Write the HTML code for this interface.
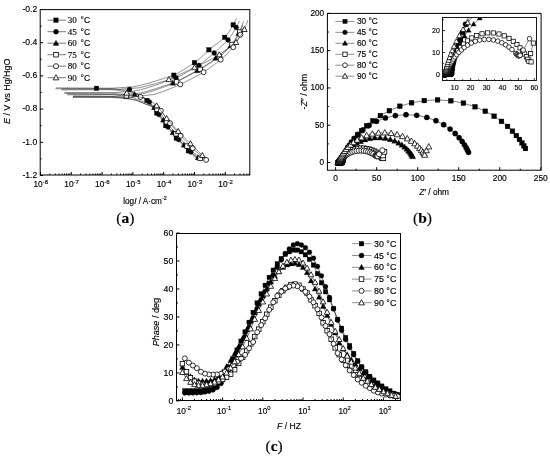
<!DOCTYPE html>
<html><head><meta charset="utf-8"><style>
html,body{margin:0;padding:0;background:#fff;}
svg{display:block;filter:blur(0.35px);} text{stroke:#000;stroke-width:0.15px;}
</style></head><body>
<svg width="550" height="457" viewBox="0 0 550 457">
<defs><clipPath id="clipA"><rect x="41" y="10" width="209" height="165"/></clipPath><clipPath id="clipI"><rect x="443" y="18" width="93" height="62"/></clipPath></defs>
<rect width="550" height="457" fill="#fff"/>
<rect x="40.2" y="9.6" width="209.6" height="165.4" fill="none" stroke="#000" stroke-width="1"/>
<line x1="40.2" y1="9.5" x2="43.2" y2="9.5" stroke="#000" stroke-width="1"/>
<text x="37.2" y="11.8" font-size="8.6" text-anchor="end" font-family='"Liberation Sans", Arial, sans-serif' >-0.2</text>
<line x1="40.2" y1="26.1" x2="41.7" y2="26.1" stroke="#000" stroke-width="1"/>
<line x1="40.2" y1="42.7" x2="43.2" y2="42.7" stroke="#000" stroke-width="1"/>
<text x="37.2" y="45" font-size="8.6" text-anchor="end" font-family='"Liberation Sans", Arial, sans-serif' >-0.4</text>
<line x1="40.2" y1="59.3" x2="41.7" y2="59.3" stroke="#000" stroke-width="1"/>
<line x1="40.2" y1="75.9" x2="43.2" y2="75.9" stroke="#000" stroke-width="1"/>
<text x="37.2" y="78.2" font-size="8.6" text-anchor="end" font-family='"Liberation Sans", Arial, sans-serif' >-0.6</text>
<line x1="40.2" y1="92.5" x2="41.7" y2="92.5" stroke="#000" stroke-width="1"/>
<line x1="40.2" y1="109.1" x2="43.2" y2="109.1" stroke="#000" stroke-width="1"/>
<text x="37.2" y="111.4" font-size="8.6" text-anchor="end" font-family='"Liberation Sans", Arial, sans-serif' >-0.8</text>
<line x1="40.2" y1="125.7" x2="41.7" y2="125.7" stroke="#000" stroke-width="1"/>
<line x1="40.2" y1="142.3" x2="43.2" y2="142.3" stroke="#000" stroke-width="1"/>
<text x="37.2" y="144.6" font-size="8.6" text-anchor="end" font-family='"Liberation Sans", Arial, sans-serif' >-1.0</text>
<line x1="40.2" y1="158.9" x2="41.7" y2="158.9" stroke="#000" stroke-width="1"/>
<line x1="40.2" y1="175.5" x2="43.2" y2="175.5" stroke="#000" stroke-width="1"/>
<text x="37.2" y="177.8" font-size="8.6" text-anchor="end" font-family='"Liberation Sans", Arial, sans-serif' >-1.2</text>
<line x1="40.5" y1="175" x2="40.5" y2="172" stroke="#000" stroke-width="1"/>
<text x="40.8" y="187.4" font-size="8.3" text-anchor="middle" font-family='"Liberation Sans", Arial, sans-serif' >10<tspan dy="-3.6" font-size="6">-8</tspan></text>
<line x1="49.77" y1="175" x2="49.77" y2="173.5" stroke="#000" stroke-width="1"/>
<line x1="55.2" y1="175" x2="55.2" y2="173.5" stroke="#000" stroke-width="1"/>
<line x1="59.04" y1="175" x2="59.04" y2="173.5" stroke="#000" stroke-width="1"/>
<line x1="62.03" y1="175" x2="62.03" y2="173.5" stroke="#000" stroke-width="1"/>
<line x1="64.47" y1="175" x2="64.47" y2="173.5" stroke="#000" stroke-width="1"/>
<line x1="66.53" y1="175" x2="66.53" y2="173.5" stroke="#000" stroke-width="1"/>
<line x1="68.32" y1="175" x2="68.32" y2="173.5" stroke="#000" stroke-width="1"/>
<line x1="69.89" y1="175" x2="69.89" y2="173.5" stroke="#000" stroke-width="1"/>
<line x1="71.3" y1="175" x2="71.3" y2="172" stroke="#000" stroke-width="1"/>
<text x="71.6" y="187.4" font-size="8.3" text-anchor="middle" font-family='"Liberation Sans", Arial, sans-serif' >10<tspan dy="-3.6" font-size="6">-7</tspan></text>
<line x1="80.57" y1="175" x2="80.57" y2="173.5" stroke="#000" stroke-width="1"/>
<line x1="86" y1="175" x2="86" y2="173.5" stroke="#000" stroke-width="1"/>
<line x1="89.84" y1="175" x2="89.84" y2="173.5" stroke="#000" stroke-width="1"/>
<line x1="92.83" y1="175" x2="92.83" y2="173.5" stroke="#000" stroke-width="1"/>
<line x1="95.27" y1="175" x2="95.27" y2="173.5" stroke="#000" stroke-width="1"/>
<line x1="97.33" y1="175" x2="97.33" y2="173.5" stroke="#000" stroke-width="1"/>
<line x1="99.12" y1="175" x2="99.12" y2="173.5" stroke="#000" stroke-width="1"/>
<line x1="100.69" y1="175" x2="100.69" y2="173.5" stroke="#000" stroke-width="1"/>
<line x1="102.1" y1="175" x2="102.1" y2="172" stroke="#000" stroke-width="1"/>
<text x="102.4" y="187.4" font-size="8.3" text-anchor="middle" font-family='"Liberation Sans", Arial, sans-serif' >10<tspan dy="-3.6" font-size="6">-6</tspan></text>
<line x1="111.37" y1="175" x2="111.37" y2="173.5" stroke="#000" stroke-width="1"/>
<line x1="116.8" y1="175" x2="116.8" y2="173.5" stroke="#000" stroke-width="1"/>
<line x1="120.64" y1="175" x2="120.64" y2="173.5" stroke="#000" stroke-width="1"/>
<line x1="123.63" y1="175" x2="123.63" y2="173.5" stroke="#000" stroke-width="1"/>
<line x1="126.07" y1="175" x2="126.07" y2="173.5" stroke="#000" stroke-width="1"/>
<line x1="128.13" y1="175" x2="128.13" y2="173.5" stroke="#000" stroke-width="1"/>
<line x1="129.92" y1="175" x2="129.92" y2="173.5" stroke="#000" stroke-width="1"/>
<line x1="131.49" y1="175" x2="131.49" y2="173.5" stroke="#000" stroke-width="1"/>
<line x1="132.9" y1="175" x2="132.9" y2="172" stroke="#000" stroke-width="1"/>
<text x="133.2" y="187.4" font-size="8.3" text-anchor="middle" font-family='"Liberation Sans", Arial, sans-serif' >10<tspan dy="-3.6" font-size="6">-5</tspan></text>
<line x1="142.17" y1="175" x2="142.17" y2="173.5" stroke="#000" stroke-width="1"/>
<line x1="147.6" y1="175" x2="147.6" y2="173.5" stroke="#000" stroke-width="1"/>
<line x1="151.44" y1="175" x2="151.44" y2="173.5" stroke="#000" stroke-width="1"/>
<line x1="154.43" y1="175" x2="154.43" y2="173.5" stroke="#000" stroke-width="1"/>
<line x1="156.87" y1="175" x2="156.87" y2="173.5" stroke="#000" stroke-width="1"/>
<line x1="158.93" y1="175" x2="158.93" y2="173.5" stroke="#000" stroke-width="1"/>
<line x1="160.72" y1="175" x2="160.72" y2="173.5" stroke="#000" stroke-width="1"/>
<line x1="162.29" y1="175" x2="162.29" y2="173.5" stroke="#000" stroke-width="1"/>
<line x1="163.7" y1="175" x2="163.7" y2="172" stroke="#000" stroke-width="1"/>
<text x="164" y="187.4" font-size="8.3" text-anchor="middle" font-family='"Liberation Sans", Arial, sans-serif' >10<tspan dy="-3.6" font-size="6">-4</tspan></text>
<line x1="172.97" y1="175" x2="172.97" y2="173.5" stroke="#000" stroke-width="1"/>
<line x1="178.4" y1="175" x2="178.4" y2="173.5" stroke="#000" stroke-width="1"/>
<line x1="182.24" y1="175" x2="182.24" y2="173.5" stroke="#000" stroke-width="1"/>
<line x1="185.23" y1="175" x2="185.23" y2="173.5" stroke="#000" stroke-width="1"/>
<line x1="187.67" y1="175" x2="187.67" y2="173.5" stroke="#000" stroke-width="1"/>
<line x1="189.73" y1="175" x2="189.73" y2="173.5" stroke="#000" stroke-width="1"/>
<line x1="191.52" y1="175" x2="191.52" y2="173.5" stroke="#000" stroke-width="1"/>
<line x1="193.09" y1="175" x2="193.09" y2="173.5" stroke="#000" stroke-width="1"/>
<line x1="194.5" y1="175" x2="194.5" y2="172" stroke="#000" stroke-width="1"/>
<text x="194.8" y="187.4" font-size="8.3" text-anchor="middle" font-family='"Liberation Sans", Arial, sans-serif' >10<tspan dy="-3.6" font-size="6">-3</tspan></text>
<line x1="203.77" y1="175" x2="203.77" y2="173.5" stroke="#000" stroke-width="1"/>
<line x1="209.2" y1="175" x2="209.2" y2="173.5" stroke="#000" stroke-width="1"/>
<line x1="213.04" y1="175" x2="213.04" y2="173.5" stroke="#000" stroke-width="1"/>
<line x1="216.03" y1="175" x2="216.03" y2="173.5" stroke="#000" stroke-width="1"/>
<line x1="218.47" y1="175" x2="218.47" y2="173.5" stroke="#000" stroke-width="1"/>
<line x1="220.53" y1="175" x2="220.53" y2="173.5" stroke="#000" stroke-width="1"/>
<line x1="222.32" y1="175" x2="222.32" y2="173.5" stroke="#000" stroke-width="1"/>
<line x1="223.89" y1="175" x2="223.89" y2="173.5" stroke="#000" stroke-width="1"/>
<line x1="225.3" y1="175" x2="225.3" y2="172" stroke="#000" stroke-width="1"/>
<text x="225.6" y="187.4" font-size="8.3" text-anchor="middle" font-family='"Liberation Sans", Arial, sans-serif' >10<tspan dy="-3.6" font-size="6">-2</tspan></text>
<line x1="234.57" y1="175" x2="234.57" y2="173.5" stroke="#000" stroke-width="1"/>
<line x1="240" y1="175" x2="240" y2="173.5" stroke="#000" stroke-width="1"/>
<line x1="243.84" y1="175" x2="243.84" y2="173.5" stroke="#000" stroke-width="1"/>
<line x1="246.83" y1="175" x2="246.83" y2="173.5" stroke="#000" stroke-width="1"/>
<line x1="249.27" y1="175" x2="249.27" y2="173.5" stroke="#000" stroke-width="1"/>
<text transform="translate(10.2,91.3) rotate(-90) scale(1.09,1)" font-size="8.2" text-anchor="middle" font-family='"Liberation Sans", Arial, sans-serif'><tspan font-style="italic">E</tspan> / V vs Hg/HgO</text>
<text x="145" y="203.5" font-size="8.2" text-anchor="middle" font-family='"Liberation Sans", Arial, sans-serif' >log<tspan font-style="italic">I</tspan> / A·cm<tspan dy="-3.2" font-size="5.4">-2</tspan></text>
<text x="125.4" y="223.2" font-size="15.5" text-anchor="middle" font-family='"Liberation Serif", "Times New Roman", serif' >(<tspan font-weight="bold">a</tspan>)</text>
<g clip-path="url(#clipA)">
<polyline fill="none" stroke="#222" stroke-width="0.5" points="196.15,157.8 194.15,156.03 192.16,154.25 190.18,152.48 188.24,150.7 186.39,148.93 184.59,147.15 182.84,145.38 181.16,143.61 179.53,141.83 177.94,140.06 176.37,138.28 174.82,136.51 173.3,134.73 171.8,132.96 170.32,131.18 168.84,129.41 167.38,127.64 165.96,125.86 164.62,124.09 163.35,122.31 162.12,120.54 160.9,118.76 159.63,116.99 158.36,115.22 157.07,113.44 155.76,111.67 154.42,109.89 153.02,108.12 151.58,106.34 150.16,104.57 148.86,102.79 147.47,101.02 145.67,99.25 143.32,97.47 140.5,95.7 137.29,93.92 133.41,92.15 127.73,90.37 112,88.6 55.8,88.75 56.1,87.85 112,88.2 133.89,86.77 140.25,85.35 146.09,83.92 151.04,82.49 155.53,81.07 159.87,79.64 164.6,78.21 169.37,76.79 173.42,75.36 176.47,73.93 179.07,72.51 181.4,71.08 183.63,69.66 185.93,68.23 188.23,66.8 190.47,65.38 192.61,63.95 194.6,62.52 196.47,61.1 198.22,59.67 199.9,58.24 201.53,56.82 203.1,55.39 204.56,53.96 205.98,52.54 207.45,51.11 209.04,49.68 210.8,48.26 212.7,46.83 214.63,45.4 216.52,43.98 218.35,42.55 220.22,41.12 222.04,39.7 223.7,38.27 225.13,36.84 226.38,35.42 227.52,33.99 228.56,32.57 229.54,31.14 230.45,29.71 231.29,28.29 232.09,26.86 232.86,25.43 233.63,24.01 234.38,22.58 235.11,21.15 235.81,19.73 236.5,18.3"/>
<rect x="171.55" y="72.95" width="4.5" height="4.5" fill="#000" stroke="#000" stroke-width="0.3"/>
<rect x="192.25" y="60.35" width="4.5" height="4.5" fill="#000" stroke="#000" stroke-width="0.3"/>
<rect x="206.65" y="47.55" width="4.5" height="4.5" fill="#000" stroke="#000" stroke-width="0.3"/>
<rect x="222.45" y="35.05" width="4.5" height="4.5" fill="#000" stroke="#000" stroke-width="0.3"/>
<rect x="230.95" y="22.55" width="4.5" height="4.5" fill="#000" stroke="#000" stroke-width="0.3"/>
<rect x="144.65" y="98.15" width="4.5" height="4.5" fill="#000" stroke="#000" stroke-width="0.3"/>
<rect x="154.5" y="110.75" width="4.5" height="4.5" fill="#000" stroke="#000" stroke-width="0.3"/>
<rect x="163.51" y="123.35" width="4.5" height="4.5" fill="#000" stroke="#000" stroke-width="0.3"/>
<rect x="174.05" y="135.95" width="4.5" height="4.5" fill="#000" stroke="#000" stroke-width="0.3"/>
<rect x="186.1" y="148.55" width="4.5" height="4.5" fill="#000" stroke="#000" stroke-width="0.3"/>
<rect x="94.25" y="86.05" width="4.5" height="4.5" fill="#000" stroke="#000" stroke-width="0.3"/>
<polyline fill="none" stroke="#222" stroke-width="0.5" points="197.91,158.3 195.92,156.54 193.94,154.78 191.97,153.02 190.03,151.26 188.15,149.51 186.35,147.75 184.59,145.99 182.9,144.23 181.25,142.47 179.66,140.71 178.09,138.95 176.55,137.19 175.03,135.43 173.53,133.67 172.04,131.92 170.57,130.16 169.1,128.4 167.67,126.64 166.3,124.88 165.01,123.12 163.77,121.36 162.55,119.6 161.32,117.84 160.05,116.08 158.77,114.33 157.48,112.57 156.16,110.81 154.8,109.05 153.39,107.29 151.96,105.53 150.62,103.77 149.36,102.01 147.79,100.25 145.31,98.49 141.85,96.74 138.12,94.98 134.21,93.22 128.11,91.46 112,89.7 61.6,89.85 61.9,88.95 118,89.3 138.38,87.9 144.32,86.51 150.03,85.11 155.26,83.72 160.12,82.32 165.15,80.92 170.63,79.53 175.38,78.13 178.71,76.74 181.44,75.34 183.84,73.94 186.16,72.55 188.64,71.15 191.26,69.76 193.88,68.36 196.38,66.97 198.65,65.57 200.63,64.17 202.43,62.78 204.13,61.38 205.8,59.99 207.51,58.59 209.26,57.19 211,55.8 212.7,54.4 214.3,53.01 215.81,51.61 217.24,50.21 218.64,48.82 220.05,47.42 221.5,46.03 223.05,44.63 224.63,43.23 226.15,41.84 227.52,40.44 228.7,39.05 229.74,37.65 230.7,36.26 231.62,34.86 232.52,33.46 233.44,32.07 234.33,30.67 235.18,29.28 235.99,27.88 236.74,26.48 237.47,25.09 238.15,23.69 238.8,22.3 239.4,20.9"/>
<circle cx="176" cy="77.9" r="2.48" fill="#000" stroke="#000" stroke-width="0.3"/>
<circle cx="198.9" cy="65.4" r="2.48" fill="#000" stroke="#000" stroke-width="0.3"/>
<circle cx="214.2" cy="53.1" r="2.48" fill="#000" stroke="#000" stroke-width="0.3"/>
<circle cx="228" cy="39.9" r="2.48" fill="#000" stroke="#000" stroke-width="0.3"/>
<circle cx="236.2" cy="27.5" r="2.48" fill="#000" stroke="#000" stroke-width="0.3"/>
<circle cx="149.35" cy="102" r="2.48" fill="#000" stroke="#000" stroke-width="0.3"/>
<circle cx="158.9" cy="114.5" r="2.48" fill="#000" stroke="#000" stroke-width="0.3"/>
<circle cx="167.96" cy="127" r="2.48" fill="#000" stroke="#000" stroke-width="0.3"/>
<circle cx="178.58" cy="139.5" r="2.48" fill="#000" stroke="#000" stroke-width="0.3"/>
<circle cx="190.83" cy="152" r="2.48" fill="#000" stroke="#000" stroke-width="0.3"/>
<circle cx="129.5" cy="89.4" r="2.48" fill="#000" stroke="#000" stroke-width="0.3"/>
<polyline fill="none" stroke="#222" stroke-width="0.5" points="199,159 197.78,157.35 195.4,155.7 193.44,154.05 191.61,152.41 189.8,150.76 188.07,149.11 186.39,147.46 184.76,145.81 183.18,144.16 181.65,142.51 180.16,140.86 178.69,139.22 177.24,137.57 175.82,135.92 174.41,134.27 173.02,132.62 171.64,130.97 170.26,129.32 168.91,127.67 167.59,126.03 166.33,124.38 165.15,122.73 164,121.08 162.86,119.43 161.7,117.78 160.52,116.13 159.33,114.48 158.13,112.84 156.9,111.19 155.66,109.54 154.56,107.89 153.31,106.24 151.39,104.59 147.26,102.94 142.05,101.29 137.75,99.65 134.01,98 127.76,96.35 112,94.7 67.5,94.85 67.8,93.95 118,94.7 139.12,93.21 145.38,91.71 150.61,90.22 155.46,88.72 159.94,87.23 164.41,85.74 169.1,84.24 173.55,82.75 177.26,81.26 180.42,79.76 183.27,78.27 185.95,76.77 188.59,75.28 191.31,73.79 194.04,72.29 196.74,70.8 199.36,69.3 201.89,67.81 204.29,66.32 206.56,64.82 208.74,63.33 210.85,61.83 212.89,60.34 214.89,58.85 216.84,57.35 218.73,55.86 220.56,54.37 222.36,52.87 224.15,51.38 225.99,49.88 227.84,48.39 229.54,46.9 230.94,45.4 232.11,43.91 233.15,42.41 234.11,40.92 235.05,39.43 235.97,37.93 236.85,36.44 237.69,34.94 238.47,33.45 239.21,31.96 239.91,30.46 240.57,28.97 241.21,27.48 241.83,25.98 242.42,24.49 242.97,22.99 243.5,21.5"/>
<polygon points="172.84,80.08 175.65,85.14 170.03,85.14" fill="#000" stroke="#000" stroke-width="0.3" stroke-linejoin="miter"/>
<polygon points="197.09,67.67 199.9,72.74 194.28,72.74" fill="#000" stroke="#000" stroke-width="0.3" stroke-linejoin="miter"/>
<polygon points="215.74,55.28 218.55,60.34 212.93,60.34" fill="#000" stroke="#000" stroke-width="0.3" stroke-linejoin="miter"/>
<polygon points="230.6,42.88 233.41,47.94 227.79,47.94" fill="#000" stroke="#000" stroke-width="0.3" stroke-linejoin="miter"/>
<polygon points="238.5,30.47 241.31,35.54 235.69,35.54" fill="#000" stroke="#000" stroke-width="0.3" stroke-linejoin="miter"/>
<polygon points="154.3,104.58 157.11,109.64 151.49,109.64" fill="#000" stroke="#000" stroke-width="0.3" stroke-linejoin="miter"/>
<polygon points="163.25,117.08 166.07,122.14 160.44,122.14" fill="#000" stroke="#000" stroke-width="0.3" stroke-linejoin="miter"/>
<polygon points="172.92,129.57 175.73,134.64 170.11,134.64" fill="#000" stroke="#000" stroke-width="0.3" stroke-linejoin="miter"/>
<polygon points="183.98,142.07 186.79,147.14 181.17,147.14" fill="#000" stroke="#000" stroke-width="0.3" stroke-linejoin="miter"/>
<polygon points="197.97,154.57 200.78,159.64 195.15,159.64" fill="#000" stroke="#000" stroke-width="0.3" stroke-linejoin="miter"/>
<polygon points="134.5,91.48 137.31,96.54 131.69,96.54" fill="#000" stroke="#000" stroke-width="0.3" stroke-linejoin="miter"/>
<polyline fill="none" stroke="#222" stroke-width="0.5" points="201.25,159.2 199.37,157.6 197.6,155.99 195.82,154.39 194.03,152.79 192.27,151.19 190.57,149.58 188.92,147.98 187.32,146.38 185.76,144.78 184.26,143.17 182.79,141.57 181.36,139.97 179.94,138.37 178.55,136.76 177.17,135.16 175.81,133.56 174.46,131.96 173.12,130.35 171.79,128.75 170.48,127.15 169.22,125.55 168.02,123.94 166.87,122.34 165.76,120.74 164.65,119.14 163.52,117.53 162.46,115.93 161.47,114.33 160.41,112.73 159.12,111.12 157.42,109.52 154.75,107.92 151.25,106.32 147.28,104.71 143.23,103.11 139.51,101.51 135.51,99.91 128.21,98.3 112,96.7 73.3,96.85 73.6,95.95 115,96.5 136.74,95.03 143.45,93.56 149,92.09 153.73,90.62 157.9,89.15 162.05,87.68 166.23,86.21 170.18,84.74 173.65,83.28 176.77,81.81 179.67,80.34 182.46,78.87 185.24,77.4 188.07,75.93 190.9,74.46 193.69,72.99 196.41,71.52 199.04,70.05 201.56,68.58 203.99,67.11 206.35,65.64 208.65,64.17 210.92,62.7 213.18,61.23 215.46,59.77 217.65,58.3 219.62,56.83 221.38,55.36 223.02,53.89 224.56,52.42 226.05,50.95 227.5,49.48 228.9,48.01 230.24,46.54 231.52,45.07 232.74,43.6 233.92,42.13 235.04,40.66 236.06,39.19 236.96,37.72 237.77,36.26 238.52,34.79 239.23,33.32 239.92,31.85 240.59,30.38 241.23,28.91 241.85,27.44 242.44,25.97 243,24.5"/>
<rect x="174.32" y="79.65" width="4.5" height="4.5" fill="#fff" stroke="#000" stroke-width="0.8"/>
<rect x="197.92" y="67.15" width="4.5" height="4.5" fill="#fff" stroke="#000" stroke-width="0.8"/>
<rect x="217.15" y="54.75" width="4.5" height="4.5" fill="#fff" stroke="#000" stroke-width="0.8"/>
<rect x="229.75" y="42.25" width="4.5" height="4.5" fill="#fff" stroke="#000" stroke-width="0.8"/>
<rect x="237.55" y="29.85" width="4.5" height="4.5" fill="#fff" stroke="#000" stroke-width="0.8"/>
<rect x="154.86" y="107.05" width="4.5" height="4.5" fill="#fff" stroke="#000" stroke-width="0.8"/>
<rect x="164.25" y="119.55" width="4.5" height="4.5" fill="#fff" stroke="#000" stroke-width="0.8"/>
<rect x="173.76" y="131.55" width="4.5" height="4.5" fill="#fff" stroke="#000" stroke-width="0.8"/>
<rect x="184.8" y="143.85" width="4.5" height="4.5" fill="#fff" stroke="#000" stroke-width="0.8"/>
<rect x="197.92" y="156.05" width="4.5" height="4.5" fill="#fff" stroke="#000" stroke-width="0.8"/>
<rect x="124.15" y="94.15" width="4.5" height="4.5" fill="#fff" stroke="#000" stroke-width="0.8"/>
<polyline fill="none" stroke="#222" stroke-width="0.5" points="206.29,160 204.26,158.39 202.38,156.78 200.54,155.18 198.69,153.57 196.84,151.96 195.03,150.35 193.29,148.75 191.6,147.14 189.96,145.53 188.36,143.92 186.8,142.32 185.29,140.71 183.8,139.1 182.32,137.49 180.87,135.88 179.43,134.28 178.02,132.67 176.61,131.06 175.2,129.45 173.81,127.85 172.46,126.24 171.16,124.63 169.93,123.02 168.74,121.42 167.57,119.81 166.38,118.2 165.2,116.59 164.15,114.98 163.09,113.38 161.85,111.77 160.24,110.16 157.7,108.55 153.93,106.95 149.48,105.34 144.94,103.73 140.94,102.12 136.84,100.52 128.76,98.91 112,97.3 73,97.45 73.3,96.55 132,97.4 138.92,95.97 153.81,94.55 158.24,93.12 162.4,91.69 166.27,90.27 169.9,88.84 173.41,87.41 176.77,85.99 179.95,84.56 182.96,83.13 185.82,81.71 188.59,80.28 191.32,78.86 194.06,77.43 196.81,76 199.5,74.58 202.03,73.15 204.35,71.72 206.45,70.3 208.42,68.87 210.33,67.44 212.25,66.02 214.2,64.59 216.14,63.16 218.03,61.74 219.84,60.31 221.54,58.88 223.15,57.46 224.7,56.03 226.18,54.6 227.63,53.18 229.08,51.75 230.49,50.32 231.81,48.9 233,47.47 234.01,46.04 234.92,44.62 235.76,43.19 236.56,41.77 237.38,40.34 238.19,38.91 238.97,37.49 239.72,36.06 240.43,34.63 241.1,33.21 241.75,31.78 242.37,30.35 242.95,28.93 243.5,27.5"/>
<circle cx="180.3" cy="84.4" r="2.48" fill="#fff" stroke="#000" stroke-width="0.8"/>
<circle cx="203.6" cy="72.2" r="2.48" fill="#fff" stroke="#000" stroke-width="0.8"/>
<circle cx="220.7" cy="59.6" r="2.48" fill="#fff" stroke="#000" stroke-width="0.8"/>
<circle cx="233.2" cy="47.2" r="2.48" fill="#fff" stroke="#000" stroke-width="0.8"/>
<circle cx="240.4" cy="34.7" r="2.48" fill="#fff" stroke="#000" stroke-width="0.8"/>
<circle cx="160.83" cy="110.7" r="2.48" fill="#fff" stroke="#000" stroke-width="0.8"/>
<circle cx="170.06" cy="123.2" r="2.48" fill="#fff" stroke="#000" stroke-width="0.8"/>
<circle cx="180.7" cy="135.7" r="2.48" fill="#fff" stroke="#000" stroke-width="0.8"/>
<circle cx="192.71" cy="148.2" r="2.48" fill="#fff" stroke="#000" stroke-width="0.8"/>
<circle cx="206.16" cy="159.9" r="2.48" fill="#fff" stroke="#000" stroke-width="0.8"/>
<circle cx="140.5" cy="97" r="2.48" fill="#fff" stroke="#000" stroke-width="0.8"/>
<polyline fill="none" stroke="#222" stroke-width="0.5" points="204.5,158.2 203.29,156.54 201.88,154.87 200.27,153.21 198.56,151.54 196.88,149.88 195.19,148.22 193.48,146.55 191.79,144.89 190.09,143.22 188.39,141.56 186.71,139.89 185.03,138.23 183.36,136.57 181.7,134.9 180.05,133.24 178.45,131.57 176.92,129.91 175.44,128.25 173.97,126.58 172.47,124.92 170.9,123.25 169.33,121.59 167.85,119.93 166.53,118.26 165.32,116.6 164.16,114.93 162.97,113.27 161.69,111.61 160.4,109.94 159.05,108.28 157.54,106.61 155.78,104.95 153.8,103.28 151.43,101.62 148.45,99.96 144.17,98.29 137.83,96.63 130.63,94.96 112,93.3 64.5,93.45 64.8,92.55 115,92.6 133.84,91.12 140.68,89.64 146.23,88.17 151,86.69 155.57,85.21 159.66,83.73 163.12,82.26 166.21,80.78 169.33,79.3 172.57,77.82 175.82,76.35 179.05,74.87 182.23,73.39 185.35,71.91 188.42,70.44 191.48,68.96 194.54,67.48 197.66,66 200.81,64.53 203.92,63.05 206.9,61.57 209.71,60.09 212.43,58.62 215.06,57.14 217.57,55.66 219.95,54.18 222.17,52.71 224.21,51.23 226.17,49.75 228.13,48.27 230.22,46.8 232.41,45.32 234.43,43.84 236.02,42.36 237.26,40.89 238.32,39.41 239.28,37.93 240.21,36.45 241.16,34.98 242.11,33.5 243.02,32.02 243.84,30.54 244.55,29.07 245.2,27.59 245.81,26.11 246.37,24.63 246.88,23.16 247.33,21.68 247.7,20.2"/>
<polygon points="168.9,76.58 171.71,81.64 166.09,81.64" fill="#fff" stroke="#000" stroke-width="0.8" stroke-linejoin="miter"/>
<polygon points="194.5,64.58 197.31,69.64 191.69,69.64" fill="#fff" stroke="#000" stroke-width="0.8" stroke-linejoin="miter"/>
<polygon points="219.3,51.68 222.11,56.74 216.49,56.74" fill="#fff" stroke="#000" stroke-width="0.8" stroke-linejoin="miter"/>
<polygon points="235.99,39.48 238.8,44.54 233.17,44.54" fill="#fff" stroke="#000" stroke-width="0.8" stroke-linejoin="miter"/>
<polygon points="244.4,26.47 247.21,31.54 241.59,31.54" fill="#fff" stroke="#000" stroke-width="0.8" stroke-linejoin="miter"/>
<polygon points="156.61,102.78 159.42,107.84 153.8,107.84" fill="#fff" stroke="#000" stroke-width="0.8" stroke-linejoin="miter"/>
<polygon points="166.71,115.58 169.52,120.64 163.9,120.64" fill="#fff" stroke="#000" stroke-width="0.8" stroke-linejoin="miter"/>
<polygon points="178.19,128.38 181.01,133.44 175.38,133.44" fill="#fff" stroke="#000" stroke-width="0.8" stroke-linejoin="miter"/>
<polygon points="190.47,140.67 193.29,145.74 187.66,145.74" fill="#fff" stroke="#000" stroke-width="0.8" stroke-linejoin="miter"/>
<polygon points="202.36,152.47 205.17,157.54 199.55,157.54" fill="#fff" stroke="#000" stroke-width="0.8" stroke-linejoin="miter"/>
<polygon points="126.8,90.08 129.61,95.14 123.99,95.14" fill="#fff" stroke="#000" stroke-width="0.8" stroke-linejoin="miter"/>
</g>
<line x1="47.5" y1="20.2" x2="66" y2="20.2" stroke="#222" stroke-width="0.6"/>
<rect x="53.7" y="17.9" width="4.6" height="4.6" fill="#000" stroke="#000" stroke-width="0.3"/>
<text x="67.8" y="23.2" font-size="9" text-anchor="start" font-family='"Liberation Serif", "Times New Roman", serif' >30</text>
<text x="80.6" y="23.2" font-size="8.6" text-anchor="start" font-family='"Liberation Sans", Arial, sans-serif' >°C</text>
<line x1="47.5" y1="31.7" x2="66" y2="31.7" stroke="#222" stroke-width="0.6"/>
<circle cx="56" cy="31.7" r="2.53" fill="#000" stroke="#000" stroke-width="0.3"/>
<text x="67.8" y="34.7" font-size="9" text-anchor="start" font-family='"Liberation Serif", "Times New Roman", serif' >45</text>
<text x="80.6" y="34.7" font-size="8.6" text-anchor="start" font-family='"Liberation Sans", Arial, sans-serif' >°C</text>
<line x1="47.5" y1="43.2" x2="66" y2="43.2" stroke="#222" stroke-width="0.6"/>
<polygon points="56,40.21 58.88,45.39 53.12,45.39" fill="#000" stroke="#000" stroke-width="0.3" stroke-linejoin="miter"/>
<text x="67.8" y="46.2" font-size="9" text-anchor="start" font-family='"Liberation Serif", "Times New Roman", serif' >60</text>
<text x="80.6" y="46.2" font-size="8.6" text-anchor="start" font-family='"Liberation Sans", Arial, sans-serif' >°C</text>
<line x1="47.5" y1="54.7" x2="66" y2="54.7" stroke="#222" stroke-width="0.6"/>
<rect x="53.7" y="52.4" width="4.6" height="4.6" fill="#fff" stroke="#000" stroke-width="0.8"/>
<text x="67.8" y="57.7" font-size="9" text-anchor="start" font-family='"Liberation Serif", "Times New Roman", serif' >75</text>
<text x="80.6" y="57.7" font-size="8.6" text-anchor="start" font-family='"Liberation Sans", Arial, sans-serif' >°C</text>
<line x1="47.5" y1="66.2" x2="66" y2="66.2" stroke="#222" stroke-width="0.6"/>
<circle cx="56" cy="66.2" r="2.53" fill="#fff" stroke="#000" stroke-width="0.8"/>
<text x="67.8" y="69.2" font-size="9" text-anchor="start" font-family='"Liberation Serif", "Times New Roman", serif' >80</text>
<text x="80.6" y="69.2" font-size="8.6" text-anchor="start" font-family='"Liberation Sans", Arial, sans-serif' >°C</text>
<line x1="47.5" y1="77.7" x2="66" y2="77.7" stroke="#222" stroke-width="0.6"/>
<polygon points="56,74.71 58.88,79.89 53.12,79.89" fill="#fff" stroke="#000" stroke-width="0.8" stroke-linejoin="miter"/>
<text x="67.8" y="80.7" font-size="9" text-anchor="start" font-family='"Liberation Serif", "Times New Roman", serif' >90</text>
<text x="80.6" y="80.7" font-size="8.6" text-anchor="start" font-family='"Liberation Sans", Arial, sans-serif' >°C</text>
<rect x="327.4" y="13.4" width="213.7" height="156.8" fill="none" stroke="#000" stroke-width="1"/>
<line x1="335.6" y1="170.2" x2="335.6" y2="167.2" stroke="#000" stroke-width="1"/>
<text x="335.6" y="181.3" font-size="8.4" text-anchor="middle" font-family='"Liberation Sans", Arial, sans-serif' >0</text>
<line x1="356.12" y1="170.2" x2="356.12" y2="168.7" stroke="#000" stroke-width="1"/>
<line x1="376.64" y1="170.2" x2="376.64" y2="167.2" stroke="#000" stroke-width="1"/>
<text x="376.64" y="181.3" font-size="8.4" text-anchor="middle" font-family='"Liberation Sans", Arial, sans-serif' >50</text>
<line x1="397.16" y1="170.2" x2="397.16" y2="168.7" stroke="#000" stroke-width="1"/>
<line x1="417.68" y1="170.2" x2="417.68" y2="167.2" stroke="#000" stroke-width="1"/>
<text x="417.68" y="181.3" font-size="8.4" text-anchor="middle" font-family='"Liberation Sans", Arial, sans-serif' >100</text>
<line x1="438.2" y1="170.2" x2="438.2" y2="168.7" stroke="#000" stroke-width="1"/>
<line x1="458.72" y1="170.2" x2="458.72" y2="167.2" stroke="#000" stroke-width="1"/>
<text x="458.72" y="181.3" font-size="8.4" text-anchor="middle" font-family='"Liberation Sans", Arial, sans-serif' >150</text>
<line x1="479.24" y1="170.2" x2="479.24" y2="168.7" stroke="#000" stroke-width="1"/>
<line x1="499.76" y1="170.2" x2="499.76" y2="167.2" stroke="#000" stroke-width="1"/>
<text x="499.76" y="181.3" font-size="8.4" text-anchor="middle" font-family='"Liberation Sans", Arial, sans-serif' >200</text>
<line x1="520.28" y1="170.2" x2="520.28" y2="168.7" stroke="#000" stroke-width="1"/>
<line x1="540.8" y1="170.2" x2="540.8" y2="167.2" stroke="#000" stroke-width="1"/>
<text x="540.8" y="181.3" font-size="8.4" text-anchor="middle" font-family='"Liberation Sans", Arial, sans-serif' >250</text>
<line x1="327.4" y1="162.5" x2="330.4" y2="162.5" stroke="#000" stroke-width="1"/>
<text x="324.1" y="164.8" font-size="8.2" text-anchor="end" font-family='"Liberation Sans", Arial, sans-serif' >0</text>
<line x1="327.4" y1="143.86" x2="328.9" y2="143.86" stroke="#000" stroke-width="1"/>
<line x1="327.4" y1="125.22" x2="330.4" y2="125.22" stroke="#000" stroke-width="1"/>
<text x="324.1" y="127.52" font-size="8.2" text-anchor="end" font-family='"Liberation Sans", Arial, sans-serif' >50</text>
<line x1="327.4" y1="106.59" x2="328.9" y2="106.59" stroke="#000" stroke-width="1"/>
<line x1="327.4" y1="87.95" x2="330.4" y2="87.95" stroke="#000" stroke-width="1"/>
<text x="324.1" y="90.25" font-size="8.2" text-anchor="end" font-family='"Liberation Sans", Arial, sans-serif' >100</text>
<line x1="327.4" y1="69.31" x2="328.9" y2="69.31" stroke="#000" stroke-width="1"/>
<line x1="327.4" y1="50.67" x2="330.4" y2="50.67" stroke="#000" stroke-width="1"/>
<text x="324.1" y="52.97" font-size="8.2" text-anchor="end" font-family='"Liberation Sans", Arial, sans-serif' >150</text>
<line x1="327.4" y1="32.04" x2="328.9" y2="32.04" stroke="#000" stroke-width="1"/>
<line x1="327.4" y1="13.4" x2="330.4" y2="13.4" stroke="#000" stroke-width="1"/>
<text x="324.1" y="15.7" font-size="8.2" text-anchor="end" font-family='"Liberation Sans", Arial, sans-serif' >200</text>
<text transform="translate(307,91.7) rotate(-90) scale(1.04,1)" font-size="8.4" text-anchor="middle" font-family='"Liberation Sans", Arial, sans-serif'>-<tspan font-style="italic">Z</tspan>″ / ohm</text>
<text x="434.2" y="194.5" font-size="8.3" text-anchor="middle" font-family='"Liberation Sans", Arial, sans-serif' ><tspan font-style="italic">Z</tspan>′ / ohm</text>
<text x="422.5" y="223" font-size="15.5" text-anchor="middle" font-family='"Liberation Serif", "Times New Roman", serif' >(<tspan font-weight="bold">b</tspan>)</text>
<polyline fill="none" stroke="#000" stroke-width="0.5" points="337.73,162.72 339.01,162.65 340.29,162.57 341.57,162.39 341.58,162.37 341.59,162.35 341.6,162.32 341.61,162.28 341.63,162.23 341.65,162.18 341.67,162.11 341.7,162.04 341.73,161.94 341.77,161.83 341.82,161.7 341.88,161.54 341.96,161.34 342.05,161.11 342.15,160.83 342.28,160.5 342.44,160.1 342.63,159.62 342.86,159.04 343.15,158.36 343.5,157.54 343.93,156.56 344.46,155.4 345.12,154.03 345.93,152.39 346.95,150.47 348.23,148.21 349.83,145.57 351.85,142.52 354.39,139.01 357.6,135.05 361.62,130.64 366.64,125.84 372.84,120.76 380.38,115.62 389.37,110.67 399.81,106.26 411.56,102.77 424.3,100.56 437.56,99.85 450.79,100.75 463.43,103.13 475.04,106.75 485.31,111.25 494.12,116.24 501.49,121.39 507.54,126.43 512.43,131.19 516.34,135.55 519.46,139.46 521.93,142.91 523.9,145.91 525.46,148.5"/>
<rect x="335.33" y="160.32" width="4.8" height="4.8" fill="#000" stroke="#000" stroke-width="0.3"/>
<rect x="336.61" y="160.25" width="4.8" height="4.8" fill="#000" stroke="#000" stroke-width="0.3"/>
<rect x="337.89" y="160.17" width="4.8" height="4.8" fill="#000" stroke="#000" stroke-width="0.3"/>
<rect x="339.17" y="159.99" width="4.8" height="4.8" fill="#000" stroke="#000" stroke-width="0.3"/>
<rect x="339.18" y="159.97" width="4.8" height="4.8" fill="#000" stroke="#000" stroke-width="0.3"/>
<rect x="339.19" y="159.95" width="4.8" height="4.8" fill="#000" stroke="#000" stroke-width="0.3"/>
<rect x="339.2" y="159.92" width="4.8" height="4.8" fill="#000" stroke="#000" stroke-width="0.3"/>
<rect x="339.21" y="159.88" width="4.8" height="4.8" fill="#000" stroke="#000" stroke-width="0.3"/>
<rect x="339.23" y="159.83" width="4.8" height="4.8" fill="#000" stroke="#000" stroke-width="0.3"/>
<rect x="339.25" y="159.78" width="4.8" height="4.8" fill="#000" stroke="#000" stroke-width="0.3"/>
<rect x="339.27" y="159.71" width="4.8" height="4.8" fill="#000" stroke="#000" stroke-width="0.3"/>
<rect x="339.3" y="159.64" width="4.8" height="4.8" fill="#000" stroke="#000" stroke-width="0.3"/>
<rect x="339.33" y="159.54" width="4.8" height="4.8" fill="#000" stroke="#000" stroke-width="0.3"/>
<rect x="339.37" y="159.43" width="4.8" height="4.8" fill="#000" stroke="#000" stroke-width="0.3"/>
<rect x="339.42" y="159.3" width="4.8" height="4.8" fill="#000" stroke="#000" stroke-width="0.3"/>
<rect x="339.48" y="159.14" width="4.8" height="4.8" fill="#000" stroke="#000" stroke-width="0.3"/>
<rect x="339.56" y="158.94" width="4.8" height="4.8" fill="#000" stroke="#000" stroke-width="0.3"/>
<rect x="339.65" y="158.71" width="4.8" height="4.8" fill="#000" stroke="#000" stroke-width="0.3"/>
<rect x="339.75" y="158.43" width="4.8" height="4.8" fill="#000" stroke="#000" stroke-width="0.3"/>
<rect x="339.88" y="158.1" width="4.8" height="4.8" fill="#000" stroke="#000" stroke-width="0.3"/>
<rect x="340.04" y="157.7" width="4.8" height="4.8" fill="#000" stroke="#000" stroke-width="0.3"/>
<rect x="340.23" y="157.22" width="4.8" height="4.8" fill="#000" stroke="#000" stroke-width="0.3"/>
<rect x="340.46" y="156.64" width="4.8" height="4.8" fill="#000" stroke="#000" stroke-width="0.3"/>
<rect x="340.75" y="155.96" width="4.8" height="4.8" fill="#000" stroke="#000" stroke-width="0.3"/>
<rect x="341.1" y="155.14" width="4.8" height="4.8" fill="#000" stroke="#000" stroke-width="0.3"/>
<rect x="341.53" y="154.16" width="4.8" height="4.8" fill="#000" stroke="#000" stroke-width="0.3"/>
<rect x="342.06" y="153" width="4.8" height="4.8" fill="#000" stroke="#000" stroke-width="0.3"/>
<rect x="342.72" y="151.63" width="4.8" height="4.8" fill="#000" stroke="#000" stroke-width="0.3"/>
<rect x="343.53" y="149.99" width="4.8" height="4.8" fill="#000" stroke="#000" stroke-width="0.3"/>
<rect x="344.55" y="148.07" width="4.8" height="4.8" fill="#000" stroke="#000" stroke-width="0.3"/>
<rect x="345.83" y="145.81" width="4.8" height="4.8" fill="#000" stroke="#000" stroke-width="0.3"/>
<rect x="347.43" y="143.17" width="4.8" height="4.8" fill="#000" stroke="#000" stroke-width="0.3"/>
<rect x="349.45" y="140.12" width="4.8" height="4.8" fill="#000" stroke="#000" stroke-width="0.3"/>
<rect x="351.99" y="136.61" width="4.8" height="4.8" fill="#000" stroke="#000" stroke-width="0.3"/>
<rect x="355.2" y="132.65" width="4.8" height="4.8" fill="#000" stroke="#000" stroke-width="0.3"/>
<rect x="359.22" y="128.24" width="4.8" height="4.8" fill="#000" stroke="#000" stroke-width="0.3"/>
<rect x="364.24" y="123.44" width="4.8" height="4.8" fill="#000" stroke="#000" stroke-width="0.3"/>
<rect x="370.44" y="118.36" width="4.8" height="4.8" fill="#000" stroke="#000" stroke-width="0.3"/>
<rect x="377.98" y="113.22" width="4.8" height="4.8" fill="#000" stroke="#000" stroke-width="0.3"/>
<rect x="386.97" y="108.27" width="4.8" height="4.8" fill="#000" stroke="#000" stroke-width="0.3"/>
<rect x="397.41" y="103.86" width="4.8" height="4.8" fill="#000" stroke="#000" stroke-width="0.3"/>
<rect x="409.16" y="100.37" width="4.8" height="4.8" fill="#000" stroke="#000" stroke-width="0.3"/>
<rect x="421.9" y="98.16" width="4.8" height="4.8" fill="#000" stroke="#000" stroke-width="0.3"/>
<rect x="435.16" y="97.45" width="4.8" height="4.8" fill="#000" stroke="#000" stroke-width="0.3"/>
<rect x="448.39" y="98.35" width="4.8" height="4.8" fill="#000" stroke="#000" stroke-width="0.3"/>
<rect x="461.03" y="100.73" width="4.8" height="4.8" fill="#000" stroke="#000" stroke-width="0.3"/>
<rect x="472.64" y="104.35" width="4.8" height="4.8" fill="#000" stroke="#000" stroke-width="0.3"/>
<rect x="482.91" y="108.85" width="4.8" height="4.8" fill="#000" stroke="#000" stroke-width="0.3"/>
<rect x="491.72" y="113.84" width="4.8" height="4.8" fill="#000" stroke="#000" stroke-width="0.3"/>
<rect x="499.09" y="118.99" width="4.8" height="4.8" fill="#000" stroke="#000" stroke-width="0.3"/>
<rect x="505.14" y="124.03" width="4.8" height="4.8" fill="#000" stroke="#000" stroke-width="0.3"/>
<rect x="510.03" y="128.79" width="4.8" height="4.8" fill="#000" stroke="#000" stroke-width="0.3"/>
<rect x="513.94" y="133.15" width="4.8" height="4.8" fill="#000" stroke="#000" stroke-width="0.3"/>
<rect x="517.06" y="137.06" width="4.8" height="4.8" fill="#000" stroke="#000" stroke-width="0.3"/>
<rect x="519.53" y="140.51" width="4.8" height="4.8" fill="#000" stroke="#000" stroke-width="0.3"/>
<rect x="521.5" y="143.51" width="4.8" height="4.8" fill="#000" stroke="#000" stroke-width="0.3"/>
<rect x="523.06" y="146.1" width="4.8" height="4.8" fill="#000" stroke="#000" stroke-width="0.3"/>
<polyline fill="none" stroke="#000" stroke-width="0.5" points="338.06,162.72 339.41,162.65 340.76,162.57 342.11,162.47 342.12,162.46 342.12,162.45 342.12,162.44 342.12,162.43 342.13,162.42 342.13,162.4 342.14,162.37 342.14,162.35 342.15,162.31 342.16,162.27 342.17,162.22 342.19,162.16 342.21,162.08 342.23,161.99 342.25,161.88 342.29,161.74 342.33,161.57 342.38,161.36 342.45,161.11 342.53,160.81 342.62,160.44 342.75,159.99 342.91,159.44 343.11,158.77 343.36,157.96 343.69,156.98 344.11,155.79 344.65,154.37 345.37,152.66 346.31,150.61 347.55,148.2 349.2,145.36 351.38,142.09 354.26,138.37 358.02,134.27 362.88,129.91 369.02,125.5 376.54,121.37 385.41,117.93 395.39,115.58 406.01,114.66 416.7,115.3 426.83,117.41 435.92,120.69 443.7,124.72 450.08,129.1 455.16,133.5 459.11,137.65 462.14,141.44 464.43,144.8 466.16,147.71 467.47,150.2 468.46,152.31"/>
<circle cx="338.06" cy="162.72" r="2.64" fill="#000" stroke="#000" stroke-width="0.3"/>
<circle cx="339.41" cy="162.65" r="2.64" fill="#000" stroke="#000" stroke-width="0.3"/>
<circle cx="340.76" cy="162.57" r="2.64" fill="#000" stroke="#000" stroke-width="0.3"/>
<circle cx="342.11" cy="162.47" r="2.64" fill="#000" stroke="#000" stroke-width="0.3"/>
<circle cx="342.12" cy="162.46" r="2.64" fill="#000" stroke="#000" stroke-width="0.3"/>
<circle cx="342.12" cy="162.45" r="2.64" fill="#000" stroke="#000" stroke-width="0.3"/>
<circle cx="342.12" cy="162.44" r="2.64" fill="#000" stroke="#000" stroke-width="0.3"/>
<circle cx="342.12" cy="162.43" r="2.64" fill="#000" stroke="#000" stroke-width="0.3"/>
<circle cx="342.13" cy="162.42" r="2.64" fill="#000" stroke="#000" stroke-width="0.3"/>
<circle cx="342.13" cy="162.4" r="2.64" fill="#000" stroke="#000" stroke-width="0.3"/>
<circle cx="342.14" cy="162.37" r="2.64" fill="#000" stroke="#000" stroke-width="0.3"/>
<circle cx="342.14" cy="162.35" r="2.64" fill="#000" stroke="#000" stroke-width="0.3"/>
<circle cx="342.15" cy="162.31" r="2.64" fill="#000" stroke="#000" stroke-width="0.3"/>
<circle cx="342.16" cy="162.27" r="2.64" fill="#000" stroke="#000" stroke-width="0.3"/>
<circle cx="342.17" cy="162.22" r="2.64" fill="#000" stroke="#000" stroke-width="0.3"/>
<circle cx="342.19" cy="162.16" r="2.64" fill="#000" stroke="#000" stroke-width="0.3"/>
<circle cx="342.21" cy="162.08" r="2.64" fill="#000" stroke="#000" stroke-width="0.3"/>
<circle cx="342.23" cy="161.99" r="2.64" fill="#000" stroke="#000" stroke-width="0.3"/>
<circle cx="342.25" cy="161.88" r="2.64" fill="#000" stroke="#000" stroke-width="0.3"/>
<circle cx="342.29" cy="161.74" r="2.64" fill="#000" stroke="#000" stroke-width="0.3"/>
<circle cx="342.33" cy="161.57" r="2.64" fill="#000" stroke="#000" stroke-width="0.3"/>
<circle cx="342.38" cy="161.36" r="2.64" fill="#000" stroke="#000" stroke-width="0.3"/>
<circle cx="342.45" cy="161.11" r="2.64" fill="#000" stroke="#000" stroke-width="0.3"/>
<circle cx="342.53" cy="160.81" r="2.64" fill="#000" stroke="#000" stroke-width="0.3"/>
<circle cx="342.62" cy="160.44" r="2.64" fill="#000" stroke="#000" stroke-width="0.3"/>
<circle cx="342.75" cy="159.99" r="2.64" fill="#000" stroke="#000" stroke-width="0.3"/>
<circle cx="342.91" cy="159.44" r="2.64" fill="#000" stroke="#000" stroke-width="0.3"/>
<circle cx="343.11" cy="158.77" r="2.64" fill="#000" stroke="#000" stroke-width="0.3"/>
<circle cx="343.36" cy="157.96" r="2.64" fill="#000" stroke="#000" stroke-width="0.3"/>
<circle cx="343.69" cy="156.98" r="2.64" fill="#000" stroke="#000" stroke-width="0.3"/>
<circle cx="344.11" cy="155.79" r="2.64" fill="#000" stroke="#000" stroke-width="0.3"/>
<circle cx="344.65" cy="154.37" r="2.64" fill="#000" stroke="#000" stroke-width="0.3"/>
<circle cx="345.37" cy="152.66" r="2.64" fill="#000" stroke="#000" stroke-width="0.3"/>
<circle cx="346.31" cy="150.61" r="2.64" fill="#000" stroke="#000" stroke-width="0.3"/>
<circle cx="347.55" cy="148.2" r="2.64" fill="#000" stroke="#000" stroke-width="0.3"/>
<circle cx="349.2" cy="145.36" r="2.64" fill="#000" stroke="#000" stroke-width="0.3"/>
<circle cx="351.38" cy="142.09" r="2.64" fill="#000" stroke="#000" stroke-width="0.3"/>
<circle cx="354.26" cy="138.37" r="2.64" fill="#000" stroke="#000" stroke-width="0.3"/>
<circle cx="358.02" cy="134.27" r="2.64" fill="#000" stroke="#000" stroke-width="0.3"/>
<circle cx="362.88" cy="129.91" r="2.64" fill="#000" stroke="#000" stroke-width="0.3"/>
<circle cx="369.02" cy="125.5" r="2.64" fill="#000" stroke="#000" stroke-width="0.3"/>
<circle cx="376.54" cy="121.37" r="2.64" fill="#000" stroke="#000" stroke-width="0.3"/>
<circle cx="385.41" cy="117.93" r="2.64" fill="#000" stroke="#000" stroke-width="0.3"/>
<circle cx="395.39" cy="115.58" r="2.64" fill="#000" stroke="#000" stroke-width="0.3"/>
<circle cx="406.01" cy="114.66" r="2.64" fill="#000" stroke="#000" stroke-width="0.3"/>
<circle cx="416.7" cy="115.3" r="2.64" fill="#000" stroke="#000" stroke-width="0.3"/>
<circle cx="426.83" cy="117.41" r="2.64" fill="#000" stroke="#000" stroke-width="0.3"/>
<circle cx="435.92" cy="120.69" r="2.64" fill="#000" stroke="#000" stroke-width="0.3"/>
<circle cx="443.7" cy="124.72" r="2.64" fill="#000" stroke="#000" stroke-width="0.3"/>
<circle cx="450.08" cy="129.1" r="2.64" fill="#000" stroke="#000" stroke-width="0.3"/>
<circle cx="455.16" cy="133.5" r="2.64" fill="#000" stroke="#000" stroke-width="0.3"/>
<circle cx="459.11" cy="137.65" r="2.64" fill="#000" stroke="#000" stroke-width="0.3"/>
<circle cx="462.14" cy="141.44" r="2.64" fill="#000" stroke="#000" stroke-width="0.3"/>
<circle cx="464.43" cy="144.8" r="2.64" fill="#000" stroke="#000" stroke-width="0.3"/>
<circle cx="466.16" cy="147.71" r="2.64" fill="#000" stroke="#000" stroke-width="0.3"/>
<circle cx="467.47" cy="150.2" r="2.64" fill="#000" stroke="#000" stroke-width="0.3"/>
<circle cx="468.46" cy="152.31" r="2.64" fill="#000" stroke="#000" stroke-width="0.3"/>
<polyline fill="none" stroke="#000" stroke-width="0.5" points="338.23,162.72 339.46,162.61 340.69,162.47 340.69,162.46 340.69,162.45 340.7,162.44 340.7,162.43 340.71,162.41 340.71,162.4 340.72,162.37 340.73,162.35 340.74,162.32 340.75,162.28 340.77,162.24 340.79,162.18 340.81,162.12 340.84,162.04 340.87,161.95 340.91,161.83 340.96,161.7 341.03,161.54 341.1,161.34 341.19,161.11 341.3,160.83 341.44,160.49 341.61,160.1 341.82,159.62 342.09,159.05 342.41,158.38 342.82,157.59 343.34,156.66 344,155.57 344.82,154.31 345.87,152.86 347.2,151.22 348.87,149.41 350.97,147.44 353.56,145.38 356.71,143.31 360.46,141.36 364.79,139.67 369.63,138.4 374.82,137.69 380.15,137.61 385.39,138.19 390.32,139.35 394.77,140.96 398.65,142.87 401.93,144.93 404.64,147 406.83,149 408.59,150.85 409.99,152.52 411.09,154.01 411.96,155.31 412.65,156.44"/>
<polygon points="338.23,159.6 341.23,165 335.23,165" fill="#000" stroke="#000" stroke-width="0.3" stroke-linejoin="miter"/>
<polygon points="339.46,159.49 342.46,164.89 336.46,164.89" fill="#000" stroke="#000" stroke-width="0.3" stroke-linejoin="miter"/>
<polygon points="340.69,159.35 343.69,164.75 337.69,164.75" fill="#000" stroke="#000" stroke-width="0.3" stroke-linejoin="miter"/>
<polygon points="340.69,159.34 343.69,164.74 337.69,164.74" fill="#000" stroke="#000" stroke-width="0.3" stroke-linejoin="miter"/>
<polygon points="340.69,159.33 343.69,164.73 337.69,164.73" fill="#000" stroke="#000" stroke-width="0.3" stroke-linejoin="miter"/>
<polygon points="340.7,159.32 343.7,164.72 337.7,164.72" fill="#000" stroke="#000" stroke-width="0.3" stroke-linejoin="miter"/>
<polygon points="340.7,159.31 343.7,164.71 337.7,164.71" fill="#000" stroke="#000" stroke-width="0.3" stroke-linejoin="miter"/>
<polygon points="340.71,159.29 343.71,164.69 337.71,164.69" fill="#000" stroke="#000" stroke-width="0.3" stroke-linejoin="miter"/>
<polygon points="340.71,159.28 343.71,164.68 337.71,164.68" fill="#000" stroke="#000" stroke-width="0.3" stroke-linejoin="miter"/>
<polygon points="340.72,159.25 343.72,164.65 337.72,164.65" fill="#000" stroke="#000" stroke-width="0.3" stroke-linejoin="miter"/>
<polygon points="340.73,159.23 343.73,164.63 337.73,164.63" fill="#000" stroke="#000" stroke-width="0.3" stroke-linejoin="miter"/>
<polygon points="340.74,159.2 343.74,164.6 337.74,164.6" fill="#000" stroke="#000" stroke-width="0.3" stroke-linejoin="miter"/>
<polygon points="340.75,159.16 343.75,164.56 337.75,164.56" fill="#000" stroke="#000" stroke-width="0.3" stroke-linejoin="miter"/>
<polygon points="340.77,159.12 343.77,164.52 337.77,164.52" fill="#000" stroke="#000" stroke-width="0.3" stroke-linejoin="miter"/>
<polygon points="340.79,159.06 343.79,164.46 337.79,164.46" fill="#000" stroke="#000" stroke-width="0.3" stroke-linejoin="miter"/>
<polygon points="340.81,159 343.81,164.4 337.81,164.4" fill="#000" stroke="#000" stroke-width="0.3" stroke-linejoin="miter"/>
<polygon points="340.84,158.92 343.84,164.32 337.84,164.32" fill="#000" stroke="#000" stroke-width="0.3" stroke-linejoin="miter"/>
<polygon points="340.87,158.83 343.87,164.23 337.87,164.23" fill="#000" stroke="#000" stroke-width="0.3" stroke-linejoin="miter"/>
<polygon points="340.91,158.71 343.91,164.11 337.91,164.11" fill="#000" stroke="#000" stroke-width="0.3" stroke-linejoin="miter"/>
<polygon points="340.96,158.58 343.96,163.98 337.96,163.98" fill="#000" stroke="#000" stroke-width="0.3" stroke-linejoin="miter"/>
<polygon points="341.03,158.42 344.03,163.82 338.03,163.82" fill="#000" stroke="#000" stroke-width="0.3" stroke-linejoin="miter"/>
<polygon points="341.1,158.22 344.1,163.62 338.1,163.62" fill="#000" stroke="#000" stroke-width="0.3" stroke-linejoin="miter"/>
<polygon points="341.19,157.99 344.19,163.39 338.19,163.39" fill="#000" stroke="#000" stroke-width="0.3" stroke-linejoin="miter"/>
<polygon points="341.3,157.71 344.3,163.11 338.3,163.11" fill="#000" stroke="#000" stroke-width="0.3" stroke-linejoin="miter"/>
<polygon points="341.44,157.37 344.44,162.77 338.44,162.77" fill="#000" stroke="#000" stroke-width="0.3" stroke-linejoin="miter"/>
<polygon points="341.61,156.98 344.61,162.38 338.61,162.38" fill="#000" stroke="#000" stroke-width="0.3" stroke-linejoin="miter"/>
<polygon points="341.82,156.5 344.82,161.9 338.82,161.9" fill="#000" stroke="#000" stroke-width="0.3" stroke-linejoin="miter"/>
<polygon points="342.09,155.93 345.09,161.33 339.09,161.33" fill="#000" stroke="#000" stroke-width="0.3" stroke-linejoin="miter"/>
<polygon points="342.41,155.26 345.41,160.66 339.41,160.66" fill="#000" stroke="#000" stroke-width="0.3" stroke-linejoin="miter"/>
<polygon points="342.82,154.47 345.82,159.87 339.82,159.87" fill="#000" stroke="#000" stroke-width="0.3" stroke-linejoin="miter"/>
<polygon points="343.34,153.54 346.34,158.94 340.34,158.94" fill="#000" stroke="#000" stroke-width="0.3" stroke-linejoin="miter"/>
<polygon points="344,152.45 347,157.85 341,157.85" fill="#000" stroke="#000" stroke-width="0.3" stroke-linejoin="miter"/>
<polygon points="344.82,151.19 347.82,156.59 341.82,156.59" fill="#000" stroke="#000" stroke-width="0.3" stroke-linejoin="miter"/>
<polygon points="345.87,149.74 348.87,155.14 342.87,155.14" fill="#000" stroke="#000" stroke-width="0.3" stroke-linejoin="miter"/>
<polygon points="347.2,148.1 350.2,153.5 344.2,153.5" fill="#000" stroke="#000" stroke-width="0.3" stroke-linejoin="miter"/>
<polygon points="348.87,146.29 351.87,151.69 345.87,151.69" fill="#000" stroke="#000" stroke-width="0.3" stroke-linejoin="miter"/>
<polygon points="350.97,144.32 353.97,149.72 347.97,149.72" fill="#000" stroke="#000" stroke-width="0.3" stroke-linejoin="miter"/>
<polygon points="353.56,142.26 356.56,147.66 350.56,147.66" fill="#000" stroke="#000" stroke-width="0.3" stroke-linejoin="miter"/>
<polygon points="356.71,140.19 359.71,145.59 353.71,145.59" fill="#000" stroke="#000" stroke-width="0.3" stroke-linejoin="miter"/>
<polygon points="360.46,138.24 363.46,143.64 357.46,143.64" fill="#000" stroke="#000" stroke-width="0.3" stroke-linejoin="miter"/>
<polygon points="364.79,136.55 367.79,141.95 361.79,141.95" fill="#000" stroke="#000" stroke-width="0.3" stroke-linejoin="miter"/>
<polygon points="369.63,135.28 372.63,140.68 366.63,140.68" fill="#000" stroke="#000" stroke-width="0.3" stroke-linejoin="miter"/>
<polygon points="374.82,134.57 377.82,139.97 371.82,139.97" fill="#000" stroke="#000" stroke-width="0.3" stroke-linejoin="miter"/>
<polygon points="380.15,134.49 383.15,139.89 377.15,139.89" fill="#000" stroke="#000" stroke-width="0.3" stroke-linejoin="miter"/>
<polygon points="385.39,135.07 388.39,140.47 382.39,140.47" fill="#000" stroke="#000" stroke-width="0.3" stroke-linejoin="miter"/>
<polygon points="390.32,136.23 393.32,141.63 387.32,141.63" fill="#000" stroke="#000" stroke-width="0.3" stroke-linejoin="miter"/>
<polygon points="394.77,137.84 397.77,143.24 391.77,143.24" fill="#000" stroke="#000" stroke-width="0.3" stroke-linejoin="miter"/>
<polygon points="398.65,139.75 401.65,145.15 395.65,145.15" fill="#000" stroke="#000" stroke-width="0.3" stroke-linejoin="miter"/>
<polygon points="401.93,141.81 404.93,147.21 398.93,147.21" fill="#000" stroke="#000" stroke-width="0.3" stroke-linejoin="miter"/>
<polygon points="404.64,143.88 407.64,149.28 401.64,149.28" fill="#000" stroke="#000" stroke-width="0.3" stroke-linejoin="miter"/>
<polygon points="406.83,145.88 409.83,151.28 403.83,151.28" fill="#000" stroke="#000" stroke-width="0.3" stroke-linejoin="miter"/>
<polygon points="408.59,147.73 411.59,153.13 405.59,153.13" fill="#000" stroke="#000" stroke-width="0.3" stroke-linejoin="miter"/>
<polygon points="409.99,149.4 412.99,154.8 406.99,154.8" fill="#000" stroke="#000" stroke-width="0.3" stroke-linejoin="miter"/>
<polygon points="411.09,150.89 414.09,156.29 408.09,156.29" fill="#000" stroke="#000" stroke-width="0.3" stroke-linejoin="miter"/>
<polygon points="411.96,152.19 414.96,157.59 408.96,157.59" fill="#000" stroke="#000" stroke-width="0.3" stroke-linejoin="miter"/>
<polygon points="412.65,153.32 415.65,158.72 409.65,158.72" fill="#000" stroke="#000" stroke-width="0.3" stroke-linejoin="miter"/>
<polyline fill="none" stroke="#000" stroke-width="0.5" points="338.47,162.72 339.54,162.48 339.54,162.47 339.54,162.47 339.54,162.46 339.55,162.45 339.55,162.44 339.56,162.43 339.56,162.42 339.57,162.4 339.58,162.38 339.59,162.36 339.6,162.33 339.61,162.29 339.63,162.25 339.65,162.21 339.67,162.15 339.7,162.08 339.74,162 339.78,161.91 339.83,161.79 339.9,161.66 339.97,161.5 340.06,161.31 340.18,161.08 340.31,160.82 340.48,160.51 340.68,160.14 340.94,159.71 341.25,159.21 341.63,158.63 342.11,157.96 342.7,157.2 343.44,156.34 344.34,155.39 345.46,154.37 346.82,153.28 348.45,152.17 350.38,151.08 352.62,150.09 355.14,149.26 357.89,148.67 360.8,148.38 363.75,148.4 366.63,148.75 369.35,149.38 371.83,150.24 374.02,151.25 375.91,152.34 377.49,153.45 378.81,154.53 379.89,155.55 380.77,156.48 381.48,157.32 382.05,158.07 383.21,158.25 382.96,155.42 384.36,151.84"/>
<rect x="336.07" y="160.32" width="4.8" height="4.8" fill="#fff" stroke="#000" stroke-width="0.8"/>
<rect x="337.14" y="160.08" width="4.8" height="4.8" fill="#fff" stroke="#000" stroke-width="0.8"/>
<rect x="337.14" y="160.07" width="4.8" height="4.8" fill="#fff" stroke="#000" stroke-width="0.8"/>
<rect x="337.14" y="160.07" width="4.8" height="4.8" fill="#fff" stroke="#000" stroke-width="0.8"/>
<rect x="337.14" y="160.06" width="4.8" height="4.8" fill="#fff" stroke="#000" stroke-width="0.8"/>
<rect x="337.15" y="160.05" width="4.8" height="4.8" fill="#fff" stroke="#000" stroke-width="0.8"/>
<rect x="337.15" y="160.04" width="4.8" height="4.8" fill="#fff" stroke="#000" stroke-width="0.8"/>
<rect x="337.16" y="160.03" width="4.8" height="4.8" fill="#fff" stroke="#000" stroke-width="0.8"/>
<rect x="337.16" y="160.02" width="4.8" height="4.8" fill="#fff" stroke="#000" stroke-width="0.8"/>
<rect x="337.17" y="160" width="4.8" height="4.8" fill="#fff" stroke="#000" stroke-width="0.8"/>
<rect x="337.18" y="159.98" width="4.8" height="4.8" fill="#fff" stroke="#000" stroke-width="0.8"/>
<rect x="337.19" y="159.96" width="4.8" height="4.8" fill="#fff" stroke="#000" stroke-width="0.8"/>
<rect x="337.2" y="159.93" width="4.8" height="4.8" fill="#fff" stroke="#000" stroke-width="0.8"/>
<rect x="337.21" y="159.89" width="4.8" height="4.8" fill="#fff" stroke="#000" stroke-width="0.8"/>
<rect x="337.23" y="159.85" width="4.8" height="4.8" fill="#fff" stroke="#000" stroke-width="0.8"/>
<rect x="337.25" y="159.81" width="4.8" height="4.8" fill="#fff" stroke="#000" stroke-width="0.8"/>
<rect x="337.27" y="159.75" width="4.8" height="4.8" fill="#fff" stroke="#000" stroke-width="0.8"/>
<rect x="337.3" y="159.68" width="4.8" height="4.8" fill="#fff" stroke="#000" stroke-width="0.8"/>
<rect x="337.34" y="159.6" width="4.8" height="4.8" fill="#fff" stroke="#000" stroke-width="0.8"/>
<rect x="337.38" y="159.51" width="4.8" height="4.8" fill="#fff" stroke="#000" stroke-width="0.8"/>
<rect x="337.43" y="159.39" width="4.8" height="4.8" fill="#fff" stroke="#000" stroke-width="0.8"/>
<rect x="337.5" y="159.26" width="4.8" height="4.8" fill="#fff" stroke="#000" stroke-width="0.8"/>
<rect x="337.57" y="159.1" width="4.8" height="4.8" fill="#fff" stroke="#000" stroke-width="0.8"/>
<rect x="337.66" y="158.91" width="4.8" height="4.8" fill="#fff" stroke="#000" stroke-width="0.8"/>
<rect x="337.78" y="158.68" width="4.8" height="4.8" fill="#fff" stroke="#000" stroke-width="0.8"/>
<rect x="337.91" y="158.42" width="4.8" height="4.8" fill="#fff" stroke="#000" stroke-width="0.8"/>
<rect x="338.08" y="158.11" width="4.8" height="4.8" fill="#fff" stroke="#000" stroke-width="0.8"/>
<rect x="338.28" y="157.74" width="4.8" height="4.8" fill="#fff" stroke="#000" stroke-width="0.8"/>
<rect x="338.54" y="157.31" width="4.8" height="4.8" fill="#fff" stroke="#000" stroke-width="0.8"/>
<rect x="338.85" y="156.81" width="4.8" height="4.8" fill="#fff" stroke="#000" stroke-width="0.8"/>
<rect x="339.23" y="156.23" width="4.8" height="4.8" fill="#fff" stroke="#000" stroke-width="0.8"/>
<rect x="339.71" y="155.56" width="4.8" height="4.8" fill="#fff" stroke="#000" stroke-width="0.8"/>
<rect x="340.3" y="154.8" width="4.8" height="4.8" fill="#fff" stroke="#000" stroke-width="0.8"/>
<rect x="341.04" y="153.94" width="4.8" height="4.8" fill="#fff" stroke="#000" stroke-width="0.8"/>
<rect x="341.94" y="152.99" width="4.8" height="4.8" fill="#fff" stroke="#000" stroke-width="0.8"/>
<rect x="343.06" y="151.97" width="4.8" height="4.8" fill="#fff" stroke="#000" stroke-width="0.8"/>
<rect x="344.42" y="150.88" width="4.8" height="4.8" fill="#fff" stroke="#000" stroke-width="0.8"/>
<rect x="346.05" y="149.77" width="4.8" height="4.8" fill="#fff" stroke="#000" stroke-width="0.8"/>
<rect x="347.98" y="148.68" width="4.8" height="4.8" fill="#fff" stroke="#000" stroke-width="0.8"/>
<rect x="350.22" y="147.69" width="4.8" height="4.8" fill="#fff" stroke="#000" stroke-width="0.8"/>
<rect x="352.74" y="146.86" width="4.8" height="4.8" fill="#fff" stroke="#000" stroke-width="0.8"/>
<rect x="355.49" y="146.27" width="4.8" height="4.8" fill="#fff" stroke="#000" stroke-width="0.8"/>
<rect x="358.4" y="145.98" width="4.8" height="4.8" fill="#fff" stroke="#000" stroke-width="0.8"/>
<rect x="361.35" y="146" width="4.8" height="4.8" fill="#fff" stroke="#000" stroke-width="0.8"/>
<rect x="364.23" y="146.35" width="4.8" height="4.8" fill="#fff" stroke="#000" stroke-width="0.8"/>
<rect x="366.95" y="146.98" width="4.8" height="4.8" fill="#fff" stroke="#000" stroke-width="0.8"/>
<rect x="369.43" y="147.84" width="4.8" height="4.8" fill="#fff" stroke="#000" stroke-width="0.8"/>
<rect x="371.62" y="148.85" width="4.8" height="4.8" fill="#fff" stroke="#000" stroke-width="0.8"/>
<rect x="373.51" y="149.94" width="4.8" height="4.8" fill="#fff" stroke="#000" stroke-width="0.8"/>
<rect x="375.09" y="151.05" width="4.8" height="4.8" fill="#fff" stroke="#000" stroke-width="0.8"/>
<rect x="376.41" y="152.13" width="4.8" height="4.8" fill="#fff" stroke="#000" stroke-width="0.8"/>
<rect x="377.49" y="153.15" width="4.8" height="4.8" fill="#fff" stroke="#000" stroke-width="0.8"/>
<rect x="378.37" y="154.08" width="4.8" height="4.8" fill="#fff" stroke="#000" stroke-width="0.8"/>
<rect x="379.08" y="154.92" width="4.8" height="4.8" fill="#fff" stroke="#000" stroke-width="0.8"/>
<rect x="379.65" y="155.67" width="4.8" height="4.8" fill="#fff" stroke="#000" stroke-width="0.8"/>
<rect x="380.81" y="155.85" width="4.8" height="4.8" fill="#fff" stroke="#000" stroke-width="0.8"/>
<rect x="380.56" y="153.02" width="4.8" height="4.8" fill="#fff" stroke="#000" stroke-width="0.8"/>
<rect x="381.96" y="149.44" width="4.8" height="4.8" fill="#fff" stroke="#000" stroke-width="0.8"/>
<polyline fill="none" stroke="#000" stroke-width="0.5" points="338.31,162.72 339.11,162.47 339.11,162.47 339.12,162.46 339.12,162.45 339.12,162.44 339.13,162.43 339.14,162.42 339.14,162.41 339.15,162.39 339.16,162.37 339.18,162.35 339.19,162.32 339.21,162.29 339.23,162.26 339.25,162.22 339.28,162.17 339.32,162.11 339.36,162.04 339.4,161.96 339.46,161.87 339.52,161.76 339.6,161.63 339.69,161.48 339.8,161.31 339.94,161.1 340.09,160.87 340.28,160.6 340.5,160.29 340.77,159.93 341.09,159.52 341.47,159.05 341.93,158.52 342.48,157.93 343.14,157.28 343.92,156.56 344.86,155.8 345.96,154.99 347.25,154.15 348.74,153.33 350.45,152.54 352.35,151.83 354.45,151.25 356.69,150.83 359.03,150.6 361.41,150.58 363.77,150.78 366.03,151.17 368.14,151.74 370.08,152.43 371.81,153.21 373.34,154.03 375.33,155.34 375.82,155.64 376.23,155.87 376.56,156.09 376.89,156.16 377.21,156.16 377.54,156.01 379.1,154.22 382.39,150.35"/>
<circle cx="338.31" cy="162.72" r="2.64" fill="#fff" stroke="#000" stroke-width="0.8"/>
<circle cx="339.11" cy="162.47" r="2.64" fill="#fff" stroke="#000" stroke-width="0.8"/>
<circle cx="339.11" cy="162.47" r="2.64" fill="#fff" stroke="#000" stroke-width="0.8"/>
<circle cx="339.12" cy="162.46" r="2.64" fill="#fff" stroke="#000" stroke-width="0.8"/>
<circle cx="339.12" cy="162.45" r="2.64" fill="#fff" stroke="#000" stroke-width="0.8"/>
<circle cx="339.12" cy="162.44" r="2.64" fill="#fff" stroke="#000" stroke-width="0.8"/>
<circle cx="339.13" cy="162.43" r="2.64" fill="#fff" stroke="#000" stroke-width="0.8"/>
<circle cx="339.14" cy="162.42" r="2.64" fill="#fff" stroke="#000" stroke-width="0.8"/>
<circle cx="339.14" cy="162.41" r="2.64" fill="#fff" stroke="#000" stroke-width="0.8"/>
<circle cx="339.15" cy="162.39" r="2.64" fill="#fff" stroke="#000" stroke-width="0.8"/>
<circle cx="339.16" cy="162.37" r="2.64" fill="#fff" stroke="#000" stroke-width="0.8"/>
<circle cx="339.18" cy="162.35" r="2.64" fill="#fff" stroke="#000" stroke-width="0.8"/>
<circle cx="339.19" cy="162.32" r="2.64" fill="#fff" stroke="#000" stroke-width="0.8"/>
<circle cx="339.21" cy="162.29" r="2.64" fill="#fff" stroke="#000" stroke-width="0.8"/>
<circle cx="339.23" cy="162.26" r="2.64" fill="#fff" stroke="#000" stroke-width="0.8"/>
<circle cx="339.25" cy="162.22" r="2.64" fill="#fff" stroke="#000" stroke-width="0.8"/>
<circle cx="339.28" cy="162.17" r="2.64" fill="#fff" stroke="#000" stroke-width="0.8"/>
<circle cx="339.32" cy="162.11" r="2.64" fill="#fff" stroke="#000" stroke-width="0.8"/>
<circle cx="339.36" cy="162.04" r="2.64" fill="#fff" stroke="#000" stroke-width="0.8"/>
<circle cx="339.4" cy="161.96" r="2.64" fill="#fff" stroke="#000" stroke-width="0.8"/>
<circle cx="339.46" cy="161.87" r="2.64" fill="#fff" stroke="#000" stroke-width="0.8"/>
<circle cx="339.52" cy="161.76" r="2.64" fill="#fff" stroke="#000" stroke-width="0.8"/>
<circle cx="339.6" cy="161.63" r="2.64" fill="#fff" stroke="#000" stroke-width="0.8"/>
<circle cx="339.69" cy="161.48" r="2.64" fill="#fff" stroke="#000" stroke-width="0.8"/>
<circle cx="339.8" cy="161.31" r="2.64" fill="#fff" stroke="#000" stroke-width="0.8"/>
<circle cx="339.94" cy="161.1" r="2.64" fill="#fff" stroke="#000" stroke-width="0.8"/>
<circle cx="340.09" cy="160.87" r="2.64" fill="#fff" stroke="#000" stroke-width="0.8"/>
<circle cx="340.28" cy="160.6" r="2.64" fill="#fff" stroke="#000" stroke-width="0.8"/>
<circle cx="340.5" cy="160.29" r="2.64" fill="#fff" stroke="#000" stroke-width="0.8"/>
<circle cx="340.77" cy="159.93" r="2.64" fill="#fff" stroke="#000" stroke-width="0.8"/>
<circle cx="341.09" cy="159.52" r="2.64" fill="#fff" stroke="#000" stroke-width="0.8"/>
<circle cx="341.47" cy="159.05" r="2.64" fill="#fff" stroke="#000" stroke-width="0.8"/>
<circle cx="341.93" cy="158.52" r="2.64" fill="#fff" stroke="#000" stroke-width="0.8"/>
<circle cx="342.48" cy="157.93" r="2.64" fill="#fff" stroke="#000" stroke-width="0.8"/>
<circle cx="343.14" cy="157.28" r="2.64" fill="#fff" stroke="#000" stroke-width="0.8"/>
<circle cx="343.92" cy="156.56" r="2.64" fill="#fff" stroke="#000" stroke-width="0.8"/>
<circle cx="344.86" cy="155.8" r="2.64" fill="#fff" stroke="#000" stroke-width="0.8"/>
<circle cx="345.96" cy="154.99" r="2.64" fill="#fff" stroke="#000" stroke-width="0.8"/>
<circle cx="347.25" cy="154.15" r="2.64" fill="#fff" stroke="#000" stroke-width="0.8"/>
<circle cx="348.74" cy="153.33" r="2.64" fill="#fff" stroke="#000" stroke-width="0.8"/>
<circle cx="350.45" cy="152.54" r="2.64" fill="#fff" stroke="#000" stroke-width="0.8"/>
<circle cx="352.35" cy="151.83" r="2.64" fill="#fff" stroke="#000" stroke-width="0.8"/>
<circle cx="354.45" cy="151.25" r="2.64" fill="#fff" stroke="#000" stroke-width="0.8"/>
<circle cx="356.69" cy="150.83" r="2.64" fill="#fff" stroke="#000" stroke-width="0.8"/>
<circle cx="359.03" cy="150.6" r="2.64" fill="#fff" stroke="#000" stroke-width="0.8"/>
<circle cx="361.41" cy="150.58" r="2.64" fill="#fff" stroke="#000" stroke-width="0.8"/>
<circle cx="363.77" cy="150.78" r="2.64" fill="#fff" stroke="#000" stroke-width="0.8"/>
<circle cx="366.03" cy="151.17" r="2.64" fill="#fff" stroke="#000" stroke-width="0.8"/>
<circle cx="368.14" cy="151.74" r="2.64" fill="#fff" stroke="#000" stroke-width="0.8"/>
<circle cx="370.08" cy="152.43" r="2.64" fill="#fff" stroke="#000" stroke-width="0.8"/>
<circle cx="371.81" cy="153.21" r="2.64" fill="#fff" stroke="#000" stroke-width="0.8"/>
<circle cx="373.34" cy="154.03" r="2.64" fill="#fff" stroke="#000" stroke-width="0.8"/>
<circle cx="375.33" cy="155.34" r="2.64" fill="#fff" stroke="#000" stroke-width="0.8"/>
<circle cx="375.82" cy="155.64" r="2.64" fill="#fff" stroke="#000" stroke-width="0.8"/>
<circle cx="376.23" cy="155.87" r="2.64" fill="#fff" stroke="#000" stroke-width="0.8"/>
<circle cx="376.56" cy="156.09" r="2.64" fill="#fff" stroke="#000" stroke-width="0.8"/>
<circle cx="376.89" cy="156.16" r="2.64" fill="#fff" stroke="#000" stroke-width="0.8"/>
<circle cx="377.21" cy="156.16" r="2.64" fill="#fff" stroke="#000" stroke-width="0.8"/>
<circle cx="377.54" cy="156.01" r="2.64" fill="#fff" stroke="#000" stroke-width="0.8"/>
<circle cx="379.1" cy="154.22" r="2.64" fill="#fff" stroke="#000" stroke-width="0.8"/>
<circle cx="382.39" cy="150.35" r="2.64" fill="#fff" stroke="#000" stroke-width="0.8"/>
<polyline fill="none" stroke="#000" stroke-width="0.5" points="337.9,162.72 338.66,162.46 338.66,162.45 338.66,162.44 338.67,162.43 338.67,162.42 338.68,162.4 338.69,162.38 338.7,162.35 338.71,162.32 338.72,162.29 338.73,162.24 338.75,162.19 338.78,162.13 338.8,162.05 338.84,161.96 338.88,161.85 338.92,161.72 338.98,161.56 339.05,161.38 339.14,161.15 339.25,160.88 339.38,160.55 339.54,160.16 339.74,159.7 339.98,159.15 340.29,158.49 340.67,157.7 341.14,156.78 341.74,155.69 342.5,154.42 343.45,152.95 344.66,151.26 346.19,149.34 348.12,147.2 350.54,144.88 353.54,142.43 357.19,139.95 361.56,137.58 366.63,135.5 372.32,133.88 378.46,132.91 384.83,132.69 391.13,133.25 397.1,134.52 402.54,136.36 407.3,138.59 411.35,141.03 414.71,143.51 417.45,145.91 419.64,148.16 421.39,150.2 422.77,152.02 423.86,153.62 424.72,155 426.46,150.5 428.76,146.7"/>
<polygon points="337.9,159.6 340.9,165 334.9,165" fill="#fff" stroke="#000" stroke-width="0.8" stroke-linejoin="miter"/>
<polygon points="338.66,159.34 341.66,164.74 335.66,164.74" fill="#fff" stroke="#000" stroke-width="0.8" stroke-linejoin="miter"/>
<polygon points="338.66,159.33 341.66,164.73 335.66,164.73" fill="#fff" stroke="#000" stroke-width="0.8" stroke-linejoin="miter"/>
<polygon points="338.66,159.32 341.66,164.72 335.66,164.72" fill="#fff" stroke="#000" stroke-width="0.8" stroke-linejoin="miter"/>
<polygon points="338.67,159.31 341.67,164.71 335.67,164.71" fill="#fff" stroke="#000" stroke-width="0.8" stroke-linejoin="miter"/>
<polygon points="338.67,159.3 341.67,164.7 335.67,164.7" fill="#fff" stroke="#000" stroke-width="0.8" stroke-linejoin="miter"/>
<polygon points="338.68,159.28 341.68,164.68 335.68,164.68" fill="#fff" stroke="#000" stroke-width="0.8" stroke-linejoin="miter"/>
<polygon points="338.69,159.26 341.69,164.66 335.69,164.66" fill="#fff" stroke="#000" stroke-width="0.8" stroke-linejoin="miter"/>
<polygon points="338.7,159.23 341.7,164.63 335.7,164.63" fill="#fff" stroke="#000" stroke-width="0.8" stroke-linejoin="miter"/>
<polygon points="338.71,159.2 341.71,164.6 335.71,164.6" fill="#fff" stroke="#000" stroke-width="0.8" stroke-linejoin="miter"/>
<polygon points="338.72,159.17 341.72,164.57 335.72,164.57" fill="#fff" stroke="#000" stroke-width="0.8" stroke-linejoin="miter"/>
<polygon points="338.73,159.12 341.73,164.52 335.73,164.52" fill="#fff" stroke="#000" stroke-width="0.8" stroke-linejoin="miter"/>
<polygon points="338.75,159.07 341.75,164.47 335.75,164.47" fill="#fff" stroke="#000" stroke-width="0.8" stroke-linejoin="miter"/>
<polygon points="338.78,159.01 341.78,164.41 335.78,164.41" fill="#fff" stroke="#000" stroke-width="0.8" stroke-linejoin="miter"/>
<polygon points="338.8,158.93 341.8,164.33 335.8,164.33" fill="#fff" stroke="#000" stroke-width="0.8" stroke-linejoin="miter"/>
<polygon points="338.84,158.84 341.84,164.24 335.84,164.24" fill="#fff" stroke="#000" stroke-width="0.8" stroke-linejoin="miter"/>
<polygon points="338.88,158.73 341.88,164.13 335.88,164.13" fill="#fff" stroke="#000" stroke-width="0.8" stroke-linejoin="miter"/>
<polygon points="338.92,158.6 341.92,164 335.92,164" fill="#fff" stroke="#000" stroke-width="0.8" stroke-linejoin="miter"/>
<polygon points="338.98,158.44 341.98,163.84 335.98,163.84" fill="#fff" stroke="#000" stroke-width="0.8" stroke-linejoin="miter"/>
<polygon points="339.05,158.26 342.05,163.66 336.05,163.66" fill="#fff" stroke="#000" stroke-width="0.8" stroke-linejoin="miter"/>
<polygon points="339.14,158.03 342.14,163.43 336.14,163.43" fill="#fff" stroke="#000" stroke-width="0.8" stroke-linejoin="miter"/>
<polygon points="339.25,157.76 342.25,163.16 336.25,163.16" fill="#fff" stroke="#000" stroke-width="0.8" stroke-linejoin="miter"/>
<polygon points="339.38,157.43 342.38,162.83 336.38,162.83" fill="#fff" stroke="#000" stroke-width="0.8" stroke-linejoin="miter"/>
<polygon points="339.54,157.04 342.54,162.44 336.54,162.44" fill="#fff" stroke="#000" stroke-width="0.8" stroke-linejoin="miter"/>
<polygon points="339.74,156.58 342.74,161.98 336.74,161.98" fill="#fff" stroke="#000" stroke-width="0.8" stroke-linejoin="miter"/>
<polygon points="339.98,156.03 342.98,161.43 336.98,161.43" fill="#fff" stroke="#000" stroke-width="0.8" stroke-linejoin="miter"/>
<polygon points="340.29,155.37 343.29,160.77 337.29,160.77" fill="#fff" stroke="#000" stroke-width="0.8" stroke-linejoin="miter"/>
<polygon points="340.67,154.58 343.67,159.98 337.67,159.98" fill="#fff" stroke="#000" stroke-width="0.8" stroke-linejoin="miter"/>
<polygon points="341.14,153.66 344.14,159.06 338.14,159.06" fill="#fff" stroke="#000" stroke-width="0.8" stroke-linejoin="miter"/>
<polygon points="341.74,152.57 344.74,157.97 338.74,157.97" fill="#fff" stroke="#000" stroke-width="0.8" stroke-linejoin="miter"/>
<polygon points="342.5,151.3 345.5,156.7 339.5,156.7" fill="#fff" stroke="#000" stroke-width="0.8" stroke-linejoin="miter"/>
<polygon points="343.45,149.83 346.45,155.23 340.45,155.23" fill="#fff" stroke="#000" stroke-width="0.8" stroke-linejoin="miter"/>
<polygon points="344.66,148.14 347.66,153.54 341.66,153.54" fill="#fff" stroke="#000" stroke-width="0.8" stroke-linejoin="miter"/>
<polygon points="346.19,146.22 349.19,151.62 343.19,151.62" fill="#fff" stroke="#000" stroke-width="0.8" stroke-linejoin="miter"/>
<polygon points="348.12,144.08 351.12,149.48 345.12,149.48" fill="#fff" stroke="#000" stroke-width="0.8" stroke-linejoin="miter"/>
<polygon points="350.54,141.76 353.54,147.16 347.54,147.16" fill="#fff" stroke="#000" stroke-width="0.8" stroke-linejoin="miter"/>
<polygon points="353.54,139.31 356.54,144.71 350.54,144.71" fill="#fff" stroke="#000" stroke-width="0.8" stroke-linejoin="miter"/>
<polygon points="357.19,136.83 360.19,142.23 354.19,142.23" fill="#fff" stroke="#000" stroke-width="0.8" stroke-linejoin="miter"/>
<polygon points="361.56,134.46 364.56,139.86 358.56,139.86" fill="#fff" stroke="#000" stroke-width="0.8" stroke-linejoin="miter"/>
<polygon points="366.63,132.38 369.63,137.78 363.63,137.78" fill="#fff" stroke="#000" stroke-width="0.8" stroke-linejoin="miter"/>
<polygon points="372.32,130.76 375.32,136.16 369.32,136.16" fill="#fff" stroke="#000" stroke-width="0.8" stroke-linejoin="miter"/>
<polygon points="378.46,129.79 381.46,135.19 375.46,135.19" fill="#fff" stroke="#000" stroke-width="0.8" stroke-linejoin="miter"/>
<polygon points="384.83,129.57 387.83,134.97 381.83,134.97" fill="#fff" stroke="#000" stroke-width="0.8" stroke-linejoin="miter"/>
<polygon points="391.13,130.13 394.13,135.53 388.13,135.53" fill="#fff" stroke="#000" stroke-width="0.8" stroke-linejoin="miter"/>
<polygon points="397.1,131.4 400.1,136.8 394.1,136.8" fill="#fff" stroke="#000" stroke-width="0.8" stroke-linejoin="miter"/>
<polygon points="402.54,133.24 405.54,138.64 399.54,138.64" fill="#fff" stroke="#000" stroke-width="0.8" stroke-linejoin="miter"/>
<polygon points="407.3,135.47 410.3,140.87 404.3,140.87" fill="#fff" stroke="#000" stroke-width="0.8" stroke-linejoin="miter"/>
<polygon points="411.35,137.91 414.35,143.31 408.35,143.31" fill="#fff" stroke="#000" stroke-width="0.8" stroke-linejoin="miter"/>
<polygon points="414.71,140.39 417.71,145.79 411.71,145.79" fill="#fff" stroke="#000" stroke-width="0.8" stroke-linejoin="miter"/>
<polygon points="417.45,142.79 420.45,148.19 414.45,148.19" fill="#fff" stroke="#000" stroke-width="0.8" stroke-linejoin="miter"/>
<polygon points="419.64,145.04 422.64,150.44 416.64,150.44" fill="#fff" stroke="#000" stroke-width="0.8" stroke-linejoin="miter"/>
<polygon points="421.39,147.08 424.39,152.48 418.39,152.48" fill="#fff" stroke="#000" stroke-width="0.8" stroke-linejoin="miter"/>
<polygon points="422.77,148.9 425.77,154.3 419.77,154.3" fill="#fff" stroke="#000" stroke-width="0.8" stroke-linejoin="miter"/>
<polygon points="423.86,150.5 426.86,155.9 420.86,155.9" fill="#fff" stroke="#000" stroke-width="0.8" stroke-linejoin="miter"/>
<polygon points="424.72,151.88 427.72,157.28 421.72,157.28" fill="#fff" stroke="#000" stroke-width="0.8" stroke-linejoin="miter"/>
<polygon points="426.46,147.38 429.46,152.78 423.46,152.78" fill="#fff" stroke="#000" stroke-width="0.8" stroke-linejoin="miter"/>
<polygon points="428.76,143.58 431.76,148.98 425.76,148.98" fill="#fff" stroke="#000" stroke-width="0.8" stroke-linejoin="miter"/>
<line x1="335.4" y1="21.4" x2="354.4" y2="21.4" stroke="#333" stroke-width="0.55"/>
<rect x="342.85" y="19.25" width="4.3" height="4.3" fill="#000" stroke="#000" stroke-width="0.3"/>
<text x="357" y="24.3" font-size="8.3" text-anchor="start" font-family='"Liberation Sans", Arial, sans-serif' >30 °C</text>
<line x1="335.4" y1="32.35" x2="354.4" y2="32.35" stroke="#333" stroke-width="0.55"/>
<circle cx="345" cy="32.35" r="2.37" fill="#000" stroke="#000" stroke-width="0.3"/>
<text x="357" y="35.25" font-size="8.3" text-anchor="start" font-family='"Liberation Sans", Arial, sans-serif' >45 °C</text>
<line x1="335.4" y1="43.3" x2="354.4" y2="43.3" stroke="#333" stroke-width="0.55"/>
<polygon points="345,40.5 347.69,45.34 342.31,45.34" fill="#000" stroke="#000" stroke-width="0.3" stroke-linejoin="miter"/>
<text x="357" y="46.2" font-size="8.3" text-anchor="start" font-family='"Liberation Sans", Arial, sans-serif' >60 °C</text>
<line x1="335.4" y1="54.25" x2="354.4" y2="54.25" stroke="#333" stroke-width="0.55"/>
<rect x="342.85" y="52.1" width="4.3" height="4.3" fill="#fff" stroke="#000" stroke-width="0.8"/>
<text x="357" y="57.15" font-size="8.3" text-anchor="start" font-family='"Liberation Sans", Arial, sans-serif' >75 °C</text>
<line x1="335.4" y1="65.2" x2="354.4" y2="65.2" stroke="#333" stroke-width="0.55"/>
<circle cx="345" cy="65.2" r="2.37" fill="#fff" stroke="#000" stroke-width="0.8"/>
<text x="357" y="68.1" font-size="8.3" text-anchor="start" font-family='"Liberation Sans", Arial, sans-serif' >80 °C</text>
<line x1="335.4" y1="76.15" x2="354.4" y2="76.15" stroke="#333" stroke-width="0.55"/>
<polygon points="345,73.36 347.69,78.19 342.31,78.19" fill="#fff" stroke="#000" stroke-width="0.8" stroke-linejoin="miter"/>
<text x="357" y="79.05" font-size="8.3" text-anchor="start" font-family='"Liberation Sans", Arial, sans-serif' >90 °C</text>
<rect x="442.5" y="17.5" width="94" height="63" fill="#fff" stroke="#000" stroke-width="0.9"/>
<g clip-path="url(#clipI)">
<polyline fill="none" stroke="#000" stroke-width="0.45" points="442.92,75.06 445.4,74.84 447.88,74.62 450.36,74.09 450.37,74.02 450.39,73.95 450.41,73.86 450.44,73.75 450.47,73.62 450.51,73.46 450.55,73.27 450.61,73.04 450.68,72.77 450.76,72.44 450.85,72.04 450.97,71.57 451.11,71 451.28,70.32 451.49,69.5 451.74,68.52 452.05,67.34 452.42,65.93 452.87,64.25 453.42,62.23 454.1,59.83 454.93,56.96 455.96,53.55 457.24,49.5 458.82,44.71 460.8,39.06 463.27,32.42 466.38,24.67 470.3,15.69 475.23,5.4 481.45,-6.24 489.25,-19.2 498.99,-33.31 511.01,-48.2 525.64,-63.32 543.07,-77.86 563.33,-90.81 586.11,-101.05 610.82,-107.57 636.55,-109.63 662.2,-107 686.72,-99.99 709.23,-89.36 729.15,-76.17 746.24,-61.51 760.54,-46.37 772.27,-31.55 781.75,-17.57 789.34,-4.76 795.39,6.72 800.19,16.85 803.99,25.67 807.02,33.28"/>
<rect x="440.82" y="72.96" width="4.2" height="4.2" fill="#000" stroke="#000" stroke-width="0.3"/>
<rect x="443.3" y="72.74" width="4.2" height="4.2" fill="#000" stroke="#000" stroke-width="0.3"/>
<rect x="445.78" y="72.52" width="4.2" height="4.2" fill="#000" stroke="#000" stroke-width="0.3"/>
<rect x="448.26" y="71.99" width="4.2" height="4.2" fill="#000" stroke="#000" stroke-width="0.3"/>
<rect x="448.27" y="71.92" width="4.2" height="4.2" fill="#000" stroke="#000" stroke-width="0.3"/>
<rect x="448.29" y="71.85" width="4.2" height="4.2" fill="#000" stroke="#000" stroke-width="0.3"/>
<rect x="448.31" y="71.76" width="4.2" height="4.2" fill="#000" stroke="#000" stroke-width="0.3"/>
<rect x="448.34" y="71.65" width="4.2" height="4.2" fill="#000" stroke="#000" stroke-width="0.3"/>
<rect x="448.37" y="71.52" width="4.2" height="4.2" fill="#000" stroke="#000" stroke-width="0.3"/>
<rect x="448.41" y="71.36" width="4.2" height="4.2" fill="#000" stroke="#000" stroke-width="0.3"/>
<rect x="448.45" y="71.17" width="4.2" height="4.2" fill="#000" stroke="#000" stroke-width="0.3"/>
<rect x="448.51" y="70.94" width="4.2" height="4.2" fill="#000" stroke="#000" stroke-width="0.3"/>
<rect x="448.58" y="70.67" width="4.2" height="4.2" fill="#000" stroke="#000" stroke-width="0.3"/>
<rect x="448.66" y="70.34" width="4.2" height="4.2" fill="#000" stroke="#000" stroke-width="0.3"/>
<rect x="448.75" y="69.94" width="4.2" height="4.2" fill="#000" stroke="#000" stroke-width="0.3"/>
<rect x="448.87" y="69.47" width="4.2" height="4.2" fill="#000" stroke="#000" stroke-width="0.3"/>
<rect x="449.01" y="68.9" width="4.2" height="4.2" fill="#000" stroke="#000" stroke-width="0.3"/>
<rect x="449.18" y="68.22" width="4.2" height="4.2" fill="#000" stroke="#000" stroke-width="0.3"/>
<rect x="449.39" y="67.4" width="4.2" height="4.2" fill="#000" stroke="#000" stroke-width="0.3"/>
<rect x="449.64" y="66.42" width="4.2" height="4.2" fill="#000" stroke="#000" stroke-width="0.3"/>
<rect x="449.95" y="65.24" width="4.2" height="4.2" fill="#000" stroke="#000" stroke-width="0.3"/>
<rect x="450.32" y="63.83" width="4.2" height="4.2" fill="#000" stroke="#000" stroke-width="0.3"/>
<rect x="450.77" y="62.15" width="4.2" height="4.2" fill="#000" stroke="#000" stroke-width="0.3"/>
<rect x="451.32" y="60.13" width="4.2" height="4.2" fill="#000" stroke="#000" stroke-width="0.3"/>
<rect x="452" y="57.73" width="4.2" height="4.2" fill="#000" stroke="#000" stroke-width="0.3"/>
<rect x="452.83" y="54.86" width="4.2" height="4.2" fill="#000" stroke="#000" stroke-width="0.3"/>
<rect x="453.86" y="51.45" width="4.2" height="4.2" fill="#000" stroke="#000" stroke-width="0.3"/>
<rect x="455.14" y="47.4" width="4.2" height="4.2" fill="#000" stroke="#000" stroke-width="0.3"/>
<rect x="456.72" y="42.61" width="4.2" height="4.2" fill="#000" stroke="#000" stroke-width="0.3"/>
<rect x="458.7" y="36.96" width="4.2" height="4.2" fill="#000" stroke="#000" stroke-width="0.3"/>
<rect x="461.17" y="30.32" width="4.2" height="4.2" fill="#000" stroke="#000" stroke-width="0.3"/>
<rect x="464.28" y="22.57" width="4.2" height="4.2" fill="#000" stroke="#000" stroke-width="0.3"/>
<rect x="468.2" y="13.59" width="4.2" height="4.2" fill="#000" stroke="#000" stroke-width="0.3"/>
<rect x="473.13" y="3.3" width="4.2" height="4.2" fill="#000" stroke="#000" stroke-width="0.3"/>
<rect x="479.35" y="-8.34" width="4.2" height="4.2" fill="#000" stroke="#000" stroke-width="0.3"/>
<rect x="487.15" y="-21.3" width="4.2" height="4.2" fill="#000" stroke="#000" stroke-width="0.3"/>
<rect x="496.89" y="-35.41" width="4.2" height="4.2" fill="#000" stroke="#000" stroke-width="0.3"/>
<rect x="508.91" y="-50.3" width="4.2" height="4.2" fill="#000" stroke="#000" stroke-width="0.3"/>
<rect x="523.54" y="-65.42" width="4.2" height="4.2" fill="#000" stroke="#000" stroke-width="0.3"/>
<rect x="540.97" y="-79.96" width="4.2" height="4.2" fill="#000" stroke="#000" stroke-width="0.3"/>
<rect x="561.23" y="-92.91" width="4.2" height="4.2" fill="#000" stroke="#000" stroke-width="0.3"/>
<rect x="584.01" y="-103.15" width="4.2" height="4.2" fill="#000" stroke="#000" stroke-width="0.3"/>
<rect x="608.72" y="-109.67" width="4.2" height="4.2" fill="#000" stroke="#000" stroke-width="0.3"/>
<rect x="634.45" y="-111.73" width="4.2" height="4.2" fill="#000" stroke="#000" stroke-width="0.3"/>
<rect x="660.1" y="-109.1" width="4.2" height="4.2" fill="#000" stroke="#000" stroke-width="0.3"/>
<rect x="684.62" y="-102.09" width="4.2" height="4.2" fill="#000" stroke="#000" stroke-width="0.3"/>
<rect x="707.13" y="-91.46" width="4.2" height="4.2" fill="#000" stroke="#000" stroke-width="0.3"/>
<rect x="727.05" y="-78.27" width="4.2" height="4.2" fill="#000" stroke="#000" stroke-width="0.3"/>
<rect x="744.14" y="-63.61" width="4.2" height="4.2" fill="#000" stroke="#000" stroke-width="0.3"/>
<rect x="758.44" y="-48.47" width="4.2" height="4.2" fill="#000" stroke="#000" stroke-width="0.3"/>
<rect x="770.17" y="-33.65" width="4.2" height="4.2" fill="#000" stroke="#000" stroke-width="0.3"/>
<rect x="779.65" y="-19.67" width="4.2" height="4.2" fill="#000" stroke="#000" stroke-width="0.3"/>
<rect x="787.24" y="-6.86" width="4.2" height="4.2" fill="#000" stroke="#000" stroke-width="0.3"/>
<rect x="793.29" y="4.62" width="4.2" height="4.2" fill="#000" stroke="#000" stroke-width="0.3"/>
<rect x="798.09" y="14.75" width="4.2" height="4.2" fill="#000" stroke="#000" stroke-width="0.3"/>
<rect x="801.89" y="23.57" width="4.2" height="4.2" fill="#000" stroke="#000" stroke-width="0.3"/>
<rect x="804.92" y="31.18" width="4.2" height="4.2" fill="#000" stroke="#000" stroke-width="0.3"/>
<polyline fill="none" stroke="#000" stroke-width="0.45" points="443.56,75.06 446.18,74.84 448.79,74.62 451.41,74.31 451.42,74.29 451.42,74.26 451.43,74.23 451.43,74.2 451.44,74.15 451.45,74.1 451.46,74.03 451.47,73.95 451.49,73.85 451.5,73.72 451.53,73.57 451.56,73.39 451.59,73.17 451.63,72.9 451.69,72.57 451.75,72.16 451.83,71.67 451.93,71.06 452.06,70.33 452.21,69.44 452.4,68.35 452.65,67.02 452.95,65.4 453.34,63.44 453.83,61.06 454.46,58.18 455.28,54.7 456.34,50.51 457.73,45.48 459.55,39.48 461.96,32.38 465.15,24.05 469.38,14.43 474.96,3.52 482.27,-8.53 491.7,-21.34 503.6,-34.29 518.19,-46.41 535.4,-56.54 554.74,-63.44 575.35,-66.15 596.07,-64.26 615.73,-58.06 633.36,-48.43 648.44,-36.58 660.83,-23.7 670.68,-10.81 678.34,1.41 684.21,12.55 688.66,22.41 692.02,30.96 694.55,38.28 696.47,44.47"/>
<circle cx="443.56" cy="75.06" r="2.31" fill="#000" stroke="#000" stroke-width="0.3"/>
<circle cx="446.18" cy="74.84" r="2.31" fill="#000" stroke="#000" stroke-width="0.3"/>
<circle cx="448.79" cy="74.62" r="2.31" fill="#000" stroke="#000" stroke-width="0.3"/>
<circle cx="451.41" cy="74.31" r="2.31" fill="#000" stroke="#000" stroke-width="0.3"/>
<circle cx="451.42" cy="74.29" r="2.31" fill="#000" stroke="#000" stroke-width="0.3"/>
<circle cx="451.42" cy="74.26" r="2.31" fill="#000" stroke="#000" stroke-width="0.3"/>
<circle cx="451.43" cy="74.23" r="2.31" fill="#000" stroke="#000" stroke-width="0.3"/>
<circle cx="451.43" cy="74.2" r="2.31" fill="#000" stroke="#000" stroke-width="0.3"/>
<circle cx="451.44" cy="74.15" r="2.31" fill="#000" stroke="#000" stroke-width="0.3"/>
<circle cx="451.45" cy="74.1" r="2.31" fill="#000" stroke="#000" stroke-width="0.3"/>
<circle cx="451.46" cy="74.03" r="2.31" fill="#000" stroke="#000" stroke-width="0.3"/>
<circle cx="451.47" cy="73.95" r="2.31" fill="#000" stroke="#000" stroke-width="0.3"/>
<circle cx="451.49" cy="73.85" r="2.31" fill="#000" stroke="#000" stroke-width="0.3"/>
<circle cx="451.5" cy="73.72" r="2.31" fill="#000" stroke="#000" stroke-width="0.3"/>
<circle cx="451.53" cy="73.57" r="2.31" fill="#000" stroke="#000" stroke-width="0.3"/>
<circle cx="451.56" cy="73.39" r="2.31" fill="#000" stroke="#000" stroke-width="0.3"/>
<circle cx="451.59" cy="73.17" r="2.31" fill="#000" stroke="#000" stroke-width="0.3"/>
<circle cx="451.63" cy="72.9" r="2.31" fill="#000" stroke="#000" stroke-width="0.3"/>
<circle cx="451.69" cy="72.57" r="2.31" fill="#000" stroke="#000" stroke-width="0.3"/>
<circle cx="451.75" cy="72.16" r="2.31" fill="#000" stroke="#000" stroke-width="0.3"/>
<circle cx="451.83" cy="71.67" r="2.31" fill="#000" stroke="#000" stroke-width="0.3"/>
<circle cx="451.93" cy="71.06" r="2.31" fill="#000" stroke="#000" stroke-width="0.3"/>
<circle cx="452.06" cy="70.33" r="2.31" fill="#000" stroke="#000" stroke-width="0.3"/>
<circle cx="452.21" cy="69.44" r="2.31" fill="#000" stroke="#000" stroke-width="0.3"/>
<circle cx="452.4" cy="68.35" r="2.31" fill="#000" stroke="#000" stroke-width="0.3"/>
<circle cx="452.65" cy="67.02" r="2.31" fill="#000" stroke="#000" stroke-width="0.3"/>
<circle cx="452.95" cy="65.4" r="2.31" fill="#000" stroke="#000" stroke-width="0.3"/>
<circle cx="453.34" cy="63.44" r="2.31" fill="#000" stroke="#000" stroke-width="0.3"/>
<circle cx="453.83" cy="61.06" r="2.31" fill="#000" stroke="#000" stroke-width="0.3"/>
<circle cx="454.46" cy="58.18" r="2.31" fill="#000" stroke="#000" stroke-width="0.3"/>
<circle cx="455.28" cy="54.7" r="2.31" fill="#000" stroke="#000" stroke-width="0.3"/>
<circle cx="456.34" cy="50.51" r="2.31" fill="#000" stroke="#000" stroke-width="0.3"/>
<circle cx="457.73" cy="45.48" r="2.31" fill="#000" stroke="#000" stroke-width="0.3"/>
<circle cx="459.55" cy="39.48" r="2.31" fill="#000" stroke="#000" stroke-width="0.3"/>
<circle cx="461.96" cy="32.38" r="2.31" fill="#000" stroke="#000" stroke-width="0.3"/>
<circle cx="465.15" cy="24.05" r="2.31" fill="#000" stroke="#000" stroke-width="0.3"/>
<circle cx="469.38" cy="14.43" r="2.31" fill="#000" stroke="#000" stroke-width="0.3"/>
<circle cx="474.96" cy="3.52" r="2.31" fill="#000" stroke="#000" stroke-width="0.3"/>
<circle cx="482.27" cy="-8.53" r="2.31" fill="#000" stroke="#000" stroke-width="0.3"/>
<circle cx="491.7" cy="-21.34" r="2.31" fill="#000" stroke="#000" stroke-width="0.3"/>
<circle cx="503.6" cy="-34.29" r="2.31" fill="#000" stroke="#000" stroke-width="0.3"/>
<circle cx="518.19" cy="-46.41" r="2.31" fill="#000" stroke="#000" stroke-width="0.3"/>
<circle cx="535.4" cy="-56.54" r="2.31" fill="#000" stroke="#000" stroke-width="0.3"/>
<circle cx="554.74" cy="-63.44" r="2.31" fill="#000" stroke="#000" stroke-width="0.3"/>
<circle cx="575.35" cy="-66.15" r="2.31" fill="#000" stroke="#000" stroke-width="0.3"/>
<circle cx="596.07" cy="-64.26" r="2.31" fill="#000" stroke="#000" stroke-width="0.3"/>
<circle cx="615.73" cy="-58.06" r="2.31" fill="#000" stroke="#000" stroke-width="0.3"/>
<circle cx="633.36" cy="-48.43" r="2.31" fill="#000" stroke="#000" stroke-width="0.3"/>
<circle cx="648.44" cy="-36.58" r="2.31" fill="#000" stroke="#000" stroke-width="0.3"/>
<circle cx="660.83" cy="-23.7" r="2.31" fill="#000" stroke="#000" stroke-width="0.3"/>
<circle cx="670.68" cy="-10.81" r="2.31" fill="#000" stroke="#000" stroke-width="0.3"/>
<circle cx="678.34" cy="1.41" r="2.31" fill="#000" stroke="#000" stroke-width="0.3"/>
<circle cx="684.21" cy="12.55" r="2.31" fill="#000" stroke="#000" stroke-width="0.3"/>
<circle cx="688.66" cy="22.41" r="2.31" fill="#000" stroke="#000" stroke-width="0.3"/>
<circle cx="692.02" cy="30.96" r="2.31" fill="#000" stroke="#000" stroke-width="0.3"/>
<circle cx="694.55" cy="38.28" r="2.31" fill="#000" stroke="#000" stroke-width="0.3"/>
<circle cx="696.47" cy="44.47" r="2.31" fill="#000" stroke="#000" stroke-width="0.3"/>
<polyline fill="none" stroke="#000" stroke-width="0.45" points="443.87,75.06 446.26,74.73 448.65,74.3 448.65,74.28 448.66,74.25 448.67,74.22 448.67,74.19 448.68,74.14 448.7,74.09 448.71,74.03 448.73,73.95 448.75,73.86 448.77,73.75 448.81,73.62 448.84,73.46 448.89,73.27 448.94,73.05 449.01,72.77 449.09,72.44 449.19,72.04 449.3,71.57 449.45,71 449.63,70.31 449.84,69.49 450.11,68.51 450.44,67.34 450.85,65.94 451.36,64.28 451.99,62.31 452.79,59.98 453.8,57.24 455.06,54.04 456.67,50.33 458.7,46.08 461.28,41.28 464.52,35.94 468.59,30.17 473.61,24.11 479.73,18.03 487,12.29 495.4,7.32 504.78,3.59 514.85,1.5 525.19,1.3 535.35,2.99 544.91,6.4 553.55,11.13 561.07,16.75 567.43,22.79 572.68,28.88 576.94,34.73 580.35,40.17 583.06,45.09 585.2,49.46 586.89,53.28 588.22,56.59"/>
<polygon points="443.87,72.33 446.5,77.05 441.25,77.05" fill="#000" stroke="#000" stroke-width="0.3" stroke-linejoin="miter"/>
<polygon points="446.26,72 448.89,76.72 443.64,76.72" fill="#000" stroke="#000" stroke-width="0.3" stroke-linejoin="miter"/>
<polygon points="448.65,71.57 451.27,76.29 446.02,76.29" fill="#000" stroke="#000" stroke-width="0.3" stroke-linejoin="miter"/>
<polygon points="448.65,71.55 451.28,76.27 446.03,76.27" fill="#000" stroke="#000" stroke-width="0.3" stroke-linejoin="miter"/>
<polygon points="448.66,71.52 451.28,76.25 446.03,76.25" fill="#000" stroke="#000" stroke-width="0.3" stroke-linejoin="miter"/>
<polygon points="448.67,71.49 451.29,76.22 446.04,76.22" fill="#000" stroke="#000" stroke-width="0.3" stroke-linejoin="miter"/>
<polygon points="448.67,71.46 451.3,76.18 446.05,76.18" fill="#000" stroke="#000" stroke-width="0.3" stroke-linejoin="miter"/>
<polygon points="448.68,71.41 451.31,76.14 446.06,76.14" fill="#000" stroke="#000" stroke-width="0.3" stroke-linejoin="miter"/>
<polygon points="448.7,71.36 451.32,76.09 446.07,76.09" fill="#000" stroke="#000" stroke-width="0.3" stroke-linejoin="miter"/>
<polygon points="448.71,71.3 451.34,76.02 446.09,76.02" fill="#000" stroke="#000" stroke-width="0.3" stroke-linejoin="miter"/>
<polygon points="448.73,71.22 451.35,75.95 446.1,75.95" fill="#000" stroke="#000" stroke-width="0.3" stroke-linejoin="miter"/>
<polygon points="448.75,71.13 451.37,75.86 446.12,75.86" fill="#000" stroke="#000" stroke-width="0.3" stroke-linejoin="miter"/>
<polygon points="448.77,71.02 451.4,75.75 446.15,75.75" fill="#000" stroke="#000" stroke-width="0.3" stroke-linejoin="miter"/>
<polygon points="448.81,70.89 451.43,75.62 446.18,75.62" fill="#000" stroke="#000" stroke-width="0.3" stroke-linejoin="miter"/>
<polygon points="448.84,70.73 451.47,75.46 446.22,75.46" fill="#000" stroke="#000" stroke-width="0.3" stroke-linejoin="miter"/>
<polygon points="448.89,70.54 451.51,75.27 446.26,75.27" fill="#000" stroke="#000" stroke-width="0.3" stroke-linejoin="miter"/>
<polygon points="448.94,70.32 451.57,75.04 446.32,75.04" fill="#000" stroke="#000" stroke-width="0.3" stroke-linejoin="miter"/>
<polygon points="449.01,70.04 451.63,74.77 446.38,74.77" fill="#000" stroke="#000" stroke-width="0.3" stroke-linejoin="miter"/>
<polygon points="449.09,69.71 451.71,74.44 446.46,74.44" fill="#000" stroke="#000" stroke-width="0.3" stroke-linejoin="miter"/>
<polygon points="449.19,69.31 451.81,74.04 446.56,74.04" fill="#000" stroke="#000" stroke-width="0.3" stroke-linejoin="miter"/>
<polygon points="449.3,68.84 451.93,73.56 446.68,73.56" fill="#000" stroke="#000" stroke-width="0.3" stroke-linejoin="miter"/>
<polygon points="449.45,68.27 452.07,72.99 446.82,72.99" fill="#000" stroke="#000" stroke-width="0.3" stroke-linejoin="miter"/>
<polygon points="449.63,67.58 452.25,72.31 447,72.31" fill="#000" stroke="#000" stroke-width="0.3" stroke-linejoin="miter"/>
<polygon points="449.84,66.76 452.47,71.49 447.22,71.49" fill="#000" stroke="#000" stroke-width="0.3" stroke-linejoin="miter"/>
<polygon points="450.11,65.78 452.74,70.5 447.49,70.5" fill="#000" stroke="#000" stroke-width="0.3" stroke-linejoin="miter"/>
<polygon points="450.44,64.61 453.07,69.33 447.82,69.33" fill="#000" stroke="#000" stroke-width="0.3" stroke-linejoin="miter"/>
<polygon points="450.85,63.21 453.47,67.93 448.22,67.93" fill="#000" stroke="#000" stroke-width="0.3" stroke-linejoin="miter"/>
<polygon points="451.36,61.55 453.98,66.27 448.73,66.27" fill="#000" stroke="#000" stroke-width="0.3" stroke-linejoin="miter"/>
<polygon points="451.99,59.58 454.62,64.3 449.37,64.3" fill="#000" stroke="#000" stroke-width="0.3" stroke-linejoin="miter"/>
<polygon points="452.79,57.25 455.42,61.97 450.17,61.97" fill="#000" stroke="#000" stroke-width="0.3" stroke-linejoin="miter"/>
<polygon points="453.8,54.51 456.42,59.23 451.17,59.23" fill="#000" stroke="#000" stroke-width="0.3" stroke-linejoin="miter"/>
<polygon points="455.06,51.31 457.69,56.03 452.44,56.03" fill="#000" stroke="#000" stroke-width="0.3" stroke-linejoin="miter"/>
<polygon points="456.67,47.6 459.29,52.33 454.04,52.33" fill="#000" stroke="#000" stroke-width="0.3" stroke-linejoin="miter"/>
<polygon points="458.7,43.35 461.33,48.08 456.08,48.08" fill="#000" stroke="#000" stroke-width="0.3" stroke-linejoin="miter"/>
<polygon points="461.28,38.55 463.9,43.27 458.65,43.27" fill="#000" stroke="#000" stroke-width="0.3" stroke-linejoin="miter"/>
<polygon points="464.52,33.21 467.15,37.94 461.9,37.94" fill="#000" stroke="#000" stroke-width="0.3" stroke-linejoin="miter"/>
<polygon points="468.59,27.44 471.21,32.16 465.96,32.16" fill="#000" stroke="#000" stroke-width="0.3" stroke-linejoin="miter"/>
<polygon points="473.61,21.38 476.24,26.1 470.99,26.1" fill="#000" stroke="#000" stroke-width="0.3" stroke-linejoin="miter"/>
<polygon points="479.73,15.3 482.35,20.02 477.1,20.02" fill="#000" stroke="#000" stroke-width="0.3" stroke-linejoin="miter"/>
<polygon points="487,9.56 489.62,14.28 484.37,14.28" fill="#000" stroke="#000" stroke-width="0.3" stroke-linejoin="miter"/>
<polygon points="495.4,4.59 498.03,9.32 492.78,9.32" fill="#000" stroke="#000" stroke-width="0.3" stroke-linejoin="miter"/>
<polygon points="504.78,0.86 507.41,5.59 502.16,5.59" fill="#000" stroke="#000" stroke-width="0.3" stroke-linejoin="miter"/>
<polygon points="514.85,-1.23 517.48,3.5 512.23,3.5" fill="#000" stroke="#000" stroke-width="0.3" stroke-linejoin="miter"/>
<polygon points="525.19,-1.43 527.82,3.29 522.57,3.29" fill="#000" stroke="#000" stroke-width="0.3" stroke-linejoin="miter"/>
<polygon points="535.35,0.26 537.98,4.99 532.73,4.99" fill="#000" stroke="#000" stroke-width="0.3" stroke-linejoin="miter"/>
<polygon points="544.91,3.67 547.54,8.39 542.29,8.39" fill="#000" stroke="#000" stroke-width="0.3" stroke-linejoin="miter"/>
<polygon points="553.55,8.4 556.17,13.13 550.92,13.13" fill="#000" stroke="#000" stroke-width="0.3" stroke-linejoin="miter"/>
<polygon points="561.07,14.02 563.69,18.74 558.44,18.74" fill="#000" stroke="#000" stroke-width="0.3" stroke-linejoin="miter"/>
<polygon points="567.43,20.06 570.05,24.78 564.8,24.78" fill="#000" stroke="#000" stroke-width="0.3" stroke-linejoin="miter"/>
<polygon points="572.68,26.15 575.3,30.87 570.05,30.87" fill="#000" stroke="#000" stroke-width="0.3" stroke-linejoin="miter"/>
<polygon points="576.94,32 579.56,36.73 574.31,36.73" fill="#000" stroke="#000" stroke-width="0.3" stroke-linejoin="miter"/>
<polygon points="580.35,37.44 582.97,42.17 577.72,42.17" fill="#000" stroke="#000" stroke-width="0.3" stroke-linejoin="miter"/>
<polygon points="583.06,42.36 585.68,47.09 580.43,47.09" fill="#000" stroke="#000" stroke-width="0.3" stroke-linejoin="miter"/>
<polygon points="585.2,46.73 587.82,51.46 582.57,51.46" fill="#000" stroke="#000" stroke-width="0.3" stroke-linejoin="miter"/>
<polygon points="586.89,50.55 589.51,55.28 584.26,55.28" fill="#000" stroke="#000" stroke-width="0.3" stroke-linejoin="miter"/>
<polygon points="588.22,53.86 590.84,58.58 585.59,58.58" fill="#000" stroke="#000" stroke-width="0.3" stroke-linejoin="miter"/>
<polyline fill="none" stroke="#000" stroke-width="0.45" points="444.35,75.06 446.41,74.33 446.42,74.31 446.42,74.3 446.43,74.28 446.43,74.25 446.44,74.23 446.45,74.19 446.46,74.15 446.48,74.1 446.49,74.04 446.51,73.98 446.53,73.89 446.56,73.8 446.59,73.68 446.63,73.54 446.68,73.37 446.74,73.18 446.81,72.94 446.89,72.66 446.99,72.33 447.11,71.93 447.26,71.46 447.44,70.9 447.65,70.24 447.92,69.46 448.24,68.54 448.64,67.46 449.13,66.2 449.73,64.73 450.48,63.02 451.41,61.06 452.56,58.83 453.98,56.31 455.74,53.53 457.9,50.5 460.54,47.31 463.71,44.04 467.45,40.86 471.79,37.95 476.68,35.52 482.02,33.78 487.65,32.91 493.37,32.98 498.97,34 504.25,35.86 509.05,38.38 513.3,41.35 516.96,44.55 520.04,47.82 522.59,50.99 524.69,53.98 526.39,56.72 527.77,59.19 528.88,61.39 531.12,61.92 530.64,53.6 533.34,43.08"/>
<rect x="442.25" y="72.96" width="4.2" height="4.2" fill="#fff" stroke="#000" stroke-width="0.75"/>
<rect x="444.31" y="72.23" width="4.2" height="4.2" fill="#fff" stroke="#000" stroke-width="0.75"/>
<rect x="444.32" y="72.21" width="4.2" height="4.2" fill="#fff" stroke="#000" stroke-width="0.75"/>
<rect x="444.32" y="72.2" width="4.2" height="4.2" fill="#fff" stroke="#000" stroke-width="0.75"/>
<rect x="444.33" y="72.18" width="4.2" height="4.2" fill="#fff" stroke="#000" stroke-width="0.75"/>
<rect x="444.33" y="72.15" width="4.2" height="4.2" fill="#fff" stroke="#000" stroke-width="0.75"/>
<rect x="444.34" y="72.13" width="4.2" height="4.2" fill="#fff" stroke="#000" stroke-width="0.75"/>
<rect x="444.35" y="72.09" width="4.2" height="4.2" fill="#fff" stroke="#000" stroke-width="0.75"/>
<rect x="444.36" y="72.05" width="4.2" height="4.2" fill="#fff" stroke="#000" stroke-width="0.75"/>
<rect x="444.38" y="72" width="4.2" height="4.2" fill="#fff" stroke="#000" stroke-width="0.75"/>
<rect x="444.39" y="71.94" width="4.2" height="4.2" fill="#fff" stroke="#000" stroke-width="0.75"/>
<rect x="444.41" y="71.88" width="4.2" height="4.2" fill="#fff" stroke="#000" stroke-width="0.75"/>
<rect x="444.43" y="71.79" width="4.2" height="4.2" fill="#fff" stroke="#000" stroke-width="0.75"/>
<rect x="444.46" y="71.7" width="4.2" height="4.2" fill="#fff" stroke="#000" stroke-width="0.75"/>
<rect x="444.49" y="71.58" width="4.2" height="4.2" fill="#fff" stroke="#000" stroke-width="0.75"/>
<rect x="444.53" y="71.44" width="4.2" height="4.2" fill="#fff" stroke="#000" stroke-width="0.75"/>
<rect x="444.58" y="71.27" width="4.2" height="4.2" fill="#fff" stroke="#000" stroke-width="0.75"/>
<rect x="444.64" y="71.08" width="4.2" height="4.2" fill="#fff" stroke="#000" stroke-width="0.75"/>
<rect x="444.71" y="70.84" width="4.2" height="4.2" fill="#fff" stroke="#000" stroke-width="0.75"/>
<rect x="444.79" y="70.56" width="4.2" height="4.2" fill="#fff" stroke="#000" stroke-width="0.75"/>
<rect x="444.89" y="70.23" width="4.2" height="4.2" fill="#fff" stroke="#000" stroke-width="0.75"/>
<rect x="445.01" y="69.83" width="4.2" height="4.2" fill="#fff" stroke="#000" stroke-width="0.75"/>
<rect x="445.16" y="69.36" width="4.2" height="4.2" fill="#fff" stroke="#000" stroke-width="0.75"/>
<rect x="445.34" y="68.8" width="4.2" height="4.2" fill="#fff" stroke="#000" stroke-width="0.75"/>
<rect x="445.55" y="68.14" width="4.2" height="4.2" fill="#fff" stroke="#000" stroke-width="0.75"/>
<rect x="445.82" y="67.36" width="4.2" height="4.2" fill="#fff" stroke="#000" stroke-width="0.75"/>
<rect x="446.14" y="66.44" width="4.2" height="4.2" fill="#fff" stroke="#000" stroke-width="0.75"/>
<rect x="446.54" y="65.36" width="4.2" height="4.2" fill="#fff" stroke="#000" stroke-width="0.75"/>
<rect x="447.03" y="64.1" width="4.2" height="4.2" fill="#fff" stroke="#000" stroke-width="0.75"/>
<rect x="447.63" y="62.63" width="4.2" height="4.2" fill="#fff" stroke="#000" stroke-width="0.75"/>
<rect x="448.38" y="60.92" width="4.2" height="4.2" fill="#fff" stroke="#000" stroke-width="0.75"/>
<rect x="449.31" y="58.96" width="4.2" height="4.2" fill="#fff" stroke="#000" stroke-width="0.75"/>
<rect x="450.46" y="56.73" width="4.2" height="4.2" fill="#fff" stroke="#000" stroke-width="0.75"/>
<rect x="451.88" y="54.21" width="4.2" height="4.2" fill="#fff" stroke="#000" stroke-width="0.75"/>
<rect x="453.64" y="51.43" width="4.2" height="4.2" fill="#fff" stroke="#000" stroke-width="0.75"/>
<rect x="455.8" y="48.4" width="4.2" height="4.2" fill="#fff" stroke="#000" stroke-width="0.75"/>
<rect x="458.44" y="45.21" width="4.2" height="4.2" fill="#fff" stroke="#000" stroke-width="0.75"/>
<rect x="461.61" y="41.94" width="4.2" height="4.2" fill="#fff" stroke="#000" stroke-width="0.75"/>
<rect x="465.35" y="38.76" width="4.2" height="4.2" fill="#fff" stroke="#000" stroke-width="0.75"/>
<rect x="469.69" y="35.85" width="4.2" height="4.2" fill="#fff" stroke="#000" stroke-width="0.75"/>
<rect x="474.58" y="33.42" width="4.2" height="4.2" fill="#fff" stroke="#000" stroke-width="0.75"/>
<rect x="479.92" y="31.68" width="4.2" height="4.2" fill="#fff" stroke="#000" stroke-width="0.75"/>
<rect x="485.55" y="30.81" width="4.2" height="4.2" fill="#fff" stroke="#000" stroke-width="0.75"/>
<rect x="491.27" y="30.88" width="4.2" height="4.2" fill="#fff" stroke="#000" stroke-width="0.75"/>
<rect x="496.87" y="31.9" width="4.2" height="4.2" fill="#fff" stroke="#000" stroke-width="0.75"/>
<rect x="502.15" y="33.76" width="4.2" height="4.2" fill="#fff" stroke="#000" stroke-width="0.75"/>
<rect x="506.95" y="36.28" width="4.2" height="4.2" fill="#fff" stroke="#000" stroke-width="0.75"/>
<rect x="511.2" y="39.25" width="4.2" height="4.2" fill="#fff" stroke="#000" stroke-width="0.75"/>
<rect x="514.86" y="42.45" width="4.2" height="4.2" fill="#fff" stroke="#000" stroke-width="0.75"/>
<rect x="517.94" y="45.72" width="4.2" height="4.2" fill="#fff" stroke="#000" stroke-width="0.75"/>
<rect x="520.49" y="48.89" width="4.2" height="4.2" fill="#fff" stroke="#000" stroke-width="0.75"/>
<rect x="522.59" y="51.88" width="4.2" height="4.2" fill="#fff" stroke="#000" stroke-width="0.75"/>
<rect x="524.29" y="54.62" width="4.2" height="4.2" fill="#fff" stroke="#000" stroke-width="0.75"/>
<rect x="525.67" y="57.09" width="4.2" height="4.2" fill="#fff" stroke="#000" stroke-width="0.75"/>
<rect x="526.78" y="59.29" width="4.2" height="4.2" fill="#fff" stroke="#000" stroke-width="0.75"/>
<rect x="529.02" y="59.82" width="4.2" height="4.2" fill="#fff" stroke="#000" stroke-width="0.75"/>
<rect x="528.54" y="51.5" width="4.2" height="4.2" fill="#fff" stroke="#000" stroke-width="0.75"/>
<rect x="531.24" y="40.98" width="4.2" height="4.2" fill="#fff" stroke="#000" stroke-width="0.75"/>
<polyline fill="none" stroke="#000" stroke-width="0.45" points="444.03,75.06 445.59,74.31 445.59,74.3 445.6,74.28 445.61,74.26 445.62,74.23 445.63,74.2 445.64,74.17 445.65,74.13 445.67,74.08 445.69,74.03 445.72,73.96 445.74,73.88 445.78,73.79 445.82,73.69 445.87,73.56 445.92,73.42 445.99,73.25 446.06,73.05 446.15,72.81 446.26,72.54 446.39,72.22 446.54,71.84 446.72,71.4 446.94,70.89 447.19,70.3 447.49,69.61 447.85,68.82 448.29,67.9 448.8,66.85 449.42,65.64 450.17,64.27 451.06,62.72 452.12,60.99 453.4,59.07 454.92,56.96 456.74,54.71 458.87,52.32 461.38,49.88 464.27,47.45 467.58,45.14 471.28,43.06 475.34,41.35 479.69,40.11 484.23,39.44 488.85,39.39 493.41,39.97 497.79,41.13 501.9,42.78 505.66,44.81 509.02,47.1 511.98,49.52 515.83,53.38 516.79,54.25 517.58,54.91 518.22,55.57 518.86,55.79 519.49,55.79 520.13,55.35 523.16,50.09 529.52,38.7"/>
<circle cx="444.03" cy="75.06" r="2.31" fill="#fff" stroke="#000" stroke-width="0.75"/>
<circle cx="445.59" cy="74.31" r="2.31" fill="#fff" stroke="#000" stroke-width="0.75"/>
<circle cx="445.59" cy="74.3" r="2.31" fill="#fff" stroke="#000" stroke-width="0.75"/>
<circle cx="445.6" cy="74.28" r="2.31" fill="#fff" stroke="#000" stroke-width="0.75"/>
<circle cx="445.61" cy="74.26" r="2.31" fill="#fff" stroke="#000" stroke-width="0.75"/>
<circle cx="445.62" cy="74.23" r="2.31" fill="#fff" stroke="#000" stroke-width="0.75"/>
<circle cx="445.63" cy="74.2" r="2.31" fill="#fff" stroke="#000" stroke-width="0.75"/>
<circle cx="445.64" cy="74.17" r="2.31" fill="#fff" stroke="#000" stroke-width="0.75"/>
<circle cx="445.65" cy="74.13" r="2.31" fill="#fff" stroke="#000" stroke-width="0.75"/>
<circle cx="445.67" cy="74.08" r="2.31" fill="#fff" stroke="#000" stroke-width="0.75"/>
<circle cx="445.69" cy="74.03" r="2.31" fill="#fff" stroke="#000" stroke-width="0.75"/>
<circle cx="445.72" cy="73.96" r="2.31" fill="#fff" stroke="#000" stroke-width="0.75"/>
<circle cx="445.74" cy="73.88" r="2.31" fill="#fff" stroke="#000" stroke-width="0.75"/>
<circle cx="445.78" cy="73.79" r="2.31" fill="#fff" stroke="#000" stroke-width="0.75"/>
<circle cx="445.82" cy="73.69" r="2.31" fill="#fff" stroke="#000" stroke-width="0.75"/>
<circle cx="445.87" cy="73.56" r="2.31" fill="#fff" stroke="#000" stroke-width="0.75"/>
<circle cx="445.92" cy="73.42" r="2.31" fill="#fff" stroke="#000" stroke-width="0.75"/>
<circle cx="445.99" cy="73.25" r="2.31" fill="#fff" stroke="#000" stroke-width="0.75"/>
<circle cx="446.06" cy="73.05" r="2.31" fill="#fff" stroke="#000" stroke-width="0.75"/>
<circle cx="446.15" cy="72.81" r="2.31" fill="#fff" stroke="#000" stroke-width="0.75"/>
<circle cx="446.26" cy="72.54" r="2.31" fill="#fff" stroke="#000" stroke-width="0.75"/>
<circle cx="446.39" cy="72.22" r="2.31" fill="#fff" stroke="#000" stroke-width="0.75"/>
<circle cx="446.54" cy="71.84" r="2.31" fill="#fff" stroke="#000" stroke-width="0.75"/>
<circle cx="446.72" cy="71.4" r="2.31" fill="#fff" stroke="#000" stroke-width="0.75"/>
<circle cx="446.94" cy="70.89" r="2.31" fill="#fff" stroke="#000" stroke-width="0.75"/>
<circle cx="447.19" cy="70.3" r="2.31" fill="#fff" stroke="#000" stroke-width="0.75"/>
<circle cx="447.49" cy="69.61" r="2.31" fill="#fff" stroke="#000" stroke-width="0.75"/>
<circle cx="447.85" cy="68.82" r="2.31" fill="#fff" stroke="#000" stroke-width="0.75"/>
<circle cx="448.29" cy="67.9" r="2.31" fill="#fff" stroke="#000" stroke-width="0.75"/>
<circle cx="448.8" cy="66.85" r="2.31" fill="#fff" stroke="#000" stroke-width="0.75"/>
<circle cx="449.42" cy="65.64" r="2.31" fill="#fff" stroke="#000" stroke-width="0.75"/>
<circle cx="450.17" cy="64.27" r="2.31" fill="#fff" stroke="#000" stroke-width="0.75"/>
<circle cx="451.06" cy="62.72" r="2.31" fill="#fff" stroke="#000" stroke-width="0.75"/>
<circle cx="452.12" cy="60.99" r="2.31" fill="#fff" stroke="#000" stroke-width="0.75"/>
<circle cx="453.4" cy="59.07" r="2.31" fill="#fff" stroke="#000" stroke-width="0.75"/>
<circle cx="454.92" cy="56.96" r="2.31" fill="#fff" stroke="#000" stroke-width="0.75"/>
<circle cx="456.74" cy="54.71" r="2.31" fill="#fff" stroke="#000" stroke-width="0.75"/>
<circle cx="458.87" cy="52.32" r="2.31" fill="#fff" stroke="#000" stroke-width="0.75"/>
<circle cx="461.38" cy="49.88" r="2.31" fill="#fff" stroke="#000" stroke-width="0.75"/>
<circle cx="464.27" cy="47.45" r="2.31" fill="#fff" stroke="#000" stroke-width="0.75"/>
<circle cx="467.58" cy="45.14" r="2.31" fill="#fff" stroke="#000" stroke-width="0.75"/>
<circle cx="471.28" cy="43.06" r="2.31" fill="#fff" stroke="#000" stroke-width="0.75"/>
<circle cx="475.34" cy="41.35" r="2.31" fill="#fff" stroke="#000" stroke-width="0.75"/>
<circle cx="479.69" cy="40.11" r="2.31" fill="#fff" stroke="#000" stroke-width="0.75"/>
<circle cx="484.23" cy="39.44" r="2.31" fill="#fff" stroke="#000" stroke-width="0.75"/>
<circle cx="488.85" cy="39.39" r="2.31" fill="#fff" stroke="#000" stroke-width="0.75"/>
<circle cx="493.41" cy="39.97" r="2.31" fill="#fff" stroke="#000" stroke-width="0.75"/>
<circle cx="497.79" cy="41.13" r="2.31" fill="#fff" stroke="#000" stroke-width="0.75"/>
<circle cx="501.9" cy="42.78" r="2.31" fill="#fff" stroke="#000" stroke-width="0.75"/>
<circle cx="505.66" cy="44.81" r="2.31" fill="#fff" stroke="#000" stroke-width="0.75"/>
<circle cx="509.02" cy="47.1" r="2.31" fill="#fff" stroke="#000" stroke-width="0.75"/>
<circle cx="511.98" cy="49.52" r="2.31" fill="#fff" stroke="#000" stroke-width="0.75"/>
<circle cx="515.83" cy="53.38" r="2.31" fill="#fff" stroke="#000" stroke-width="0.75"/>
<circle cx="516.79" cy="54.25" r="2.31" fill="#fff" stroke="#000" stroke-width="0.75"/>
<circle cx="517.58" cy="54.91" r="2.31" fill="#fff" stroke="#000" stroke-width="0.75"/>
<circle cx="518.22" cy="55.57" r="2.31" fill="#fff" stroke="#000" stroke-width="0.75"/>
<circle cx="518.86" cy="55.79" r="2.31" fill="#fff" stroke="#000" stroke-width="0.75"/>
<circle cx="519.49" cy="55.79" r="2.31" fill="#fff" stroke="#000" stroke-width="0.75"/>
<circle cx="520.13" cy="55.35" r="2.31" fill="#fff" stroke="#000" stroke-width="0.75"/>
<circle cx="523.16" cy="50.09" r="2.31" fill="#fff" stroke="#000" stroke-width="0.75"/>
<circle cx="529.52" cy="38.7" r="2.31" fill="#fff" stroke="#000" stroke-width="0.75"/>
<polyline fill="none" stroke="#000" stroke-width="0.45" points="443.24,75.06 444.71,74.28 444.72,74.26 444.72,74.23 444.73,74.19 444.74,74.15 444.75,74.1 444.77,74.04 444.78,73.97 444.8,73.88 444.83,73.77 444.86,73.65 444.9,73.49 444.94,73.31 444.99,73.09 445.06,72.82 445.13,72.5 445.23,72.12 445.34,71.65 445.48,71.1 445.65,70.43 445.85,69.64 446.11,68.68 446.42,67.54 446.8,66.17 447.28,64.55 447.87,62.61 448.61,60.31 449.53,57.6 450.69,54.41 452.16,50.68 454.01,46.35 456.36,41.37 459.33,35.74 463.07,29.46 467.76,22.64 473.57,15.44 480.66,8.16 489.13,1.2 498.96,-4.93 509.99,-9.67 521.92,-12.52 534.26,-13.17 546.48,-11.53 558.07,-7.8 568.61,-2.39 577.85,4.16 585.71,11.32 592.23,18.61 597.53,25.68 601.79,32.28 605.17,38.28 607.85,43.62 609.97,48.31 611.64,52.37 615.01,39.14 619.47,27.97"/>
<polygon points="443.24,72.33 445.86,77.05 440.61,77.05" fill="#fff" stroke="#000" stroke-width="0.75" stroke-linejoin="miter"/>
<polygon points="444.71,71.55 447.34,76.28 442.09,76.28" fill="#fff" stroke="#000" stroke-width="0.75" stroke-linejoin="miter"/>
<polygon points="444.72,71.53 447.34,76.25 442.09,76.25" fill="#fff" stroke="#000" stroke-width="0.75" stroke-linejoin="miter"/>
<polygon points="444.72,71.5 447.35,76.22 442.1,76.22" fill="#fff" stroke="#000" stroke-width="0.75" stroke-linejoin="miter"/>
<polygon points="444.73,71.46 447.36,76.19 442.11,76.19" fill="#fff" stroke="#000" stroke-width="0.75" stroke-linejoin="miter"/>
<polygon points="444.74,71.42 447.37,76.15 442.12,76.15" fill="#fff" stroke="#000" stroke-width="0.75" stroke-linejoin="miter"/>
<polygon points="444.75,71.37 447.38,76.1 442.13,76.1" fill="#fff" stroke="#000" stroke-width="0.75" stroke-linejoin="miter"/>
<polygon points="444.77,71.31 447.39,76.04 442.14,76.04" fill="#fff" stroke="#000" stroke-width="0.75" stroke-linejoin="miter"/>
<polygon points="444.78,71.24 447.41,75.96 442.16,75.96" fill="#fff" stroke="#000" stroke-width="0.75" stroke-linejoin="miter"/>
<polygon points="444.8,71.15 447.43,75.87 442.18,75.87" fill="#fff" stroke="#000" stroke-width="0.75" stroke-linejoin="miter"/>
<polygon points="444.83,71.04 447.45,75.77 442.2,75.77" fill="#fff" stroke="#000" stroke-width="0.75" stroke-linejoin="miter"/>
<polygon points="444.86,70.92 447.48,75.64 442.23,75.64" fill="#fff" stroke="#000" stroke-width="0.75" stroke-linejoin="miter"/>
<polygon points="444.9,70.76 447.52,75.49 442.27,75.49" fill="#fff" stroke="#000" stroke-width="0.75" stroke-linejoin="miter"/>
<polygon points="444.94,70.58 447.56,75.3 442.31,75.3" fill="#fff" stroke="#000" stroke-width="0.75" stroke-linejoin="miter"/>
<polygon points="444.99,70.36 447.62,75.08 442.37,75.08" fill="#fff" stroke="#000" stroke-width="0.75" stroke-linejoin="miter"/>
<polygon points="445.06,70.09 447.68,74.82 442.43,74.82" fill="#fff" stroke="#000" stroke-width="0.75" stroke-linejoin="miter"/>
<polygon points="445.13,69.77 447.76,74.5 442.51,74.5" fill="#fff" stroke="#000" stroke-width="0.75" stroke-linejoin="miter"/>
<polygon points="445.23,69.39 447.85,74.11 442.6,74.11" fill="#fff" stroke="#000" stroke-width="0.75" stroke-linejoin="miter"/>
<polygon points="445.34,68.92 447.96,73.65 442.71,73.65" fill="#fff" stroke="#000" stroke-width="0.75" stroke-linejoin="miter"/>
<polygon points="445.48,68.37 448.1,73.09 442.85,73.09" fill="#fff" stroke="#000" stroke-width="0.75" stroke-linejoin="miter"/>
<polygon points="445.65,67.7 448.27,72.43 443.02,72.43" fill="#fff" stroke="#000" stroke-width="0.75" stroke-linejoin="miter"/>
<polygon points="445.85,66.91 448.48,71.63 443.23,71.63" fill="#fff" stroke="#000" stroke-width="0.75" stroke-linejoin="miter"/>
<polygon points="446.11,65.95 448.73,70.68 443.48,70.68" fill="#fff" stroke="#000" stroke-width="0.75" stroke-linejoin="miter"/>
<polygon points="446.42,64.81 449.04,69.53 443.79,69.53" fill="#fff" stroke="#000" stroke-width="0.75" stroke-linejoin="miter"/>
<polygon points="446.8,63.44 449.43,68.17 444.18,68.17" fill="#fff" stroke="#000" stroke-width="0.75" stroke-linejoin="miter"/>
<polygon points="447.28,61.82 449.9,66.54 444.65,66.54" fill="#fff" stroke="#000" stroke-width="0.75" stroke-linejoin="miter"/>
<polygon points="447.87,59.88 450.49,64.6 445.24,64.6" fill="#fff" stroke="#000" stroke-width="0.75" stroke-linejoin="miter"/>
<polygon points="448.61,57.58 451.23,62.31 445.98,62.31" fill="#fff" stroke="#000" stroke-width="0.75" stroke-linejoin="miter"/>
<polygon points="449.53,54.87 452.15,59.59 446.9,59.59" fill="#fff" stroke="#000" stroke-width="0.75" stroke-linejoin="miter"/>
<polygon points="450.69,51.68 453.31,56.4 448.06,56.4" fill="#fff" stroke="#000" stroke-width="0.75" stroke-linejoin="miter"/>
<polygon points="452.16,47.95 454.78,52.67 449.53,52.67" fill="#fff" stroke="#000" stroke-width="0.75" stroke-linejoin="miter"/>
<polygon points="454.01,43.62 456.63,48.34 451.38,48.34" fill="#fff" stroke="#000" stroke-width="0.75" stroke-linejoin="miter"/>
<polygon points="456.36,38.64 458.98,43.37 453.73,43.37" fill="#fff" stroke="#000" stroke-width="0.75" stroke-linejoin="miter"/>
<polygon points="459.33,33.01 461.95,37.73 456.7,37.73" fill="#fff" stroke="#000" stroke-width="0.75" stroke-linejoin="miter"/>
<polygon points="463.07,26.73 465.7,31.46 460.45,31.46" fill="#fff" stroke="#000" stroke-width="0.75" stroke-linejoin="miter"/>
<polygon points="467.76,19.91 470.39,24.63 465.14,24.63" fill="#fff" stroke="#000" stroke-width="0.75" stroke-linejoin="miter"/>
<polygon points="473.57,12.71 476.2,17.43 470.95,17.43" fill="#fff" stroke="#000" stroke-width="0.75" stroke-linejoin="miter"/>
<polygon points="480.66,5.43 483.29,10.15 478.04,10.15" fill="#fff" stroke="#000" stroke-width="0.75" stroke-linejoin="miter"/>
<polygon points="489.13,-1.53 491.75,3.19 486.5,3.19" fill="#fff" stroke="#000" stroke-width="0.75" stroke-linejoin="miter"/>
<polygon points="498.96,-7.66 501.58,-2.93 496.33,-2.93" fill="#fff" stroke="#000" stroke-width="0.75" stroke-linejoin="miter"/>
<polygon points="509.99,-12.4 512.62,-7.67 507.37,-7.67" fill="#fff" stroke="#000" stroke-width="0.75" stroke-linejoin="miter"/>
<polygon points="521.92,-15.25 524.54,-10.53 519.29,-10.53" fill="#fff" stroke="#000" stroke-width="0.75" stroke-linejoin="miter"/>
<polygon points="534.26,-15.9 536.89,-11.18 531.64,-11.18" fill="#fff" stroke="#000" stroke-width="0.75" stroke-linejoin="miter"/>
<polygon points="546.48,-14.26 549.11,-9.54 543.86,-9.54" fill="#fff" stroke="#000" stroke-width="0.75" stroke-linejoin="miter"/>
<polygon points="558.07,-10.53 560.7,-5.81 555.45,-5.81" fill="#fff" stroke="#000" stroke-width="0.75" stroke-linejoin="miter"/>
<polygon points="568.61,-5.12 571.24,-0.4 565.99,-0.4" fill="#fff" stroke="#000" stroke-width="0.75" stroke-linejoin="miter"/>
<polygon points="577.85,1.43 580.48,6.16 575.23,6.16" fill="#fff" stroke="#000" stroke-width="0.75" stroke-linejoin="miter"/>
<polygon points="585.71,8.59 588.34,13.32 583.09,13.32" fill="#fff" stroke="#000" stroke-width="0.75" stroke-linejoin="miter"/>
<polygon points="592.23,15.88 594.85,20.61 589.6,20.61" fill="#fff" stroke="#000" stroke-width="0.75" stroke-linejoin="miter"/>
<polygon points="597.53,22.95 600.15,27.67 594.9,27.67" fill="#fff" stroke="#000" stroke-width="0.75" stroke-linejoin="miter"/>
<polygon points="601.79,29.55 604.41,34.27 599.16,34.27" fill="#fff" stroke="#000" stroke-width="0.75" stroke-linejoin="miter"/>
<polygon points="605.17,35.55 607.8,40.27 602.55,40.27" fill="#fff" stroke="#000" stroke-width="0.75" stroke-linejoin="miter"/>
<polygon points="607.85,40.89 610.48,45.62 605.23,45.62" fill="#fff" stroke="#000" stroke-width="0.75" stroke-linejoin="miter"/>
<polygon points="609.97,45.58 612.6,50.31 607.35,50.31" fill="#fff" stroke="#000" stroke-width="0.75" stroke-linejoin="miter"/>
<polygon points="611.64,49.64 614.27,54.37 609.02,54.37" fill="#fff" stroke="#000" stroke-width="0.75" stroke-linejoin="miter"/>
<polygon points="615.01,36.41 617.64,41.14 612.39,41.14" fill="#fff" stroke="#000" stroke-width="0.75" stroke-linejoin="miter"/>
<polygon points="619.47,25.24 622.1,29.97 616.85,29.97" fill="#fff" stroke="#000" stroke-width="0.75" stroke-linejoin="miter"/>
</g>
<line x1="446.74" y1="80.5" x2="446.74" y2="79.2" stroke="#000" stroke-width="0.8"/>
<line x1="454.7" y1="80.5" x2="454.7" y2="78" stroke="#000" stroke-width="0.8"/>
<text x="454.7" y="89.6" font-size="7.0" text-anchor="middle" font-family='"Liberation Sans", Arial, sans-serif' >10</text>
<line x1="462.66" y1="80.5" x2="462.66" y2="79.2" stroke="#000" stroke-width="0.8"/>
<line x1="470.62" y1="80.5" x2="470.62" y2="78" stroke="#000" stroke-width="0.8"/>
<text x="470.62" y="89.6" font-size="7.0" text-anchor="middle" font-family='"Liberation Sans", Arial, sans-serif' >20</text>
<line x1="478.58" y1="80.5" x2="478.58" y2="79.2" stroke="#000" stroke-width="0.8"/>
<line x1="486.54" y1="80.5" x2="486.54" y2="78" stroke="#000" stroke-width="0.8"/>
<text x="486.54" y="89.6" font-size="7.0" text-anchor="middle" font-family='"Liberation Sans", Arial, sans-serif' >30</text>
<line x1="494.5" y1="80.5" x2="494.5" y2="79.2" stroke="#000" stroke-width="0.8"/>
<line x1="502.46" y1="80.5" x2="502.46" y2="78" stroke="#000" stroke-width="0.8"/>
<text x="502.46" y="89.6" font-size="7.0" text-anchor="middle" font-family='"Liberation Sans", Arial, sans-serif' >40</text>
<line x1="510.42" y1="80.5" x2="510.42" y2="79.2" stroke="#000" stroke-width="0.8"/>
<line x1="518.38" y1="80.5" x2="518.38" y2="78" stroke="#000" stroke-width="0.8"/>
<text x="518.38" y="89.6" font-size="7.0" text-anchor="middle" font-family='"Liberation Sans", Arial, sans-serif' >50</text>
<line x1="526.34" y1="80.5" x2="526.34" y2="79.2" stroke="#000" stroke-width="0.8"/>
<line x1="534.3" y1="80.5" x2="534.3" y2="78" stroke="#000" stroke-width="0.8"/>
<text x="534.3" y="89.6" font-size="7.0" text-anchor="middle" font-family='"Liberation Sans", Arial, sans-serif' >60</text>
<line x1="442.5" y1="74.4" x2="445" y2="74.4" stroke="#000" stroke-width="0.8"/>
<text x="439.9" y="76.9" font-size="7.0" text-anchor="end" font-family='"Liberation Sans", Arial, sans-serif' >0</text>
<line x1="442.5" y1="63.45" x2="443.8" y2="63.45" stroke="#000" stroke-width="0.8"/>
<line x1="442.5" y1="52.5" x2="445" y2="52.5" stroke="#000" stroke-width="0.8"/>
<text x="439.9" y="55" font-size="7.0" text-anchor="end" font-family='"Liberation Sans", Arial, sans-serif' >10</text>
<line x1="442.5" y1="41.55" x2="443.8" y2="41.55" stroke="#000" stroke-width="0.8"/>
<line x1="442.5" y1="30.6" x2="445" y2="30.6" stroke="#000" stroke-width="0.8"/>
<text x="439.9" y="33.1" font-size="7.0" text-anchor="end" font-family='"Liberation Sans", Arial, sans-serif' >20</text>
<line x1="442.5" y1="19.65" x2="443.8" y2="19.65" stroke="#000" stroke-width="0.8"/>
<rect x="176.5" y="233.5" width="224" height="167" fill="none" stroke="#000" stroke-width="1"/>
<line x1="176.5" y1="400.9" x2="179.5" y2="400.9" stroke="#000" stroke-width="1"/>
<text x="173.3" y="403.9" font-size="8.8" text-anchor="end" font-family='"Liberation Sans", Arial, sans-serif' >0</text>
<line x1="176.5" y1="386.91" x2="178" y2="386.91" stroke="#000" stroke-width="1"/>
<line x1="176.5" y1="372.92" x2="179.5" y2="372.92" stroke="#000" stroke-width="1"/>
<text x="173.3" y="375.92" font-size="8.8" text-anchor="end" font-family='"Liberation Sans", Arial, sans-serif' >10</text>
<line x1="176.5" y1="358.93" x2="178" y2="358.93" stroke="#000" stroke-width="1"/>
<line x1="176.5" y1="344.94" x2="179.5" y2="344.94" stroke="#000" stroke-width="1"/>
<text x="173.3" y="347.94" font-size="8.8" text-anchor="end" font-family='"Liberation Sans", Arial, sans-serif' >20</text>
<line x1="176.5" y1="330.95" x2="178" y2="330.95" stroke="#000" stroke-width="1"/>
<line x1="176.5" y1="316.96" x2="179.5" y2="316.96" stroke="#000" stroke-width="1"/>
<text x="173.3" y="319.96" font-size="8.8" text-anchor="end" font-family='"Liberation Sans", Arial, sans-serif' >30</text>
<line x1="176.5" y1="302.97" x2="178" y2="302.97" stroke="#000" stroke-width="1"/>
<line x1="176.5" y1="288.98" x2="179.5" y2="288.98" stroke="#000" stroke-width="1"/>
<text x="173.3" y="291.98" font-size="8.8" text-anchor="end" font-family='"Liberation Sans", Arial, sans-serif' >40</text>
<line x1="176.5" y1="274.99" x2="178" y2="274.99" stroke="#000" stroke-width="1"/>
<line x1="176.5" y1="261" x2="179.5" y2="261" stroke="#000" stroke-width="1"/>
<text x="173.3" y="264" font-size="8.8" text-anchor="end" font-family='"Liberation Sans", Arial, sans-serif' >50</text>
<line x1="176.5" y1="247.01" x2="178" y2="247.01" stroke="#000" stroke-width="1"/>
<line x1="176.5" y1="233.02" x2="179.5" y2="233.02" stroke="#000" stroke-width="1"/>
<text x="173.3" y="236.02" font-size="8.8" text-anchor="end" font-family='"Liberation Sans", Arial, sans-serif' >60</text>
<line x1="182.4" y1="400.5" x2="182.4" y2="397.5" stroke="#000" stroke-width="1"/>
<text x="183.9" y="413.8" font-size="8.2" text-anchor="middle" font-family='"Liberation Sans", Arial, sans-serif' >10<tspan dy="-3.6" font-size="5.9">-2</tspan></text>
<line x1="194.5" y1="400.5" x2="194.5" y2="399" stroke="#000" stroke-width="1"/>
<line x1="201.58" y1="400.5" x2="201.58" y2="399" stroke="#000" stroke-width="1"/>
<line x1="206.6" y1="400.5" x2="206.6" y2="399" stroke="#000" stroke-width="1"/>
<line x1="210.5" y1="400.5" x2="210.5" y2="399" stroke="#000" stroke-width="1"/>
<line x1="213.68" y1="400.5" x2="213.68" y2="399" stroke="#000" stroke-width="1"/>
<line x1="216.37" y1="400.5" x2="216.37" y2="399" stroke="#000" stroke-width="1"/>
<line x1="218.7" y1="400.5" x2="218.7" y2="399" stroke="#000" stroke-width="1"/>
<line x1="220.76" y1="400.5" x2="220.76" y2="399" stroke="#000" stroke-width="1"/>
<line x1="222.6" y1="400.5" x2="222.6" y2="397.5" stroke="#000" stroke-width="1"/>
<text x="224.1" y="413.8" font-size="8.2" text-anchor="middle" font-family='"Liberation Sans", Arial, sans-serif' >10<tspan dy="-3.6" font-size="5.9">-1</tspan></text>
<line x1="234.7" y1="400.5" x2="234.7" y2="399" stroke="#000" stroke-width="1"/>
<line x1="241.78" y1="400.5" x2="241.78" y2="399" stroke="#000" stroke-width="1"/>
<line x1="246.8" y1="400.5" x2="246.8" y2="399" stroke="#000" stroke-width="1"/>
<line x1="250.7" y1="400.5" x2="250.7" y2="399" stroke="#000" stroke-width="1"/>
<line x1="253.88" y1="400.5" x2="253.88" y2="399" stroke="#000" stroke-width="1"/>
<line x1="256.57" y1="400.5" x2="256.57" y2="399" stroke="#000" stroke-width="1"/>
<line x1="258.9" y1="400.5" x2="258.9" y2="399" stroke="#000" stroke-width="1"/>
<line x1="260.96" y1="400.5" x2="260.96" y2="399" stroke="#000" stroke-width="1"/>
<line x1="262.8" y1="400.5" x2="262.8" y2="397.5" stroke="#000" stroke-width="1"/>
<text x="264.3" y="413.8" font-size="8.2" text-anchor="middle" font-family='"Liberation Sans", Arial, sans-serif' >10<tspan dy="-3.6" font-size="5.9">0</tspan></text>
<line x1="274.9" y1="400.5" x2="274.9" y2="399" stroke="#000" stroke-width="1"/>
<line x1="281.98" y1="400.5" x2="281.98" y2="399" stroke="#000" stroke-width="1"/>
<line x1="287" y1="400.5" x2="287" y2="399" stroke="#000" stroke-width="1"/>
<line x1="290.9" y1="400.5" x2="290.9" y2="399" stroke="#000" stroke-width="1"/>
<line x1="294.08" y1="400.5" x2="294.08" y2="399" stroke="#000" stroke-width="1"/>
<line x1="296.77" y1="400.5" x2="296.77" y2="399" stroke="#000" stroke-width="1"/>
<line x1="299.1" y1="400.5" x2="299.1" y2="399" stroke="#000" stroke-width="1"/>
<line x1="301.16" y1="400.5" x2="301.16" y2="399" stroke="#000" stroke-width="1"/>
<line x1="303" y1="400.5" x2="303" y2="397.5" stroke="#000" stroke-width="1"/>
<text x="304.5" y="413.8" font-size="8.2" text-anchor="middle" font-family='"Liberation Sans", Arial, sans-serif' >10<tspan dy="-3.6" font-size="5.9">1</tspan></text>
<line x1="315.1" y1="400.5" x2="315.1" y2="399" stroke="#000" stroke-width="1"/>
<line x1="322.18" y1="400.5" x2="322.18" y2="399" stroke="#000" stroke-width="1"/>
<line x1="327.2" y1="400.5" x2="327.2" y2="399" stroke="#000" stroke-width="1"/>
<line x1="331.1" y1="400.5" x2="331.1" y2="399" stroke="#000" stroke-width="1"/>
<line x1="334.28" y1="400.5" x2="334.28" y2="399" stroke="#000" stroke-width="1"/>
<line x1="336.97" y1="400.5" x2="336.97" y2="399" stroke="#000" stroke-width="1"/>
<line x1="339.3" y1="400.5" x2="339.3" y2="399" stroke="#000" stroke-width="1"/>
<line x1="341.36" y1="400.5" x2="341.36" y2="399" stroke="#000" stroke-width="1"/>
<line x1="343.2" y1="400.5" x2="343.2" y2="397.5" stroke="#000" stroke-width="1"/>
<text x="344.7" y="413.8" font-size="8.2" text-anchor="middle" font-family='"Liberation Sans", Arial, sans-serif' >10<tspan dy="-3.6" font-size="5.9">2</tspan></text>
<line x1="355.3" y1="400.5" x2="355.3" y2="399" stroke="#000" stroke-width="1"/>
<line x1="362.38" y1="400.5" x2="362.38" y2="399" stroke="#000" stroke-width="1"/>
<line x1="367.4" y1="400.5" x2="367.4" y2="399" stroke="#000" stroke-width="1"/>
<line x1="371.3" y1="400.5" x2="371.3" y2="399" stroke="#000" stroke-width="1"/>
<line x1="374.48" y1="400.5" x2="374.48" y2="399" stroke="#000" stroke-width="1"/>
<line x1="377.17" y1="400.5" x2="377.17" y2="399" stroke="#000" stroke-width="1"/>
<line x1="379.5" y1="400.5" x2="379.5" y2="399" stroke="#000" stroke-width="1"/>
<line x1="381.56" y1="400.5" x2="381.56" y2="399" stroke="#000" stroke-width="1"/>
<line x1="383.4" y1="400.5" x2="383.4" y2="397.5" stroke="#000" stroke-width="1"/>
<text x="384.9" y="413.8" font-size="8.2" text-anchor="middle" font-family='"Liberation Sans", Arial, sans-serif' >10<tspan dy="-3.6" font-size="5.9">3</tspan></text>
<line x1="395.5" y1="400.5" x2="395.5" y2="399" stroke="#000" stroke-width="1"/>
<line x1="178.5" y1="400.5" x2="178.5" y2="399" stroke="#000" stroke-width="1"/>
<line x1="180.56" y1="400.5" x2="180.56" y2="399" stroke="#000" stroke-width="1"/>
<text transform="translate(158.5,322.1) rotate(-90) scale(1.03,1)" font-size="8.8" text-anchor="middle" font-family='"Liberation Sans", Arial, sans-serif'><tspan font-style="italic">Phase</tspan> / deg</text>
<text x="289" y="429" font-size="8.6" text-anchor="middle" font-family='"Liberation Sans", Arial, sans-serif' ><tspan font-style="italic">F</tspan> / HZ</text>
<text x="274.1" y="450.9" font-size="15.5" text-anchor="middle" font-family='"Liberation Serif", "Times New Roman", serif' >(<tspan font-weight="bold">c</tspan>)</text>
<polyline fill="none" stroke="#000" stroke-width="0.5" points="397.87,395.13 393.85,393.45 389.83,390.89 385.81,388.82 381.79,386.11 377.77,383.11 373.75,380.12 369.73,376.45 365.71,371.88 361.69,367.08 357.67,360.77 353.65,353.42 349.63,345.61 345.61,337.54 341.59,328.25 337.57,319.26 333.55,308.49 329.53,299.73 325.51,291.75 321.49,282.76 317.47,273.66 313.45,265.04 309.43,259.3 305.41,254.76 301.39,251.76 297.37,250.14 293.35,250 289.33,251.74 285.31,254.33 281.29,258.55 277.27,263.74 273.25,270.2 269.23,277.37 265.21,285.33 261.19,293.84 257.17,302.94 253.15,312.41 249.13,322.32 245.11,331.94 241.09,341.22 237.07,350.14 233.05,358.69 229.03,367.04 225.01,375.02 220.99,381.79 216.97,385.93 212.95,388.33 208.93,389.51 204.91,390.28 200.89,390.74 196.87,390.83 192.85,390.83 188.83,390.83 184.81,390.83"/>
<rect x="395.62" y="392.88" width="4.5" height="4.5" fill="#000" stroke="#000" stroke-width="0.3"/>
<rect x="391.6" y="391.2" width="4.5" height="4.5" fill="#000" stroke="#000" stroke-width="0.3"/>
<rect x="387.58" y="388.64" width="4.5" height="4.5" fill="#000" stroke="#000" stroke-width="0.3"/>
<rect x="383.56" y="386.57" width="4.5" height="4.5" fill="#000" stroke="#000" stroke-width="0.3"/>
<rect x="379.54" y="383.86" width="4.5" height="4.5" fill="#000" stroke="#000" stroke-width="0.3"/>
<rect x="375.52" y="380.86" width="4.5" height="4.5" fill="#000" stroke="#000" stroke-width="0.3"/>
<rect x="371.5" y="377.87" width="4.5" height="4.5" fill="#000" stroke="#000" stroke-width="0.3"/>
<rect x="367.48" y="374.2" width="4.5" height="4.5" fill="#000" stroke="#000" stroke-width="0.3"/>
<rect x="363.46" y="369.63" width="4.5" height="4.5" fill="#000" stroke="#000" stroke-width="0.3"/>
<rect x="359.44" y="364.83" width="4.5" height="4.5" fill="#000" stroke="#000" stroke-width="0.3"/>
<rect x="355.42" y="358.52" width="4.5" height="4.5" fill="#000" stroke="#000" stroke-width="0.3"/>
<rect x="351.4" y="351.17" width="4.5" height="4.5" fill="#000" stroke="#000" stroke-width="0.3"/>
<rect x="347.38" y="343.36" width="4.5" height="4.5" fill="#000" stroke="#000" stroke-width="0.3"/>
<rect x="343.36" y="335.29" width="4.5" height="4.5" fill="#000" stroke="#000" stroke-width="0.3"/>
<rect x="339.34" y="326" width="4.5" height="4.5" fill="#000" stroke="#000" stroke-width="0.3"/>
<rect x="335.32" y="317.01" width="4.5" height="4.5" fill="#000" stroke="#000" stroke-width="0.3"/>
<rect x="331.3" y="306.24" width="4.5" height="4.5" fill="#000" stroke="#000" stroke-width="0.3"/>
<rect x="327.28" y="297.48" width="4.5" height="4.5" fill="#000" stroke="#000" stroke-width="0.3"/>
<rect x="323.26" y="289.5" width="4.5" height="4.5" fill="#000" stroke="#000" stroke-width="0.3"/>
<rect x="319.24" y="280.51" width="4.5" height="4.5" fill="#000" stroke="#000" stroke-width="0.3"/>
<rect x="315.22" y="271.41" width="4.5" height="4.5" fill="#000" stroke="#000" stroke-width="0.3"/>
<rect x="311.2" y="262.79" width="4.5" height="4.5" fill="#000" stroke="#000" stroke-width="0.3"/>
<rect x="307.18" y="257.05" width="4.5" height="4.5" fill="#000" stroke="#000" stroke-width="0.3"/>
<rect x="303.16" y="252.51" width="4.5" height="4.5" fill="#000" stroke="#000" stroke-width="0.3"/>
<rect x="299.14" y="249.51" width="4.5" height="4.5" fill="#000" stroke="#000" stroke-width="0.3"/>
<rect x="295.12" y="247.89" width="4.5" height="4.5" fill="#000" stroke="#000" stroke-width="0.3"/>
<rect x="291.1" y="247.75" width="4.5" height="4.5" fill="#000" stroke="#000" stroke-width="0.3"/>
<rect x="287.08" y="249.49" width="4.5" height="4.5" fill="#000" stroke="#000" stroke-width="0.3"/>
<rect x="283.06" y="252.08" width="4.5" height="4.5" fill="#000" stroke="#000" stroke-width="0.3"/>
<rect x="279.04" y="256.3" width="4.5" height="4.5" fill="#000" stroke="#000" stroke-width="0.3"/>
<rect x="275.02" y="261.49" width="4.5" height="4.5" fill="#000" stroke="#000" stroke-width="0.3"/>
<rect x="271" y="267.95" width="4.5" height="4.5" fill="#000" stroke="#000" stroke-width="0.3"/>
<rect x="266.98" y="275.12" width="4.5" height="4.5" fill="#000" stroke="#000" stroke-width="0.3"/>
<rect x="262.96" y="283.08" width="4.5" height="4.5" fill="#000" stroke="#000" stroke-width="0.3"/>
<rect x="258.94" y="291.59" width="4.5" height="4.5" fill="#000" stroke="#000" stroke-width="0.3"/>
<rect x="254.92" y="300.69" width="4.5" height="4.5" fill="#000" stroke="#000" stroke-width="0.3"/>
<rect x="250.9" y="310.16" width="4.5" height="4.5" fill="#000" stroke="#000" stroke-width="0.3"/>
<rect x="246.88" y="320.07" width="4.5" height="4.5" fill="#000" stroke="#000" stroke-width="0.3"/>
<rect x="242.86" y="329.69" width="4.5" height="4.5" fill="#000" stroke="#000" stroke-width="0.3"/>
<rect x="238.84" y="338.97" width="4.5" height="4.5" fill="#000" stroke="#000" stroke-width="0.3"/>
<rect x="234.82" y="347.89" width="4.5" height="4.5" fill="#000" stroke="#000" stroke-width="0.3"/>
<rect x="230.8" y="356.44" width="4.5" height="4.5" fill="#000" stroke="#000" stroke-width="0.3"/>
<rect x="226.78" y="364.79" width="4.5" height="4.5" fill="#000" stroke="#000" stroke-width="0.3"/>
<rect x="222.76" y="372.77" width="4.5" height="4.5" fill="#000" stroke="#000" stroke-width="0.3"/>
<rect x="218.74" y="379.54" width="4.5" height="4.5" fill="#000" stroke="#000" stroke-width="0.3"/>
<rect x="214.72" y="383.68" width="4.5" height="4.5" fill="#000" stroke="#000" stroke-width="0.3"/>
<rect x="210.7" y="386.08" width="4.5" height="4.5" fill="#000" stroke="#000" stroke-width="0.3"/>
<rect x="206.68" y="387.26" width="4.5" height="4.5" fill="#000" stroke="#000" stroke-width="0.3"/>
<rect x="202.66" y="388.03" width="4.5" height="4.5" fill="#000" stroke="#000" stroke-width="0.3"/>
<rect x="198.64" y="388.49" width="4.5" height="4.5" fill="#000" stroke="#000" stroke-width="0.3"/>
<rect x="194.62" y="388.58" width="4.5" height="4.5" fill="#000" stroke="#000" stroke-width="0.3"/>
<rect x="190.6" y="388.58" width="4.5" height="4.5" fill="#000" stroke="#000" stroke-width="0.3"/>
<rect x="186.58" y="388.58" width="4.5" height="4.5" fill="#000" stroke="#000" stroke-width="0.3"/>
<rect x="182.56" y="388.58" width="4.5" height="4.5" fill="#000" stroke="#000" stroke-width="0.3"/>
<polyline fill="none" stroke="#000" stroke-width="0.5" points="397.87,394.61 393.85,393.38 389.83,391.82 385.81,389.57 381.79,386.95 377.77,383.89 373.75,380.46 369.73,376.61 365.71,372.19 361.69,367.06 357.67,361.3 353.65,354.78 349.63,347.57 345.61,339.57 341.59,330.53 337.57,320.18 333.55,308.97 329.53,297.49 325.51,286.73 321.49,275.86 317.47,266.44 313.45,258.33 309.43,252.3 305.41,247.68 301.39,245.04 297.37,243.67 293.35,245.08 289.33,248.87 285.31,253.47 281.29,260.04 277.27,267.28 273.25,275.15 269.23,283.3 265.21,291.7 261.19,300.22 257.17,308.82 253.15,317.86 249.13,327.47 245.11,336.98 241.09,346.43 237.07,354.82 233.05,362.1 229.03,369.61 225.01,377.29 220.99,383.62 216.97,387.58 212.95,389.96 208.93,391.23 204.91,392.08 200.89,392.63 196.87,392.84 192.85,392.94 188.83,393.02 184.81,393.06"/>
<circle cx="397.87" cy="394.61" r="2.48" fill="#000" stroke="#000" stroke-width="0.3"/>
<circle cx="393.85" cy="393.38" r="2.48" fill="#000" stroke="#000" stroke-width="0.3"/>
<circle cx="389.83" cy="391.82" r="2.48" fill="#000" stroke="#000" stroke-width="0.3"/>
<circle cx="385.81" cy="389.57" r="2.48" fill="#000" stroke="#000" stroke-width="0.3"/>
<circle cx="381.79" cy="386.95" r="2.48" fill="#000" stroke="#000" stroke-width="0.3"/>
<circle cx="377.77" cy="383.89" r="2.48" fill="#000" stroke="#000" stroke-width="0.3"/>
<circle cx="373.75" cy="380.46" r="2.48" fill="#000" stroke="#000" stroke-width="0.3"/>
<circle cx="369.73" cy="376.61" r="2.48" fill="#000" stroke="#000" stroke-width="0.3"/>
<circle cx="365.71" cy="372.19" r="2.48" fill="#000" stroke="#000" stroke-width="0.3"/>
<circle cx="361.69" cy="367.06" r="2.48" fill="#000" stroke="#000" stroke-width="0.3"/>
<circle cx="357.67" cy="361.3" r="2.48" fill="#000" stroke="#000" stroke-width="0.3"/>
<circle cx="353.65" cy="354.78" r="2.48" fill="#000" stroke="#000" stroke-width="0.3"/>
<circle cx="349.63" cy="347.57" r="2.48" fill="#000" stroke="#000" stroke-width="0.3"/>
<circle cx="345.61" cy="339.57" r="2.48" fill="#000" stroke="#000" stroke-width="0.3"/>
<circle cx="341.59" cy="330.53" r="2.48" fill="#000" stroke="#000" stroke-width="0.3"/>
<circle cx="337.57" cy="320.18" r="2.48" fill="#000" stroke="#000" stroke-width="0.3"/>
<circle cx="333.55" cy="308.97" r="2.48" fill="#000" stroke="#000" stroke-width="0.3"/>
<circle cx="329.53" cy="297.49" r="2.48" fill="#000" stroke="#000" stroke-width="0.3"/>
<circle cx="325.51" cy="286.73" r="2.48" fill="#000" stroke="#000" stroke-width="0.3"/>
<circle cx="321.49" cy="275.86" r="2.48" fill="#000" stroke="#000" stroke-width="0.3"/>
<circle cx="317.47" cy="266.44" r="2.48" fill="#000" stroke="#000" stroke-width="0.3"/>
<circle cx="313.45" cy="258.33" r="2.48" fill="#000" stroke="#000" stroke-width="0.3"/>
<circle cx="309.43" cy="252.3" r="2.48" fill="#000" stroke="#000" stroke-width="0.3"/>
<circle cx="305.41" cy="247.68" r="2.48" fill="#000" stroke="#000" stroke-width="0.3"/>
<circle cx="301.39" cy="245.04" r="2.48" fill="#000" stroke="#000" stroke-width="0.3"/>
<circle cx="297.37" cy="243.67" r="2.48" fill="#000" stroke="#000" stroke-width="0.3"/>
<circle cx="293.35" cy="245.08" r="2.48" fill="#000" stroke="#000" stroke-width="0.3"/>
<circle cx="289.33" cy="248.87" r="2.48" fill="#000" stroke="#000" stroke-width="0.3"/>
<circle cx="285.31" cy="253.47" r="2.48" fill="#000" stroke="#000" stroke-width="0.3"/>
<circle cx="281.29" cy="260.04" r="2.48" fill="#000" stroke="#000" stroke-width="0.3"/>
<circle cx="277.27" cy="267.28" r="2.48" fill="#000" stroke="#000" stroke-width="0.3"/>
<circle cx="273.25" cy="275.15" r="2.48" fill="#000" stroke="#000" stroke-width="0.3"/>
<circle cx="269.23" cy="283.3" r="2.48" fill="#000" stroke="#000" stroke-width="0.3"/>
<circle cx="265.21" cy="291.7" r="2.48" fill="#000" stroke="#000" stroke-width="0.3"/>
<circle cx="261.19" cy="300.22" r="2.48" fill="#000" stroke="#000" stroke-width="0.3"/>
<circle cx="257.17" cy="308.82" r="2.48" fill="#000" stroke="#000" stroke-width="0.3"/>
<circle cx="253.15" cy="317.86" r="2.48" fill="#000" stroke="#000" stroke-width="0.3"/>
<circle cx="249.13" cy="327.47" r="2.48" fill="#000" stroke="#000" stroke-width="0.3"/>
<circle cx="245.11" cy="336.98" r="2.48" fill="#000" stroke="#000" stroke-width="0.3"/>
<circle cx="241.09" cy="346.43" r="2.48" fill="#000" stroke="#000" stroke-width="0.3"/>
<circle cx="237.07" cy="354.82" r="2.48" fill="#000" stroke="#000" stroke-width="0.3"/>
<circle cx="233.05" cy="362.1" r="2.48" fill="#000" stroke="#000" stroke-width="0.3"/>
<circle cx="229.03" cy="369.61" r="2.48" fill="#000" stroke="#000" stroke-width="0.3"/>
<circle cx="225.01" cy="377.29" r="2.48" fill="#000" stroke="#000" stroke-width="0.3"/>
<circle cx="220.99" cy="383.62" r="2.48" fill="#000" stroke="#000" stroke-width="0.3"/>
<circle cx="216.97" cy="387.58" r="2.48" fill="#000" stroke="#000" stroke-width="0.3"/>
<circle cx="212.95" cy="389.96" r="2.48" fill="#000" stroke="#000" stroke-width="0.3"/>
<circle cx="208.93" cy="391.23" r="2.48" fill="#000" stroke="#000" stroke-width="0.3"/>
<circle cx="204.91" cy="392.08" r="2.48" fill="#000" stroke="#000" stroke-width="0.3"/>
<circle cx="200.89" cy="392.63" r="2.48" fill="#000" stroke="#000" stroke-width="0.3"/>
<circle cx="196.87" cy="392.84" r="2.48" fill="#000" stroke="#000" stroke-width="0.3"/>
<circle cx="192.85" cy="392.94" r="2.48" fill="#000" stroke="#000" stroke-width="0.3"/>
<circle cx="188.83" cy="393.02" r="2.48" fill="#000" stroke="#000" stroke-width="0.3"/>
<circle cx="184.81" cy="393.06" r="2.48" fill="#000" stroke="#000" stroke-width="0.3"/>
<polyline fill="none" stroke="#000" stroke-width="0.5" points="395.46,394.26 391.44,393.07 387.42,391.58 383.4,389.71 379.38,387.16 375.36,384.11 371.34,380.79 367.32,377.12 363.3,373.07 359.28,368.72 355.26,364.23 351.24,359.49 347.22,354.57 343.2,349.14 339.18,342.8 335.16,332.91 331.14,324.47 327.12,315.3 323.1,306.4 319.08,297.15 315.06,288.95 311.04,280.79 307.02,272.63 303,267.44 298.98,264.56 294.96,263.24 290.94,263.74 286.92,264.92 282.9,267.47 278.88,271.35 274.86,276.16 270.84,281.99 266.82,288.58 262.8,295.98 258.78,304.18 254.76,312.76 250.74,321.16 246.72,329.55 242.7,338.14 238.68,346.34 234.66,353.67 230.64,360.33 226.62,366.5 222.6,371.8 218.58,376.35 214.56,379.36 210.54,380.48 206.52,380.9 202.5,381.03 198.48,380.83 194.46,380 190.44,376.48 186.42,372.36 182.4,367.32"/>
<polygon points="395.46,391.34 398.27,396.4 392.65,396.4" fill="#000" stroke="#000" stroke-width="0.3" stroke-linejoin="miter"/>
<polygon points="391.44,390.14 394.25,395.2 388.63,395.2" fill="#000" stroke="#000" stroke-width="0.3" stroke-linejoin="miter"/>
<polygon points="387.42,388.65 390.23,393.72 384.61,393.72" fill="#000" stroke="#000" stroke-width="0.3" stroke-linejoin="miter"/>
<polygon points="383.4,386.78 386.21,391.85 380.59,391.85" fill="#000" stroke="#000" stroke-width="0.3" stroke-linejoin="miter"/>
<polygon points="379.38,384.24 382.19,389.3 376.57,389.3" fill="#000" stroke="#000" stroke-width="0.3" stroke-linejoin="miter"/>
<polygon points="375.36,381.19 378.17,386.25 372.55,386.25" fill="#000" stroke="#000" stroke-width="0.3" stroke-linejoin="miter"/>
<polygon points="371.34,377.87 374.15,382.93 368.53,382.93" fill="#000" stroke="#000" stroke-width="0.3" stroke-linejoin="miter"/>
<polygon points="367.32,374.19 370.13,379.25 364.51,379.25" fill="#000" stroke="#000" stroke-width="0.3" stroke-linejoin="miter"/>
<polygon points="363.3,370.14 366.11,375.2 360.49,375.2" fill="#000" stroke="#000" stroke-width="0.3" stroke-linejoin="miter"/>
<polygon points="359.28,365.8 362.09,370.86 356.47,370.86" fill="#000" stroke="#000" stroke-width="0.3" stroke-linejoin="miter"/>
<polygon points="355.26,361.3 358.07,366.36 352.45,366.36" fill="#000" stroke="#000" stroke-width="0.3" stroke-linejoin="miter"/>
<polygon points="351.24,356.56 354.05,361.63 348.43,361.63" fill="#000" stroke="#000" stroke-width="0.3" stroke-linejoin="miter"/>
<polygon points="347.22,351.64 350.03,356.71 344.41,356.71" fill="#000" stroke="#000" stroke-width="0.3" stroke-linejoin="miter"/>
<polygon points="343.2,346.21 346.01,351.27 340.39,351.27" fill="#000" stroke="#000" stroke-width="0.3" stroke-linejoin="miter"/>
<polygon points="339.18,339.88 341.99,344.94 336.37,344.94" fill="#000" stroke="#000" stroke-width="0.3" stroke-linejoin="miter"/>
<polygon points="335.16,329.99 337.97,335.05 332.35,335.05" fill="#000" stroke="#000" stroke-width="0.3" stroke-linejoin="miter"/>
<polygon points="331.14,321.55 333.95,326.61 328.33,326.61" fill="#000" stroke="#000" stroke-width="0.3" stroke-linejoin="miter"/>
<polygon points="327.12,312.37 329.93,317.44 324.31,317.44" fill="#000" stroke="#000" stroke-width="0.3" stroke-linejoin="miter"/>
<polygon points="323.1,303.48 325.91,308.54 320.29,308.54" fill="#000" stroke="#000" stroke-width="0.3" stroke-linejoin="miter"/>
<polygon points="319.08,294.23 321.89,299.29 316.27,299.29" fill="#000" stroke="#000" stroke-width="0.3" stroke-linejoin="miter"/>
<polygon points="315.06,286.03 317.87,291.09 312.25,291.09" fill="#000" stroke="#000" stroke-width="0.3" stroke-linejoin="miter"/>
<polygon points="311.04,277.86 313.85,282.93 308.23,282.93" fill="#000" stroke="#000" stroke-width="0.3" stroke-linejoin="miter"/>
<polygon points="307.02,269.7 309.83,274.76 304.21,274.76" fill="#000" stroke="#000" stroke-width="0.3" stroke-linejoin="miter"/>
<polygon points="303,264.52 305.81,269.58 300.19,269.58" fill="#000" stroke="#000" stroke-width="0.3" stroke-linejoin="miter"/>
<polygon points="298.98,261.64 301.79,266.7 296.17,266.7" fill="#000" stroke="#000" stroke-width="0.3" stroke-linejoin="miter"/>
<polygon points="294.96,260.31 297.77,265.38 292.15,265.38" fill="#000" stroke="#000" stroke-width="0.3" stroke-linejoin="miter"/>
<polygon points="290.94,260.82 293.75,265.88 288.13,265.88" fill="#000" stroke="#000" stroke-width="0.3" stroke-linejoin="miter"/>
<polygon points="286.92,261.99 289.73,267.05 284.11,267.05" fill="#000" stroke="#000" stroke-width="0.3" stroke-linejoin="miter"/>
<polygon points="282.9,264.54 285.71,269.6 280.09,269.6" fill="#000" stroke="#000" stroke-width="0.3" stroke-linejoin="miter"/>
<polygon points="278.88,268.43 281.69,273.49 276.07,273.49" fill="#000" stroke="#000" stroke-width="0.3" stroke-linejoin="miter"/>
<polygon points="274.86,273.24 277.67,278.3 272.05,278.3" fill="#000" stroke="#000" stroke-width="0.3" stroke-linejoin="miter"/>
<polygon points="270.84,279.06 273.65,284.12 268.03,284.12" fill="#000" stroke="#000" stroke-width="0.3" stroke-linejoin="miter"/>
<polygon points="266.82,285.66 269.63,290.72 264.01,290.72" fill="#000" stroke="#000" stroke-width="0.3" stroke-linejoin="miter"/>
<polygon points="262.8,293.05 265.61,298.11 259.99,298.11" fill="#000" stroke="#000" stroke-width="0.3" stroke-linejoin="miter"/>
<polygon points="258.78,301.25 261.59,306.32 255.97,306.32" fill="#000" stroke="#000" stroke-width="0.3" stroke-linejoin="miter"/>
<polygon points="254.76,309.84 257.57,314.9 251.95,314.9" fill="#000" stroke="#000" stroke-width="0.3" stroke-linejoin="miter"/>
<polygon points="250.74,318.23 253.55,323.29 247.93,323.29" fill="#000" stroke="#000" stroke-width="0.3" stroke-linejoin="miter"/>
<polygon points="246.72,326.63 249.53,331.69 243.91,331.69" fill="#000" stroke="#000" stroke-width="0.3" stroke-linejoin="miter"/>
<polygon points="242.7,335.21 245.51,340.27 239.89,340.27" fill="#000" stroke="#000" stroke-width="0.3" stroke-linejoin="miter"/>
<polygon points="238.68,343.41 241.49,348.48 235.87,348.48" fill="#000" stroke="#000" stroke-width="0.3" stroke-linejoin="miter"/>
<polygon points="234.66,350.74 237.47,355.8 231.85,355.8" fill="#000" stroke="#000" stroke-width="0.3" stroke-linejoin="miter"/>
<polygon points="230.64,357.4 233.45,362.47 227.83,362.47" fill="#000" stroke="#000" stroke-width="0.3" stroke-linejoin="miter"/>
<polygon points="226.62,363.58 229.43,368.64 223.81,368.64" fill="#000" stroke="#000" stroke-width="0.3" stroke-linejoin="miter"/>
<polygon points="222.6,368.88 225.41,373.94 219.79,373.94" fill="#000" stroke="#000" stroke-width="0.3" stroke-linejoin="miter"/>
<polygon points="218.58,373.43 221.39,378.49 215.77,378.49" fill="#000" stroke="#000" stroke-width="0.3" stroke-linejoin="miter"/>
<polygon points="214.56,376.43 217.37,381.49 211.75,381.49" fill="#000" stroke="#000" stroke-width="0.3" stroke-linejoin="miter"/>
<polygon points="210.54,377.56 213.35,382.62 207.73,382.62" fill="#000" stroke="#000" stroke-width="0.3" stroke-linejoin="miter"/>
<polygon points="206.52,377.97 209.33,383.03 203.71,383.03" fill="#000" stroke="#000" stroke-width="0.3" stroke-linejoin="miter"/>
<polygon points="202.5,378.11 205.31,383.17 199.69,383.17" fill="#000" stroke="#000" stroke-width="0.3" stroke-linejoin="miter"/>
<polygon points="198.48,377.91 201.29,382.97 195.67,382.97" fill="#000" stroke="#000" stroke-width="0.3" stroke-linejoin="miter"/>
<polygon points="194.46,377.07 197.27,382.13 191.65,382.13" fill="#000" stroke="#000" stroke-width="0.3" stroke-linejoin="miter"/>
<polygon points="190.44,373.56 193.25,378.62 187.63,378.62" fill="#000" stroke="#000" stroke-width="0.3" stroke-linejoin="miter"/>
<polygon points="186.42,369.44 189.23,374.5 183.61,374.5" fill="#000" stroke="#000" stroke-width="0.3" stroke-linejoin="miter"/>
<polygon points="182.4,364.4 185.21,369.46 179.59,369.46" fill="#000" stroke="#000" stroke-width="0.3" stroke-linejoin="miter"/>
<polyline fill="none" stroke="#000" stroke-width="0.5" points="395.46,395.26 391.44,394.46 387.42,393.47 383.4,392.23 379.38,390.69 375.36,388.87 371.34,386.79 367.32,384.39 363.3,381.67 359.28,378.52 355.26,374.74 351.24,370.4 347.22,365.44 343.2,360.05 339.18,354.72 335.16,347.84 331.14,339.22 327.12,330.77 323.1,322.82 319.08,313.39 315.06,305.73 311.04,299.9 307.02,293.04 303,289.01 298.98,285.27 294.96,284.03 290.94,284.63 286.92,287.3 282.9,290.71 278.88,295.14 274.86,300.69 270.84,307.17 266.82,314.25 262.8,321.72 258.78,329.15 254.76,336.55 250.74,343.83 246.72,350.82 242.7,357.28 238.68,363.41 234.66,369.66 230.64,374.28 226.62,377.12 222.6,379.47 218.58,381.65 214.56,383.55 210.54,384.5 206.52,384.64 202.5,384.39 198.48,383.31 194.46,381.25 190.44,377.67 186.42,371.74 182.4,363.69"/>
<rect x="393.21" y="393.01" width="4.5" height="4.5" fill="#fff" stroke="#000" stroke-width="0.8"/>
<rect x="389.19" y="392.21" width="4.5" height="4.5" fill="#fff" stroke="#000" stroke-width="0.8"/>
<rect x="385.17" y="391.22" width="4.5" height="4.5" fill="#fff" stroke="#000" stroke-width="0.8"/>
<rect x="381.15" y="389.98" width="4.5" height="4.5" fill="#fff" stroke="#000" stroke-width="0.8"/>
<rect x="377.13" y="388.44" width="4.5" height="4.5" fill="#fff" stroke="#000" stroke-width="0.8"/>
<rect x="373.11" y="386.62" width="4.5" height="4.5" fill="#fff" stroke="#000" stroke-width="0.8"/>
<rect x="369.09" y="384.54" width="4.5" height="4.5" fill="#fff" stroke="#000" stroke-width="0.8"/>
<rect x="365.07" y="382.14" width="4.5" height="4.5" fill="#fff" stroke="#000" stroke-width="0.8"/>
<rect x="361.05" y="379.42" width="4.5" height="4.5" fill="#fff" stroke="#000" stroke-width="0.8"/>
<rect x="357.03" y="376.27" width="4.5" height="4.5" fill="#fff" stroke="#000" stroke-width="0.8"/>
<rect x="353.01" y="372.49" width="4.5" height="4.5" fill="#fff" stroke="#000" stroke-width="0.8"/>
<rect x="348.99" y="368.15" width="4.5" height="4.5" fill="#fff" stroke="#000" stroke-width="0.8"/>
<rect x="344.97" y="363.19" width="4.5" height="4.5" fill="#fff" stroke="#000" stroke-width="0.8"/>
<rect x="340.95" y="357.8" width="4.5" height="4.5" fill="#fff" stroke="#000" stroke-width="0.8"/>
<rect x="336.93" y="352.47" width="4.5" height="4.5" fill="#fff" stroke="#000" stroke-width="0.8"/>
<rect x="332.91" y="345.59" width="4.5" height="4.5" fill="#fff" stroke="#000" stroke-width="0.8"/>
<rect x="328.89" y="336.97" width="4.5" height="4.5" fill="#fff" stroke="#000" stroke-width="0.8"/>
<rect x="324.87" y="328.52" width="4.5" height="4.5" fill="#fff" stroke="#000" stroke-width="0.8"/>
<rect x="320.85" y="320.57" width="4.5" height="4.5" fill="#fff" stroke="#000" stroke-width="0.8"/>
<rect x="316.83" y="311.14" width="4.5" height="4.5" fill="#fff" stroke="#000" stroke-width="0.8"/>
<rect x="312.81" y="303.48" width="4.5" height="4.5" fill="#fff" stroke="#000" stroke-width="0.8"/>
<rect x="308.79" y="297.65" width="4.5" height="4.5" fill="#fff" stroke="#000" stroke-width="0.8"/>
<rect x="304.77" y="290.79" width="4.5" height="4.5" fill="#fff" stroke="#000" stroke-width="0.8"/>
<rect x="300.75" y="286.76" width="4.5" height="4.5" fill="#fff" stroke="#000" stroke-width="0.8"/>
<rect x="296.73" y="283.02" width="4.5" height="4.5" fill="#fff" stroke="#000" stroke-width="0.8"/>
<rect x="292.71" y="281.78" width="4.5" height="4.5" fill="#fff" stroke="#000" stroke-width="0.8"/>
<rect x="288.69" y="282.38" width="4.5" height="4.5" fill="#fff" stroke="#000" stroke-width="0.8"/>
<rect x="284.67" y="285.05" width="4.5" height="4.5" fill="#fff" stroke="#000" stroke-width="0.8"/>
<rect x="280.65" y="288.46" width="4.5" height="4.5" fill="#fff" stroke="#000" stroke-width="0.8"/>
<rect x="276.63" y="292.89" width="4.5" height="4.5" fill="#fff" stroke="#000" stroke-width="0.8"/>
<rect x="272.61" y="298.44" width="4.5" height="4.5" fill="#fff" stroke="#000" stroke-width="0.8"/>
<rect x="268.59" y="304.92" width="4.5" height="4.5" fill="#fff" stroke="#000" stroke-width="0.8"/>
<rect x="264.57" y="312" width="4.5" height="4.5" fill="#fff" stroke="#000" stroke-width="0.8"/>
<rect x="260.55" y="319.47" width="4.5" height="4.5" fill="#fff" stroke="#000" stroke-width="0.8"/>
<rect x="256.53" y="326.9" width="4.5" height="4.5" fill="#fff" stroke="#000" stroke-width="0.8"/>
<rect x="252.51" y="334.3" width="4.5" height="4.5" fill="#fff" stroke="#000" stroke-width="0.8"/>
<rect x="248.49" y="341.58" width="4.5" height="4.5" fill="#fff" stroke="#000" stroke-width="0.8"/>
<rect x="244.47" y="348.57" width="4.5" height="4.5" fill="#fff" stroke="#000" stroke-width="0.8"/>
<rect x="240.45" y="355.03" width="4.5" height="4.5" fill="#fff" stroke="#000" stroke-width="0.8"/>
<rect x="236.43" y="361.16" width="4.5" height="4.5" fill="#fff" stroke="#000" stroke-width="0.8"/>
<rect x="232.41" y="367.41" width="4.5" height="4.5" fill="#fff" stroke="#000" stroke-width="0.8"/>
<rect x="228.39" y="372.03" width="4.5" height="4.5" fill="#fff" stroke="#000" stroke-width="0.8"/>
<rect x="224.37" y="374.87" width="4.5" height="4.5" fill="#fff" stroke="#000" stroke-width="0.8"/>
<rect x="220.35" y="377.22" width="4.5" height="4.5" fill="#fff" stroke="#000" stroke-width="0.8"/>
<rect x="216.33" y="379.4" width="4.5" height="4.5" fill="#fff" stroke="#000" stroke-width="0.8"/>
<rect x="212.31" y="381.3" width="4.5" height="4.5" fill="#fff" stroke="#000" stroke-width="0.8"/>
<rect x="208.29" y="382.25" width="4.5" height="4.5" fill="#fff" stroke="#000" stroke-width="0.8"/>
<rect x="204.27" y="382.39" width="4.5" height="4.5" fill="#fff" stroke="#000" stroke-width="0.8"/>
<rect x="200.25" y="382.14" width="4.5" height="4.5" fill="#fff" stroke="#000" stroke-width="0.8"/>
<rect x="196.23" y="381.06" width="4.5" height="4.5" fill="#fff" stroke="#000" stroke-width="0.8"/>
<rect x="192.21" y="379" width="4.5" height="4.5" fill="#fff" stroke="#000" stroke-width="0.8"/>
<rect x="188.19" y="375.42" width="4.5" height="4.5" fill="#fff" stroke="#000" stroke-width="0.8"/>
<rect x="184.17" y="369.49" width="4.5" height="4.5" fill="#fff" stroke="#000" stroke-width="0.8"/>
<rect x="180.15" y="361.44" width="4.5" height="4.5" fill="#fff" stroke="#000" stroke-width="0.8"/>
<polyline fill="none" stroke="#000" stroke-width="0.5" points="397.87,396.39 393.85,395.96 389.83,395.43 385.81,394.67 381.79,393.59 377.77,392.39 373.75,390.68 369.73,388.12 365.71,385.79 361.69,382.75 357.67,379.45 353.65,375.06 349.63,370.43 345.61,365.2 341.59,359.39 337.57,353.08 333.55,343.76 329.53,334.21 325.51,325.91 321.49,317.48 317.47,309.33 313.45,302.33 309.43,296.51 305.41,291.74 301.39,288.21 297.37,286.26 293.35,285.62 289.33,286.55 285.31,288.43 281.29,291.6 277.27,295.96 273.25,302.29 269.23,309.85 265.21,318.23 261.19,325.08 257.17,332.2 253.15,341.99 249.13,348.32 245.11,354.81 241.09,358.46 237.07,361.73 233.05,365.3 229.03,368.86 225.01,371.7 220.99,373.66 216.97,374.43 212.95,374.58 208.93,374.4 204.91,373.64 200.89,371.76 196.87,368.21 192.85,365.51 188.83,362.63 184.81,358.37"/>
<circle cx="397.87" cy="396.39" r="2.48" fill="#fff" stroke="#000" stroke-width="0.8"/>
<circle cx="393.85" cy="395.96" r="2.48" fill="#fff" stroke="#000" stroke-width="0.8"/>
<circle cx="389.83" cy="395.43" r="2.48" fill="#fff" stroke="#000" stroke-width="0.8"/>
<circle cx="385.81" cy="394.67" r="2.48" fill="#fff" stroke="#000" stroke-width="0.8"/>
<circle cx="381.79" cy="393.59" r="2.48" fill="#fff" stroke="#000" stroke-width="0.8"/>
<circle cx="377.77" cy="392.39" r="2.48" fill="#fff" stroke="#000" stroke-width="0.8"/>
<circle cx="373.75" cy="390.68" r="2.48" fill="#fff" stroke="#000" stroke-width="0.8"/>
<circle cx="369.73" cy="388.12" r="2.48" fill="#fff" stroke="#000" stroke-width="0.8"/>
<circle cx="365.71" cy="385.79" r="2.48" fill="#fff" stroke="#000" stroke-width="0.8"/>
<circle cx="361.69" cy="382.75" r="2.48" fill="#fff" stroke="#000" stroke-width="0.8"/>
<circle cx="357.67" cy="379.45" r="2.48" fill="#fff" stroke="#000" stroke-width="0.8"/>
<circle cx="353.65" cy="375.06" r="2.48" fill="#fff" stroke="#000" stroke-width="0.8"/>
<circle cx="349.63" cy="370.43" r="2.48" fill="#fff" stroke="#000" stroke-width="0.8"/>
<circle cx="345.61" cy="365.2" r="2.48" fill="#fff" stroke="#000" stroke-width="0.8"/>
<circle cx="341.59" cy="359.39" r="2.48" fill="#fff" stroke="#000" stroke-width="0.8"/>
<circle cx="337.57" cy="353.08" r="2.48" fill="#fff" stroke="#000" stroke-width="0.8"/>
<circle cx="333.55" cy="343.76" r="2.48" fill="#fff" stroke="#000" stroke-width="0.8"/>
<circle cx="329.53" cy="334.21" r="2.48" fill="#fff" stroke="#000" stroke-width="0.8"/>
<circle cx="325.51" cy="325.91" r="2.48" fill="#fff" stroke="#000" stroke-width="0.8"/>
<circle cx="321.49" cy="317.48" r="2.48" fill="#fff" stroke="#000" stroke-width="0.8"/>
<circle cx="317.47" cy="309.33" r="2.48" fill="#fff" stroke="#000" stroke-width="0.8"/>
<circle cx="313.45" cy="302.33" r="2.48" fill="#fff" stroke="#000" stroke-width="0.8"/>
<circle cx="309.43" cy="296.51" r="2.48" fill="#fff" stroke="#000" stroke-width="0.8"/>
<circle cx="305.41" cy="291.74" r="2.48" fill="#fff" stroke="#000" stroke-width="0.8"/>
<circle cx="301.39" cy="288.21" r="2.48" fill="#fff" stroke="#000" stroke-width="0.8"/>
<circle cx="297.37" cy="286.26" r="2.48" fill="#fff" stroke="#000" stroke-width="0.8"/>
<circle cx="293.35" cy="285.62" r="2.48" fill="#fff" stroke="#000" stroke-width="0.8"/>
<circle cx="289.33" cy="286.55" r="2.48" fill="#fff" stroke="#000" stroke-width="0.8"/>
<circle cx="285.31" cy="288.43" r="2.48" fill="#fff" stroke="#000" stroke-width="0.8"/>
<circle cx="281.29" cy="291.6" r="2.48" fill="#fff" stroke="#000" stroke-width="0.8"/>
<circle cx="277.27" cy="295.96" r="2.48" fill="#fff" stroke="#000" stroke-width="0.8"/>
<circle cx="273.25" cy="302.29" r="2.48" fill="#fff" stroke="#000" stroke-width="0.8"/>
<circle cx="269.23" cy="309.85" r="2.48" fill="#fff" stroke="#000" stroke-width="0.8"/>
<circle cx="265.21" cy="318.23" r="2.48" fill="#fff" stroke="#000" stroke-width="0.8"/>
<circle cx="261.19" cy="325.08" r="2.48" fill="#fff" stroke="#000" stroke-width="0.8"/>
<circle cx="257.17" cy="332.2" r="2.48" fill="#fff" stroke="#000" stroke-width="0.8"/>
<circle cx="253.15" cy="341.99" r="2.48" fill="#fff" stroke="#000" stroke-width="0.8"/>
<circle cx="249.13" cy="348.32" r="2.48" fill="#fff" stroke="#000" stroke-width="0.8"/>
<circle cx="245.11" cy="354.81" r="2.48" fill="#fff" stroke="#000" stroke-width="0.8"/>
<circle cx="241.09" cy="358.46" r="2.48" fill="#fff" stroke="#000" stroke-width="0.8"/>
<circle cx="237.07" cy="361.73" r="2.48" fill="#fff" stroke="#000" stroke-width="0.8"/>
<circle cx="233.05" cy="365.3" r="2.48" fill="#fff" stroke="#000" stroke-width="0.8"/>
<circle cx="229.03" cy="368.86" r="2.48" fill="#fff" stroke="#000" stroke-width="0.8"/>
<circle cx="225.01" cy="371.7" r="2.48" fill="#fff" stroke="#000" stroke-width="0.8"/>
<circle cx="220.99" cy="373.66" r="2.48" fill="#fff" stroke="#000" stroke-width="0.8"/>
<circle cx="216.97" cy="374.43" r="2.48" fill="#fff" stroke="#000" stroke-width="0.8"/>
<circle cx="212.95" cy="374.58" r="2.48" fill="#fff" stroke="#000" stroke-width="0.8"/>
<circle cx="208.93" cy="374.4" r="2.48" fill="#fff" stroke="#000" stroke-width="0.8"/>
<circle cx="204.91" cy="373.64" r="2.48" fill="#fff" stroke="#000" stroke-width="0.8"/>
<circle cx="200.89" cy="371.76" r="2.48" fill="#fff" stroke="#000" stroke-width="0.8"/>
<circle cx="196.87" cy="368.21" r="2.48" fill="#fff" stroke="#000" stroke-width="0.8"/>
<circle cx="192.85" cy="365.51" r="2.48" fill="#fff" stroke="#000" stroke-width="0.8"/>
<circle cx="188.83" cy="362.63" r="2.48" fill="#fff" stroke="#000" stroke-width="0.8"/>
<circle cx="184.81" cy="358.37" r="2.48" fill="#fff" stroke="#000" stroke-width="0.8"/>
<polyline fill="none" stroke="#000" stroke-width="0.5" points="395.46,396.21 391.44,395.14 387.42,393.26 383.4,391.57 379.38,389.38 375.36,387.15 371.34,384.42 367.32,381.08 363.3,378.12 359.28,373.18 355.26,367.92 351.24,362.01 347.22,356.02 343.2,348.44 339.18,339.42 335.16,331.18 331.14,322.22 327.12,312.17 323.1,301.72 319.08,291.11 315.06,282.27 311.04,274.63 307.02,268.01 303,262.89 298.98,259.88 294.96,259.34 290.94,260.03 286.92,262.12 282.9,266.02 278.88,271.63 274.86,278.46 270.84,286.18 266.82,293.84 262.8,301.85 258.78,310.31 254.76,319.2 250.74,328.79 246.72,338.22 242.7,346.69 238.68,354.45 234.66,361.66 230.64,367.88 226.62,372.88 222.6,376.84 218.58,379.77 214.56,381.98 210.54,383.53 206.52,384.62 202.5,385.51 198.48,385.27 194.46,384.48 190.44,382.19 186.42,378.52 182.4,372.36"/>
<polygon points="395.46,393.28 398.27,398.34 392.65,398.34" fill="#fff" stroke="#000" stroke-width="0.8" stroke-linejoin="miter"/>
<polygon points="391.44,392.22 394.25,397.28 388.63,397.28" fill="#fff" stroke="#000" stroke-width="0.8" stroke-linejoin="miter"/>
<polygon points="387.42,390.33 390.23,395.39 384.61,395.39" fill="#fff" stroke="#000" stroke-width="0.8" stroke-linejoin="miter"/>
<polygon points="383.4,388.65 386.21,393.71 380.59,393.71" fill="#fff" stroke="#000" stroke-width="0.8" stroke-linejoin="miter"/>
<polygon points="379.38,386.45 382.19,391.51 376.57,391.51" fill="#fff" stroke="#000" stroke-width="0.8" stroke-linejoin="miter"/>
<polygon points="375.36,384.23 378.17,389.29 372.55,389.29" fill="#fff" stroke="#000" stroke-width="0.8" stroke-linejoin="miter"/>
<polygon points="371.34,381.49 374.15,386.55 368.53,386.55" fill="#fff" stroke="#000" stroke-width="0.8" stroke-linejoin="miter"/>
<polygon points="367.32,378.16 370.13,383.22 364.51,383.22" fill="#fff" stroke="#000" stroke-width="0.8" stroke-linejoin="miter"/>
<polygon points="363.3,375.19 366.11,380.25 360.49,380.25" fill="#fff" stroke="#000" stroke-width="0.8" stroke-linejoin="miter"/>
<polygon points="359.28,370.26 362.09,375.32 356.47,375.32" fill="#fff" stroke="#000" stroke-width="0.8" stroke-linejoin="miter"/>
<polygon points="355.26,365 358.07,370.06 352.45,370.06" fill="#fff" stroke="#000" stroke-width="0.8" stroke-linejoin="miter"/>
<polygon points="351.24,359.08 354.05,364.15 348.43,364.15" fill="#fff" stroke="#000" stroke-width="0.8" stroke-linejoin="miter"/>
<polygon points="347.22,353.1 350.03,358.16 344.41,358.16" fill="#fff" stroke="#000" stroke-width="0.8" stroke-linejoin="miter"/>
<polygon points="343.2,345.51 346.01,350.58 340.39,350.58" fill="#fff" stroke="#000" stroke-width="0.8" stroke-linejoin="miter"/>
<polygon points="339.18,336.5 341.99,341.56 336.37,341.56" fill="#fff" stroke="#000" stroke-width="0.8" stroke-linejoin="miter"/>
<polygon points="335.16,328.25 337.97,333.31 332.35,333.31" fill="#fff" stroke="#000" stroke-width="0.8" stroke-linejoin="miter"/>
<polygon points="331.14,319.29 333.95,324.36 328.33,324.36" fill="#fff" stroke="#000" stroke-width="0.8" stroke-linejoin="miter"/>
<polygon points="327.12,309.24 329.93,314.31 324.31,314.31" fill="#fff" stroke="#000" stroke-width="0.8" stroke-linejoin="miter"/>
<polygon points="323.1,298.79 325.91,303.85 320.29,303.85" fill="#fff" stroke="#000" stroke-width="0.8" stroke-linejoin="miter"/>
<polygon points="319.08,288.18 321.89,293.25 316.27,293.25" fill="#fff" stroke="#000" stroke-width="0.8" stroke-linejoin="miter"/>
<polygon points="315.06,279.35 317.87,284.41 312.25,284.41" fill="#fff" stroke="#000" stroke-width="0.8" stroke-linejoin="miter"/>
<polygon points="311.04,271.71 313.85,276.77 308.23,276.77" fill="#fff" stroke="#000" stroke-width="0.8" stroke-linejoin="miter"/>
<polygon points="307.02,265.08 309.83,270.15 304.21,270.15" fill="#fff" stroke="#000" stroke-width="0.8" stroke-linejoin="miter"/>
<polygon points="303,259.96 305.81,265.02 300.19,265.02" fill="#fff" stroke="#000" stroke-width="0.8" stroke-linejoin="miter"/>
<polygon points="298.98,256.96 301.79,262.02 296.17,262.02" fill="#fff" stroke="#000" stroke-width="0.8" stroke-linejoin="miter"/>
<polygon points="294.96,256.41 297.77,261.48 292.15,261.48" fill="#fff" stroke="#000" stroke-width="0.8" stroke-linejoin="miter"/>
<polygon points="290.94,257.1 293.75,262.17 288.13,262.17" fill="#fff" stroke="#000" stroke-width="0.8" stroke-linejoin="miter"/>
<polygon points="286.92,259.19 289.73,264.26 284.11,264.26" fill="#fff" stroke="#000" stroke-width="0.8" stroke-linejoin="miter"/>
<polygon points="282.9,263.09 285.71,268.16 280.09,268.16" fill="#fff" stroke="#000" stroke-width="0.8" stroke-linejoin="miter"/>
<polygon points="278.88,268.71 281.69,273.77 276.07,273.77" fill="#fff" stroke="#000" stroke-width="0.8" stroke-linejoin="miter"/>
<polygon points="274.86,275.53 277.67,280.6 272.05,280.6" fill="#fff" stroke="#000" stroke-width="0.8" stroke-linejoin="miter"/>
<polygon points="270.84,283.26 273.65,288.32 268.03,288.32" fill="#fff" stroke="#000" stroke-width="0.8" stroke-linejoin="miter"/>
<polygon points="266.82,290.92 269.63,295.98 264.01,295.98" fill="#fff" stroke="#000" stroke-width="0.8" stroke-linejoin="miter"/>
<polygon points="262.8,298.93 265.61,303.99 259.99,303.99" fill="#fff" stroke="#000" stroke-width="0.8" stroke-linejoin="miter"/>
<polygon points="258.78,307.39 261.59,312.45 255.97,312.45" fill="#fff" stroke="#000" stroke-width="0.8" stroke-linejoin="miter"/>
<polygon points="254.76,316.27 257.57,321.34 251.95,321.34" fill="#fff" stroke="#000" stroke-width="0.8" stroke-linejoin="miter"/>
<polygon points="250.74,325.87 253.55,330.93 247.93,330.93" fill="#fff" stroke="#000" stroke-width="0.8" stroke-linejoin="miter"/>
<polygon points="246.72,335.3 249.53,340.36 243.91,340.36" fill="#fff" stroke="#000" stroke-width="0.8" stroke-linejoin="miter"/>
<polygon points="242.7,343.77 245.51,348.83 239.89,348.83" fill="#fff" stroke="#000" stroke-width="0.8" stroke-linejoin="miter"/>
<polygon points="238.68,351.53 241.49,356.59 235.87,356.59" fill="#fff" stroke="#000" stroke-width="0.8" stroke-linejoin="miter"/>
<polygon points="234.66,358.74 237.47,363.8 231.85,363.8" fill="#fff" stroke="#000" stroke-width="0.8" stroke-linejoin="miter"/>
<polygon points="230.64,364.96 233.45,370.02 227.83,370.02" fill="#fff" stroke="#000" stroke-width="0.8" stroke-linejoin="miter"/>
<polygon points="226.62,369.95 229.43,375.01 223.81,375.01" fill="#fff" stroke="#000" stroke-width="0.8" stroke-linejoin="miter"/>
<polygon points="222.6,373.91 225.41,378.97 219.79,378.97" fill="#fff" stroke="#000" stroke-width="0.8" stroke-linejoin="miter"/>
<polygon points="218.58,376.84 221.39,381.9 215.77,381.9" fill="#fff" stroke="#000" stroke-width="0.8" stroke-linejoin="miter"/>
<polygon points="214.56,379.06 217.37,384.12 211.75,384.12" fill="#fff" stroke="#000" stroke-width="0.8" stroke-linejoin="miter"/>
<polygon points="210.54,380.6 213.35,385.67 207.73,385.67" fill="#fff" stroke="#000" stroke-width="0.8" stroke-linejoin="miter"/>
<polygon points="206.52,381.69 209.33,386.75 203.71,386.75" fill="#fff" stroke="#000" stroke-width="0.8" stroke-linejoin="miter"/>
<polygon points="202.5,382.59 205.31,387.65 199.69,387.65" fill="#fff" stroke="#000" stroke-width="0.8" stroke-linejoin="miter"/>
<polygon points="198.48,382.35 201.29,387.41 195.67,387.41" fill="#fff" stroke="#000" stroke-width="0.8" stroke-linejoin="miter"/>
<polygon points="194.46,381.55 197.27,386.62 191.65,386.62" fill="#fff" stroke="#000" stroke-width="0.8" stroke-linejoin="miter"/>
<polygon points="190.44,379.26 193.25,384.33 187.63,384.33" fill="#fff" stroke="#000" stroke-width="0.8" stroke-linejoin="miter"/>
<polygon points="186.42,375.59 189.23,380.65 183.61,380.65" fill="#fff" stroke="#000" stroke-width="0.8" stroke-linejoin="miter"/>
<polygon points="182.4,369.44 185.21,374.5 179.59,374.5" fill="#fff" stroke="#000" stroke-width="0.8" stroke-linejoin="miter"/>
<line x1="352" y1="243.7" x2="371.5" y2="243.7" stroke="#333" stroke-width="0.55"/>
<rect x="359.2" y="241.4" width="4.6" height="4.6" fill="#000" stroke="#000" stroke-width="0.3"/>
<text x="374" y="246.8" font-size="8.9" text-anchor="start" font-family='"Liberation Sans", Arial, sans-serif' >30 °C</text>
<line x1="352" y1="255.5" x2="371.5" y2="255.5" stroke="#333" stroke-width="0.55"/>
<circle cx="361.5" cy="255.5" r="2.53" fill="#000" stroke="#000" stroke-width="0.3"/>
<text x="374" y="258.6" font-size="8.9" text-anchor="start" font-family='"Liberation Sans", Arial, sans-serif' >45 °C</text>
<line x1="352" y1="267.3" x2="371.5" y2="267.3" stroke="#333" stroke-width="0.55"/>
<polygon points="361.5,264.31 364.38,269.49 358.62,269.49" fill="#000" stroke="#000" stroke-width="0.3" stroke-linejoin="miter"/>
<text x="374" y="270.4" font-size="8.9" text-anchor="start" font-family='"Liberation Sans", Arial, sans-serif' >60 °C</text>
<line x1="352" y1="279.1" x2="371.5" y2="279.1" stroke="#333" stroke-width="0.55"/>
<rect x="359.2" y="276.8" width="4.6" height="4.6" fill="#fff" stroke="#000" stroke-width="0.8"/>
<text x="374" y="282.2" font-size="8.9" text-anchor="start" font-family='"Liberation Sans", Arial, sans-serif' >75 °C</text>
<line x1="352" y1="290.9" x2="371.5" y2="290.9" stroke="#333" stroke-width="0.55"/>
<circle cx="361.5" cy="290.9" r="2.53" fill="#fff" stroke="#000" stroke-width="0.8"/>
<text x="374" y="294" font-size="8.9" text-anchor="start" font-family='"Liberation Sans", Arial, sans-serif' >80 °C</text>
<line x1="352" y1="302.7" x2="371.5" y2="302.7" stroke="#333" stroke-width="0.55"/>
<polygon points="361.5,299.71 364.38,304.88 358.62,304.88" fill="#fff" stroke="#000" stroke-width="0.8" stroke-linejoin="miter"/>
<text x="374" y="305.8" font-size="8.9" text-anchor="start" font-family='"Liberation Sans", Arial, sans-serif' >90 °C</text>
</svg>
</body></html>
